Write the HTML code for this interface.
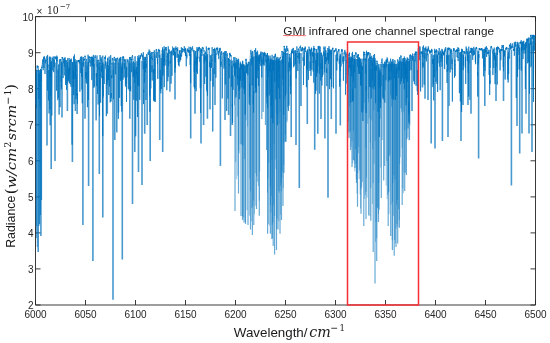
<!DOCTYPE html>
<html><head><meta charset="utf-8"><style>
html,body{margin:0;padding:0;background:#fff;width:550px;height:343px;overflow:hidden}
svg{display:block}
.tk{font-family:"Liberation Sans",Arial,sans-serif;font-size:10px;fill:#262626}
.s{font-family:"Liberation Sans",Arial,sans-serif;fill:#1a1a1a}
.r{font-family:"Liberation Serif","Times New Roman",serif;fill:#1a1a1a}
.i{font-style:italic}
.d{font-family:"DejaVu Serif",serif;fill:#1a1a1a;font-style:italic}
.du{font-family:"DejaVu Serif",serif;fill:#1a1a1a}
</style></head><body>
<svg width="550" height="343" viewBox="0 0 550 343">
<rect width="550" height="343" fill="#fff"/>
<path d="M35.5 16.6H535.5V305.0H35.5ZM35.5 305.0V300.0M35.5 16.6V21.6M85.5 305.0V300.0M85.5 16.6V21.6M135.5 305.0V300.0M135.5 16.6V21.6M185.5 305.0V300.0M185.5 16.6V21.6M235.5 305.0V300.0M235.5 16.6V21.6M285.5 305.0V300.0M285.5 16.6V21.6M335.5 305.0V300.0M335.5 16.6V21.6M385.5 305.0V300.0M385.5 16.6V21.6M435.5 305.0V300.0M435.5 16.6V21.6M485.5 305.0V300.0M485.5 16.6V21.6M535.5 305.0V300.0M535.5 16.6V21.6M35.5 305.0H40.5M535.5 305.0H530.5M35.5 268.9H40.5M535.5 268.9H530.5M35.5 232.9H40.5M535.5 232.9H530.5M35.5 196.9H40.5M535.5 196.9H530.5M35.5 160.8H40.5M535.5 160.8H530.5M35.5 124.8H40.5M535.5 124.8H530.5M35.5 88.7H40.5M535.5 88.7H530.5M35.5 52.7H40.5M535.5 52.7H530.5M35.5 16.6H40.5M535.5 16.6H530.5" fill="none" stroke="#262626" stroke-width="1" stroke-opacity="0.9"/>
<path d="M234.5 61.4V105.1M235.7 61.9V162.1M236.3 62.2V95.2M236.7 62.4V179.3M237.3 62.6V116.7M237.9 62.9V175.7M238.6 63.2V150.4M239.2 63.5V153.4M240.3 63.9V143.9M241.4 64.4V144.7M242.0 64.7V144.2M242.5 64.9V216.6M243.0 65.1V146.1M243.6 65.4V217.5M244.5 65.8V159.1M245.3 65.8V222.0M246.0 65.5V120.2M247.0 65.0V210.1M247.7 64.6V126.7M248.9 64.0V103.6M249.4 62.5V215.7M249.9 60.9V178.4M250.4 59.3V191.3M251.3 57.0V221.3M251.8 56.9V208.1M252.9 56.7V206.5M253.6 56.6V200.5M254.4 56.4V214.2M255.2 56.3V173.1M255.7 56.2V205.7M256.6 56.1V176.4M257.7 56.2V181.8M258.4 56.4V186.1M259.2 56.6V200.7M259.7 56.8V171.4M267.5 59.1V192.6M268.1 59.2V178.3M268.5 59.2V223.9M268.8 59.3V162.9M269.3 59.3V225.6M269.9 59.4V93.0M270.2 59.5V186.9M270.5 59.5V205.2M270.9 59.6V212.5M271.3 59.6V195.9M271.9 59.7V159.7M272.2 59.7V224.9M272.5 59.8V238.1M273.0 59.9V222.5M273.6 59.9V205.5M274.2 60.0V144.5M274.7 60.1V216.0M275.2 60.2V159.5M275.7 60.2V97.9M276.0 60.3V168.9M276.3 60.3V113.2M276.6 60.4V228.9M277.3 60.5V218.7M277.9 60.6V115.1M278.5 60.6V191.0M278.8 60.7V221.2M279.2 60.7V123.6M279.6 60.8V192.7M280.0 60.9V111.9M280.3 60.9V214.7M280.7 61.0V185.9M281.1 60.6V183.0M281.6 59.3V191.0M281.9 58.5V177.8M282.3 57.5V171.8M282.8 56.3V86.1M283.3 54.8V188.1M283.8 53.5V164.9M284.1 53.0V142.7M284.7 53.0V99.5M285.0 53.0V141.6M285.4 53.0V134.6M285.7 53.0V79.6M286.4 53.0V93.9M286.9 53.0V122.6M287.2 53.0V120.8M287.5 53.0V107.1M287.8 53.0V72.3M348.0 57.2V133.1M348.5 57.4V121.7M348.9 57.5V131.2M349.4 57.6V106.5M349.8 57.7V132.6M350.6 57.9V131.0M351.2 58.0V146.8M352.0 58.2V141.5M352.8 58.3V163.6M353.5 58.4V130.9M354.2 58.5V161.5M354.8 58.6V171.5M355.4 58.7V149.0M355.9 58.8V163.9M356.3 58.9V179.3M357.0 59.0V193.5M357.8 59.0V173.0M358.4 58.9V153.2M358.7 58.9V146.8M359.2 58.9V179.0M359.6 58.9V170.4M360.1 58.8V194.6M360.7 58.8V208.4M361.0 58.8V189.0M361.8 58.7V187.2M362.5 58.7V181.9M362.9 58.7V112.2M363.7 58.6V109.3M364.2 58.6V103.0M364.7 58.6V198.9M365.3 58.5V194.9M365.8 58.5V148.2M366.1 58.5V192.0M366.6 58.5V177.6M367.1 58.4V197.7M367.7 58.4V123.7M368.3 58.4V98.8M368.6 58.4V102.3M369.3 58.3V118.4M369.9 58.3V216.0M370.3 58.3V142.8M370.9 58.2V188.3M371.7 58.2V120.4M372.4 58.1V204.0M372.8 58.1V149.1M373.1 58.1V183.1M373.8 58.1V110.1M374.2 58.0V163.8M375.0 58.0V141.2M375.6 63.1V241.8M376.1 65.9V221.9M376.8 65.5V238.1M377.4 65.1V208.0M377.7 64.9V207.4M378.5 64.4V213.9M378.8 64.1V182.9M379.5 64.0V209.6M380.3 64.0V118.7M380.8 64.0V167.5M385.5 64.0V90.0M386.2 64.0V185.6M386.8 64.0V161.1M387.2 64.0V199.1M387.8 64.0V195.1M388.4 64.0V192.7M388.9 64.0V191.6M389.1 64.0V213.8M389.5 64.0V156.1M390.1 64.0V154.2M390.5 64.0V95.2M391.1 64.0V204.5M391.6 64.0V106.5M392.2 64.0V240.4M392.6 64.0V201.8M392.9 64.0V183.2M393.4 64.0V215.9M393.9 64.0V175.3M394.5 64.0V240.0M395.2 64.0V179.6M395.6 64.0V243.4M396.1 64.0V228.5M396.5 64.0V204.7M396.9 64.0V224.0M397.4 63.6V200.0M397.8 63.2V226.7M398.5 62.5V209.2M399.2 61.8V220.1M399.7 61.3V164.3M400.3 61.1V157.4M400.9 61.2V107.9M401.2 61.2V108.9M401.6 61.3V112.3M402.1 61.4V148.3M402.8 61.6V188.5M403.4 61.7V193.1M403.8 61.8V111.6M404.2 61.8V172.5M404.8 62.0V130.1M405.5 61.9V172.8M406.0 61.7V102.4M406.6 61.6V139.3M407.2 61.4V139.3M407.9 61.2V137.1M408.4 61.0V112.0M408.8 60.9V140.4M409.2 60.8V124.6M409.9 60.6V124.9" stroke="#0072bd" stroke-width="1" stroke-opacity="0.4" fill="none"/>
<path d="M235.0 61.7V211.0M238.5 63.2V193.5M241.0 64.3V216.0M242.5 64.9V220.0M244.0 65.6V222.6M245.5 65.8V224.0M248.0 64.5V225.0M250.5 58.8V229.6M252.4 56.8V235.0M253.8 56.5V225.0M256.5 56.1V209.0M259.3 56.7V215.7M261.8 57.4V119.0M263.2 57.9V112.0M265.5 58.5V125.0M266.6 58.9V150.0M267.6 59.1V233.7M270.4 59.5V233.7M271.8 59.7V239.0M273.2 59.9V246.0M274.6 60.1V254.5M276.5 60.4V250.0M278.0 60.6V229.6M280.0 60.9V233.7M281.5 59.7V220.0M283.0 55.7V206.0M284.0 53.0V173.0M349.0 57.5V138.0M350.5 57.9V150.0M352.0 58.2V167.0M353.5 58.4V160.0M355.0 58.7V168.0M356.5 58.9V183.0M357.5 59.0V206.7M361.0 58.8V213.7M363.8 58.6V226.0M366.0 58.5V219.0M368.7 58.4V215.5M370.8 58.2V220.7M373.2 58.1V252.0M375.0 58.0V283.6M376.7 65.5V261.0M378.5 64.3V222.0M381.3 64.0V198.0M383.7 64.0V180.5M382.0 64.0V140.0M384.6 64.0V166.0M388.2 64.0V226.0M390.7 64.0V236.0M392.4 64.0V250.0M394.2 64.0V255.7M396.0 64.0V247.0M397.7 63.3V243.4M399.4 61.6V227.7M402.2 61.4V205.0M404.7 61.9V191.0M406.4 61.6V175.0M408.0 61.1V128.5M409.5 60.7V140.0" stroke="#0072bd" stroke-width="1.2" stroke-opacity="0.6" fill="none"/>
<path d="M36.9 70.0V238.0M37.6 70.0V247.0M38.2 70.0V252.0M40.9 70.0V236.0M47.0 62.1V145.6M51.2 62.2V169.0M55.0 62.4V161.0M62.0 62.4V117.5M67.4 62.2V111.0M72.4 62.0V162.0M75.4 61.8V111.0M82.9 61.5V225.0M85.0 61.6V118.7M88.6 61.8V186.0M92.9 62.1V261.0M99.3 62.5V174.0M102.8 62.5V217.4M107.3 62.5V113.7M113.0 62.5V299.7M114.8 62.5V140.0M118.5 62.5V112.5M122.3 62.5V259.5M129.8 62.5V118.7M132.5 62.5V204.0M134.8 62.5V152.0M138.5 62.5V172.0M142.0 60.7V185.0M144.7 58.2V133.7M150.2 56.3V161.0M159.7 54.8V140.0M162.7 54.4V152.0M175.0 54.0V99.5M190.7 54.0V138.6M195.0 54.0V113.7M201.0 54.0V143.6M203.6 54.0V125.0M207.4 54.0V118.7M215.0 54.0V105.0M220.4 55.5V166.0M225.0 57.3V120.0M228.6 58.9V115.0M230.5 59.7V136.0M232.3 60.5V125.0M285.8 53.0V141.7M291.2 53.0V137.0M296.0 53.0V145.0M299.3 53.0V188.0M301.0 53.0V106.0M307.3 53.0V124.0M314.7 53.0V149.7M317.8 53.0V133.7M321.0 53.0V119.0M324.9 53.0V138.5M328.0 53.0V197.7M331.3 53.4V119.0M336.0 54.8V133.7M340.3 56.0V125.6M412.0 60.0V111.0M422.5 52.5V87.5M425.0 53.0V98.7M428.0 53.4V100.0M431.2 53.8V143.6M435.0 54.3V148.6M437.0 54.6V84.0M442.4 55.0V141.0M448.0 54.8V137.0M449.0 54.8V106.0M461.0 54.6V141.0M463.0 54.5V105.0M468.0 54.4V105.0M470.0 54.4V100.0M471.0 54.4V113.7M478.6 54.2V158.6M484.8 54.1V106.0M496.0 52.8V101.0M503.5 51.3V101.0M511.4 49.6V185.4M517.0 48.1V126.0M519.7 47.4V153.6M522.0 46.8V133.6M526.0 45.2V113.7M529.0 42.8V133.6M532.0 41.3V152.0" stroke="#0072bd" stroke-width="1.6" stroke-opacity="0.72" fill="none"/>
<path d="M36.2 70.0V226.0M38.9 70.0V226.0M39.6 70.0V224.0M41.6 70.0V200.0M40.4 70.0V215.0" stroke="#0072bd" stroke-width="1" stroke-opacity="0.85" fill="none"/>
<polyline fill="none" stroke="#0072bd" stroke-width="0.7" stroke-linejoin="round" points="35.90,104.5 35.95,104.5 36.00,96.9 36.05,94.7 36.10,94.5 36.15,87.0 36.20,80.1 36.25,75.7 36.30,74.5 36.35,73.8 36.40,74.9 36.45,79.4 36.50,96.7 36.55,108.1 36.60,84.6 36.65,74.6 36.70,71.5 36.75,69.9 36.80,69.1 36.85,68.9 36.90,68.3 36.95,67.5 37.00,67.5 37.05,67.5 37.10,65.6 37.15,67.1 37.20,67.3 37.25,67.1 37.30,67.2 37.35,67.2 37.40,66.9 37.45,66.6 37.50,66.5 37.55,65.9 37.60,66.6 37.65,65.8 37.70,66.2 37.75,66.0 37.80,67.3 37.85,66.1 37.90,67.3 37.95,66.7 38.00,66.8 38.05,66.8 38.10,67.5 38.15,67.4 38.20,69.1 38.25,69.3 38.30,68.7 38.35,71.4 38.40,70.3 38.45,70.9 38.50,71.9 38.55,72.4 38.60,74.3 38.65,76.6 38.70,83.1 38.75,89.1 38.80,99.0 38.85,93.7 38.90,84.1 38.95,79.1 39.00,77.4 39.05,75.9 39.10,76.0 39.15,75.7 39.20,75.3 39.25,77.9 39.30,86.1 39.35,80.7 39.40,76.2 39.45,74.6 39.50,77.2 39.55,82.5 39.60,78.5 39.65,75.3 39.70,73.7 39.75,73.1 39.80,73.3 39.85,76.4 39.90,81.0 39.95,86.5 40.00,84.2 40.05,86.7 40.10,98.7 40.15,107.2 40.20,94.0 40.25,82.3 40.30,75.5 40.35,72.4 40.40,71.3 40.45,70.6 40.50,69.9 40.55,69.7 40.60,69.5 40.65,69.6 40.70,69.4 40.75,70.0 40.80,69.0 40.85,68.9 40.90,69.2 40.95,69.5 41.00,70.3 41.05,71.4 41.10,74.2 41.15,77.8 41.20,81.4 41.25,80.3 41.30,76.8 41.35,72.3 41.40,70.1 41.45,68.9 41.50,68.8 41.55,68.5 41.60,67.4 41.65,68.0 41.70,67.3 41.75,67.4 41.80,67.0 41.85,67.0 41.90,68.2 41.95,67.3 42.00,66.9 42.05,66.4 42.10,66.8 42.15,65.1 42.20,65.5 42.25,64.2 42.30,63.8 42.35,62.9 42.40,63.3 42.45,63.0 42.50,61.4 42.55,61.1 42.60,61.5 42.65,61.8 42.70,61.1 42.75,59.8 42.80,60.0 42.85,59.5 42.90,60.1 42.95,60.0 43.00,61.2 43.05,64.6 43.10,68.3 43.15,70.2 43.20,67.2 43.25,62.4 43.30,60.6 43.35,59.8 43.40,59.1 43.45,60.8 43.50,61.2 43.55,57.8 43.60,58.9 43.65,56.8 43.70,57.0 43.75,58.1 43.80,59.6 43.85,60.8 43.90,65.1 43.95,68.1 44.00,65.5 44.05,60.3 44.10,57.9 44.15,57.5 44.20,57.6 44.25,57.5 44.30,59.7 44.35,56.8 44.40,56.3 44.45,56.3 44.50,56.6 44.55,56.5 44.60,57.0 44.65,57.3 44.70,58.4 44.75,58.0 44.80,58.7 44.85,60.3 44.90,63.1 44.95,68.5 45.00,74.0 45.05,72.5 45.10,65.6 45.15,62.3 45.20,60.4 45.25,60.4 45.30,60.0 45.35,60.9 45.40,61.5 45.45,63.0 45.50,63.3 45.55,61.9 45.60,60.8 45.65,60.4 45.70,59.9 45.75,59.5 45.80,59.8 45.85,59.8 45.90,61.0 45.95,59.9 46.00,60.2 46.05,60.3 46.10,61.8 46.15,61.1 46.20,60.2 46.25,60.1 46.30,59.7 46.35,58.5 46.40,58.2 46.45,57.7 46.50,57.3 46.55,57.1 46.60,56.6 46.65,56.3 46.70,56.7 46.75,56.7 46.80,57.4 46.85,57.2 46.90,57.8 46.95,59.3 47.00,58.8 47.05,59.6 47.10,62.4 47.15,65.3 47.20,70.7 47.25,74.4 47.30,74.1 47.35,75.1 47.40,81.8 47.45,90.4 47.50,88.5 47.55,78.0 47.60,54.9 47.65,68.6 47.70,66.1 47.75,65.3 47.80,64.9 47.85,64.9 47.90,65.1 47.95,65.6 48.00,64.9 48.05,64.7 48.10,65.1 48.15,66.6 48.20,68.8 48.25,70.7 48.30,73.8 48.35,80.7 48.40,91.1 48.45,100.4 48.50,98.6 48.55,88.8 48.60,79.2 48.65,73.4 48.70,70.9 48.75,70.0 48.80,70.8 48.85,74.1 48.90,78.1 48.95,87.3 49.00,99.7 49.05,113.4 49.10,113.2 49.15,98.8 49.20,85.9 49.25,77.4 49.30,72.7 49.35,56.8 49.40,70.0 49.45,72.1 49.50,77.1 49.55,74.9 49.60,70.2 49.65,69.9 49.70,70.4 49.75,73.6 49.80,80.0 49.85,86.7 49.90,100.5 49.95,109.2 50.00,56.6 50.05,105.1 50.10,110.5 50.15,125.3 50.20,115.1 50.25,96.9 50.30,94.6 50.35,93.2 50.40,83.6 50.45,75.1 50.50,70.8 50.55,69.4 50.60,72.3 50.65,76.9 50.70,70.4 50.75,66.9 50.80,70.8 50.85,77.5 50.90,57.2 50.95,95.8 51.00,83.6 51.05,71.8 51.10,66.3 51.15,63.8 51.20,62.9 51.25,61.4 51.30,62.1 51.35,61.7 51.40,62.7 51.45,64.7 51.50,65.2 51.55,67.1 51.60,69.5 51.65,74.7 51.70,86.1 51.75,101.8 51.80,115.5 51.85,107.4 51.90,94.6 51.95,85.7 52.00,80.7 52.05,77.0 52.10,71.3 52.15,65.3 52.20,62.1 52.25,60.6 52.30,59.9 52.35,59.2 52.40,59.0 52.45,59.1 52.50,58.9 52.55,58.0 52.60,58.9 52.65,59.5 52.70,61.2 52.75,68.0 52.80,70.4 52.85,62.0 52.90,58.8 52.95,58.1 53.00,58.6 53.05,58.0 53.10,57.0 53.15,57.2 53.20,56.7 53.25,57.3 53.30,56.7 53.35,57.3 53.40,57.6 53.45,58.4 53.50,60.2 53.55,61.6 53.60,64.6 53.65,69.3 53.70,72.1 53.75,69.4 53.80,64.8 53.85,61.6 53.90,60.5 53.95,61.6 54.00,59.5 54.05,59.4 54.10,59.8 54.15,61.2 54.20,62.8 54.25,64.8 54.30,67.1 54.35,65.9 54.40,62.0 54.45,59.3 54.50,58.2 54.55,58.3 54.60,57.6 54.65,56.9 54.70,56.8 54.75,57.2 54.80,56.9 54.85,56.9 54.90,56.9 54.95,57.0 55.00,56.7 55.05,57.2 55.10,56.7 55.15,56.9 55.20,57.0 55.25,57.9 55.30,57.2 55.35,57.6 55.40,57.8 55.45,57.9 55.50,58.1 55.55,58.4 55.60,58.5 55.65,58.6 55.70,59.2 55.75,59.2 55.80,58.2 55.85,58.0 55.90,57.8 55.95,58.7 56.00,57.1 56.05,57.8 56.10,57.3 56.15,57.5 56.20,58.6 56.25,58.0 56.30,57.9 56.35,59.3 56.40,61.3 56.45,65.7 56.50,74.6 56.55,90.1 56.60,90.7 56.65,75.3 56.70,67.0 56.75,55.6 56.80,61.0 56.85,60.1 56.90,61.4 56.95,59.1 57.00,58.9 57.05,58.2 57.10,57.8 57.15,57.1 57.20,57.1 57.25,56.7 57.30,57.2 57.35,57.9 57.40,58.0 57.45,57.9 57.50,58.7 57.55,59.1 57.60,59.9 57.65,61.0 57.70,64.5 57.75,70.0 57.80,83.4 57.85,100.2 57.90,91.3 57.95,76.2 58.00,70.7 58.05,69.6 58.10,72.4 58.15,79.8 58.20,90.7 58.25,97.9 58.30,87.3 58.35,77.3 58.40,69.8 58.45,66.7 58.50,66.1 58.55,65.0 58.60,64.5 58.65,64.5 58.70,65.8 58.75,67.5 58.80,70.8 58.85,76.2 58.90,83.2 58.95,84.7 59.00,89.7 59.05,107.7 59.10,114.6 59.15,100.6 59.20,90.1 59.25,80.1 59.30,73.9 59.35,70.9 59.40,66.1 59.45,64.0 59.50,63.3 59.55,62.6 59.60,62.1 59.65,60.8 59.70,61.1 59.75,59.2 59.80,62.6 59.85,64.5 59.90,66.9 59.95,73.9 60.00,89.9 60.05,107.2 60.10,91.7 60.15,74.9 60.20,67.2 60.25,63.3 60.30,61.7 60.35,60.5 60.40,59.9 60.45,60.1 60.50,60.0 60.55,59.4 60.60,60.0 60.65,59.3 60.70,60.5 60.75,60.4 60.80,61.0 60.85,61.7 60.90,62.7 60.95,63.8 61.00,66.6 61.05,71.7 61.10,81.5 61.15,82.4 61.20,75.7 61.25,77.9 61.30,89.3 61.35,85.1 61.40,84.5 61.45,86.7 61.50,75.4 61.55,66.2 61.60,63.1 61.65,61.8 61.70,63.0 61.75,67.9 61.80,74.3 61.85,70.9 61.90,64.0 61.95,61.0 62.00,60.0 62.05,58.0 62.10,57.6 62.15,57.1 62.20,57.9 62.25,57.5 62.30,57.5 62.35,57.3 62.40,57.7 62.45,57.1 62.50,58.2 62.55,57.4 62.60,57.7 62.65,58.2 62.70,58.2 62.75,59.3 62.80,58.8 62.85,59.4 62.90,61.0 62.95,62.7 63.00,67.1 63.05,74.0 63.10,78.1 63.15,72.8 63.20,67.3 63.25,64.2 63.30,62.3 63.35,61.7 63.40,62.9 63.45,61.0 63.50,60.9 63.55,61.1 63.60,60.5 63.65,60.0 63.70,60.3 63.75,59.9 63.80,59.7 63.85,59.3 63.90,60.3 63.95,59.5 64.00,58.8 64.05,59.0 64.10,59.2 64.15,60.2 64.20,60.2 64.25,62.3 64.30,63.7 64.35,57.6 64.40,66.7 64.45,65.2 64.50,63.6 64.55,63.3 64.60,66.2 64.65,71.8 64.70,75.4 64.75,74.7 64.80,72.0 64.85,71.5 64.90,65.6 64.95,61.6 65.00,61.8 65.05,58.6 65.10,58.1 65.15,58.2 65.20,58.0 65.25,57.8 65.30,57.5 65.35,58.5 65.40,59.7 65.45,62.7 65.50,68.1 65.55,83.1 65.60,85.0 65.65,69.9 65.70,64.6 65.75,61.8 65.80,60.6 65.85,60.8 65.90,60.2 65.95,60.7 66.00,60.5 66.05,60.0 66.10,62.2 66.15,60.8 66.20,62.6 66.25,62.4 66.30,64.3 66.35,66.2 66.40,68.7 66.45,74.1 66.50,81.5 66.55,89.9 66.60,87.0 66.65,80.9 66.70,72.2 66.75,68.6 66.80,65.2 66.85,64.9 66.90,63.6 66.95,62.3 67.00,62.4 67.05,63.3 67.10,66.2 67.15,70.8 67.20,78.4 67.25,83.4 67.30,77.3 67.35,69.1 67.40,64.9 67.45,61.7 67.50,59.8 67.55,58.8 67.60,58.3 67.65,58.7 67.70,58.5 67.75,58.5 67.80,58.8 67.85,59.0 67.90,59.5 67.95,59.6 68.00,59.6 68.05,61.2 68.10,61.2 68.15,62.4 68.20,64.5 68.25,66.1 68.30,68.8 68.35,74.2 68.40,81.4 68.45,77.4 68.50,71.1 68.55,68.2 68.60,68.6 68.65,72.9 68.70,79.2 68.75,75.9 68.80,68.8 68.85,63.4 68.90,60.8 68.95,59.5 69.00,58.6 69.05,59.1 69.10,58.5 69.15,58.1 69.20,59.9 69.25,60.0 69.30,63.0 69.35,70.0 69.40,83.1 69.45,81.4 69.50,70.5 69.55,67.7 69.60,71.6 69.65,73.9 69.70,67.7 69.75,63.2 69.80,61.2 69.85,60.3 69.90,61.4 69.95,61.2 70.00,65.4 70.05,67.2 70.10,79.6 70.15,84.1 70.20,75.2 70.25,67.0 70.30,64.6 70.35,61.3 70.40,61.8 70.45,59.3 70.50,59.5 70.55,59.4 70.60,61.2 70.65,60.1 70.70,61.3 70.75,63.1 70.80,66.8 70.85,71.3 70.90,80.3 70.95,86.7 71.00,82.6 71.05,73.4 71.10,66.6 71.15,62.4 71.20,60.7 71.25,59.7 71.30,58.6 71.35,59.2 71.40,59.4 71.45,59.3 71.50,60.5 71.55,60.2 71.60,61.4 71.65,62.6 71.70,65.2 71.75,69.0 71.80,75.9 71.85,82.6 71.90,89.6 71.95,101.7 72.00,124.0 72.05,144.6 72.10,139.8 72.15,113.8 72.20,94.1 72.25,80.8 72.30,73.5 72.35,69.3 72.40,67.6 72.45,66.7 72.50,64.0 72.55,62.8 72.60,62.7 72.65,62.0 72.70,62.4 72.75,63.3 72.80,65.1 72.85,66.3 72.90,67.7 72.95,72.7 73.00,77.9 73.05,78.5 73.10,74.2 73.15,70.7 73.20,70.1 73.25,72.5 73.30,77.7 73.35,86.8 73.40,84.6 73.45,77.0 73.50,72.8 73.55,56.4 73.60,77.9 73.65,86.7 73.70,95.1 73.75,91.9 73.80,83.1 73.85,76.1 73.90,71.6 73.95,71.8 74.00,77.5 74.05,92.0 74.10,104.2 74.15,84.7 74.20,73.5 74.25,71.4 74.30,70.2 74.35,67.1 74.40,63.7 74.45,54.4 74.50,61.0 74.55,61.2 74.60,60.7 74.65,61.7 74.70,65.0 74.75,72.3 74.80,79.2 74.85,70.5 74.90,64.1 74.95,61.2 75.00,60.6 75.05,59.4 75.10,59.3 75.15,59.6 75.20,59.2 75.25,59.7 75.30,60.3 75.35,62.4 75.40,63.7 75.45,68.6 75.50,71.6 75.55,75.7 75.60,76.0 75.65,70.6 75.70,68.2 75.75,65.7 75.80,65.0 75.85,66.1 75.90,70.8 75.95,83.2 76.00,99.2 76.05,84.1 76.10,75.2 76.15,78.3 76.20,84.2 76.25,86.5 76.30,89.8 76.35,95.4 76.40,85.0 76.45,72.6 76.50,65.9 76.55,62.6 76.60,61.4 76.65,60.3 76.70,62.2 76.75,62.9 76.80,62.2 76.85,64.0 76.90,67.5 76.95,71.2 77.00,81.7 77.05,102.4 77.10,114.0 77.15,109.6 77.20,100.6 77.25,93.1 77.30,94.9 77.35,103.2 77.40,103.7 77.45,92.3 77.50,79.4 77.55,72.1 77.60,67.8 77.65,65.8 77.70,64.1 77.75,63.0 77.80,62.7 77.85,61.7 77.90,61.2 77.95,60.7 78.00,60.8 78.05,61.9 78.10,60.4 78.15,60.9 78.20,60.7 78.25,61.1 78.30,60.3 78.35,60.9 78.40,60.8 78.45,61.1 78.50,61.3 78.55,61.6 78.60,61.2 78.65,61.0 78.70,61.6 78.75,60.8 78.80,61.6 78.85,60.7 78.90,61.4 78.95,61.4 79.00,60.2 79.05,61.1 79.10,60.2 79.15,59.8 79.20,60.5 79.25,60.0 79.30,61.2 79.35,60.0 79.40,63.4 79.45,60.7 79.50,60.3 79.55,61.2 79.60,61.6 79.65,62.6 79.70,65.2 79.75,69.8 79.80,79.9 79.85,91.6 79.90,91.7 79.95,81.1 80.00,75.9 80.05,71.4 80.10,65.3 80.15,61.4 80.20,60.3 80.25,58.7 80.30,58.1 80.35,57.6 80.40,57.3 80.45,57.6 80.50,57.5 80.55,57.9 80.60,58.1 80.65,61.3 80.70,66.4 80.75,72.9 80.80,67.6 80.85,61.3 80.90,58.2 80.95,57.2 81.00,57.1 81.05,56.5 81.10,56.7 81.15,57.3 81.20,58.2 81.25,58.2 81.30,59.0 81.35,60.0 81.40,60.9 81.45,63.0 81.50,66.8 81.55,73.0 81.60,76.7 81.65,73.4 81.70,68.0 81.75,56.6 81.80,67.2 81.85,71.3 81.90,86.0 81.95,89.6 82.00,76.9 82.05,68.8 82.10,69.2 82.15,74.1 82.20,87.6 82.25,103.3 82.30,86.1 82.35,71.0 82.40,65.3 82.45,62.5 82.50,61.6 82.55,60.4 82.60,60.1 82.65,59.9 82.70,60.0 82.75,59.2 82.80,58.1 82.85,58.2 82.90,57.8 82.95,58.1 83.00,57.7 83.05,57.4 83.10,57.3 83.15,57.2 83.20,57.5 83.25,57.1 83.30,58.3 83.35,59.6 83.40,61.8 83.45,66.5 83.50,66.4 83.55,63.2 83.60,61.0 83.65,59.3 83.70,59.1 83.75,58.8 83.80,60.2 83.85,59.5 83.90,59.3 83.95,59.9 84.00,59.3 84.05,60.0 84.10,59.3 84.15,59.5 84.20,59.6 84.25,59.6 84.30,59.7 84.35,60.0 84.40,59.9 84.45,60.5 84.50,60.4 84.55,60.6 84.60,59.9 84.65,59.5 84.70,59.1 84.75,57.9 84.80,57.6 84.85,57.5 84.90,57.3 84.95,56.2 85.00,56.8 85.05,55.6 85.10,56.2 85.15,56.6 85.20,56.3 85.25,56.7 85.30,57.3 85.35,58.2 85.40,59.2 85.45,60.3 85.50,62.1 85.55,64.0 85.60,65.1 85.65,72.1 85.70,77.1 85.75,75.0 85.80,72.3 85.85,73.9 85.90,78.0 85.95,79.1 86.00,73.5 86.05,71.9 86.10,73.4 86.15,82.7 86.20,79.4 86.25,68.3 86.30,61.9 86.35,59.4 86.40,59.1 86.45,59.5 86.50,58.9 86.55,59.0 86.60,59.4 86.65,60.6 86.70,61.3 86.75,63.7 86.80,69.6 86.85,80.6 86.90,83.7 86.95,73.3 87.00,67.0 87.05,65.5 87.10,65.4 87.15,67.0 87.20,68.7 87.25,71.3 87.30,78.5 87.35,91.4 87.40,107.2 87.45,105.9 87.50,87.2 87.55,76.3 87.60,71.3 87.65,67.3 87.70,65.5 87.75,64.4 87.80,63.9 87.85,63.8 87.90,63.2 87.95,62.3 88.00,62.8 88.05,54.7 88.10,64.8 88.15,63.0 88.20,63.3 88.25,64.5 88.30,68.8 88.35,82.2 88.40,99.9 88.45,81.8 88.50,67.6 88.55,62.5 88.60,60.3 88.65,58.5 88.70,58.9 88.75,57.9 88.80,57.1 88.85,56.4 88.90,56.9 88.95,57.3 89.00,57.2 89.05,56.5 89.10,56.6 89.15,56.7 89.20,57.0 89.25,56.8 89.30,58.1 89.35,57.1 89.40,56.9 89.45,58.0 89.50,58.7 89.55,58.9 89.60,60.3 89.65,59.4 89.70,59.5 89.75,59.9 89.80,61.9 89.85,62.6 89.90,60.9 89.95,61.0 90.00,60.6 90.05,61.4 90.10,60.7 90.15,61.7 90.20,61.6 90.25,63.1 90.30,65.6 90.35,66.6 90.40,64.6 90.45,61.1 90.50,59.5 90.55,58.1 90.60,57.5 90.65,57.1 90.70,57.5 90.75,57.4 90.80,57.9 90.85,56.9 90.90,57.2 90.95,57.5 91.00,57.5 91.05,58.0 91.10,57.9 91.15,58.0 91.20,58.5 91.25,57.6 91.30,57.4 91.35,58.0 91.40,57.7 91.45,58.1 91.50,58.5 91.55,60.4 91.60,62.1 91.65,64.6 91.70,70.8 91.75,79.4 91.80,80.1 91.85,56.7 91.90,65.4 91.95,60.9 92.00,59.1 92.05,57.9 92.10,58.1 92.15,56.8 92.20,57.0 92.25,56.9 92.30,57.6 92.35,59.5 92.40,62.0 92.45,65.2 92.50,64.6 92.55,60.9 92.60,59.0 92.65,58.7 92.70,57.9 92.75,59.8 92.80,62.7 92.85,65.7 92.90,62.8 92.95,59.5 93.00,58.6 93.05,58.5 93.10,60.2 93.15,60.8 93.20,65.4 93.25,66.9 93.30,63.6 93.35,54.9 93.40,60.3 93.45,60.0 93.50,61.0 93.55,61.2 93.60,61.1 93.65,58.3 93.70,66.4 93.75,72.2 93.80,82.0 93.85,87.8 93.90,78.9 93.95,70.0 94.00,66.2 94.05,64.2 94.10,64.7 94.15,68.2 94.20,69.6 94.25,78.6 94.30,84.6 94.35,86.4 94.40,80.1 94.45,72.3 94.50,65.9 94.55,62.5 94.60,60.1 94.65,58.8 94.70,58.2 94.75,57.3 94.80,57.8 94.85,56.8 94.90,57.6 94.95,56.0 95.00,56.0 95.05,56.3 95.10,56.2 95.15,55.6 95.20,55.3 95.25,55.1 95.30,55.2 95.35,55.2 95.40,56.0 95.45,56.2 95.50,56.6 95.55,56.8 95.60,58.5 95.65,58.6 95.70,59.3 95.75,61.9 95.80,62.8 95.85,66.7 95.90,72.1 95.95,79.5 96.00,89.1 96.05,103.0 96.10,120.4 96.15,117.6 96.20,95.2 96.25,81.1 96.30,75.1 96.35,73.0 96.40,74.0 96.45,77.0 96.50,76.4 96.55,74.8 96.60,74.8 96.65,80.8 96.70,86.1 96.75,77.9 96.80,69.4 96.85,66.1 96.90,63.6 96.95,55.5 97.00,64.5 97.05,66.8 97.10,66.7 97.15,64.5 97.20,61.9 97.25,61.2 97.30,59.9 97.35,60.2 97.40,61.5 97.45,62.4 97.50,67.7 97.55,78.4 97.60,94.0 97.65,77.2 97.70,68.5 97.75,65.2 97.80,64.3 97.85,64.4 97.90,65.2 97.95,68.3 98.00,74.7 98.05,88.1 98.10,104.5 98.15,101.8 98.20,91.9 98.25,79.5 98.30,69.2 98.35,64.2 98.40,62.9 98.45,61.2 98.50,60.3 98.55,59.8 98.60,60.8 98.65,60.4 98.70,60.5 98.75,60.4 98.80,60.9 98.85,62.0 98.90,63.3 98.95,64.0 99.00,65.3 99.05,67.5 99.10,70.1 99.15,69.6 99.20,68.4 99.25,67.1 99.30,67.1 99.35,69.0 99.40,75.1 99.45,94.3 99.50,116.1 99.55,88.9 99.60,79.3 99.65,78.3 99.70,83.1 99.75,87.9 99.80,84.3 99.85,77.4 99.90,73.8 99.95,76.0 100.00,72.1 100.05,55.0 100.10,64.0 100.15,63.0 100.20,64.4 100.25,64.9 100.30,65.0 100.35,66.2 100.40,68.6 100.45,73.0 100.50,77.8 100.55,86.4 100.60,97.8 100.65,102.7 100.70,98.5 100.75,85.6 100.80,77.6 100.85,71.7 100.90,68.7 100.95,65.8 101.00,63.8 101.05,62.9 101.10,56.8 101.15,61.3 101.20,59.9 101.25,58.8 101.30,58.9 101.35,59.3 101.40,61.1 101.45,64.9 101.50,71.3 101.55,71.8 101.60,66.3 101.65,65.5 101.70,67.7 101.75,72.1 101.80,78.1 101.85,77.3 101.90,71.5 101.95,66.8 102.00,65.0 102.05,63.4 102.10,63.0 102.15,61.7 102.20,62.3 102.25,63.3 102.30,64.6 102.35,65.2 102.40,67.5 102.45,68.5 102.50,71.4 102.55,75.8 102.60,84.2 102.65,99.4 102.70,122.5 102.75,136.1 102.80,55.6 102.85,97.9 102.90,88.2 102.95,84.7 103.00,84.9 103.05,90.7 103.10,96.1 103.15,94.9 103.20,85.3 103.25,79.3 103.30,76.4 103.35,76.0 103.40,78.3 103.45,79.7 103.50,75.7 103.55,71.9 103.60,69.5 103.65,68.7 103.70,68.2 103.75,67.2 103.80,66.3 103.85,65.5 103.90,64.6 103.95,64.2 104.00,64.2 104.05,64.7 104.10,66.6 104.15,74.4 104.20,84.0 104.25,72.9 104.30,64.5 104.35,61.3 104.40,59.6 104.45,59.1 104.50,58.8 104.55,58.4 104.60,58.5 104.65,57.9 104.70,58.0 104.75,57.6 104.80,57.3 104.85,57.2 104.90,57.4 104.95,57.2 105.00,57.6 105.05,57.2 105.10,58.7 105.15,57.9 105.20,57.4 105.25,58.9 105.30,57.9 105.35,58.2 105.40,55.6 105.45,60.5 105.50,65.4 105.55,63.9 105.60,61.7 105.65,61.3 105.70,61.7 105.75,63.6 105.80,66.6 105.85,68.6 105.90,67.7 105.95,66.7 106.00,65.3 106.05,67.1 106.10,68.9 106.15,72.0 106.20,79.1 106.25,91.9 106.30,108.7 106.35,116.2 106.40,101.3 106.45,86.1 106.50,77.2 106.55,73.9 106.60,75.8 106.65,83.2 106.70,80.9 106.75,72.1 106.80,69.6 106.85,68.5 106.90,71.8 106.95,78.3 107.00,84.7 107.05,81.0 107.10,73.4 107.15,66.0 107.20,63.5 107.25,63.2 107.30,61.5 107.35,63.8 107.40,67.0 107.45,65.9 107.50,61.6 107.55,59.7 107.60,58.8 107.65,59.2 107.70,60.1 107.75,57.7 107.80,61.4 107.85,61.0 107.90,63.2 107.95,67.8 108.00,74.4 108.05,80.4 108.10,78.3 108.15,72.2 108.20,67.5 108.25,65.4 108.30,65.6 108.35,66.5 108.40,67.8 108.45,73.1 108.50,79.8 108.55,78.5 108.60,72.9 108.65,69.2 108.70,70.6 108.75,82.5 108.80,95.0 108.85,73.4 108.90,64.5 108.95,59.7 109.00,58.6 109.05,57.5 109.10,56.7 109.15,57.0 109.20,56.8 109.25,58.4 109.30,59.7 109.35,66.7 109.40,86.6 109.45,73.3 109.50,62.8 109.55,60.5 109.60,60.2 109.65,60.1 109.70,60.1 109.75,59.8 109.80,60.0 109.85,60.3 109.90,62.2 109.95,62.1 110.00,65.9 110.05,68.0 110.10,75.3 110.15,90.7 110.20,102.4 110.25,89.7 110.30,75.2 110.35,67.5 110.40,65.5 110.45,64.1 110.50,60.5 110.55,60.7 110.60,60.5 110.65,60.8 110.70,55.1 110.75,63.0 110.80,64.6 110.85,65.3 110.90,69.8 110.95,78.2 111.00,90.8 111.05,101.5 111.10,98.9 111.15,93.0 111.20,93.8 111.25,98.0 111.30,92.3 111.35,82.3 111.40,76.9 111.45,75.5 111.50,78.2 111.55,77.7 111.60,73.6 111.65,69.5 111.70,68.9 111.75,65.4 111.80,65.2 111.85,63.3 111.90,64.4 111.95,62.2 112.00,62.0 112.05,61.3 112.10,60.8 112.15,60.5 112.20,60.1 112.25,60.3 112.30,58.1 112.35,59.5 112.40,59.1 112.45,58.9 112.50,59.0 112.55,58.8 112.60,58.4 112.65,58.4 112.70,58.8 112.75,58.4 112.80,59.3 112.85,58.9 112.90,59.7 112.95,60.3 113.00,61.3 113.05,62.9 113.10,68.0 113.15,77.2 113.20,77.8 113.25,70.7 113.30,69.7 113.35,74.3 113.40,82.1 113.45,94.4 113.50,99.1 113.55,93.1 113.60,80.2 113.65,71.4 113.70,65.5 113.75,63.8 113.80,60.9 113.85,59.9 113.90,59.2 113.95,59.4 114.00,59.4 114.05,58.3 114.10,57.6 114.15,57.7 114.20,57.8 114.25,57.6 114.30,57.0 114.35,57.6 114.40,56.9 114.45,56.9 114.50,57.7 114.55,57.5 114.60,57.2 114.65,57.9 114.70,58.1 114.75,58.0 114.80,58.5 114.85,59.0 114.90,60.8 114.95,60.4 115.00,59.6 115.05,59.8 115.10,60.3 115.15,60.2 115.20,60.1 115.25,59.7 115.30,59.7 115.35,60.1 115.40,61.0 115.45,61.1 115.50,62.7 115.55,69.0 115.60,74.3 115.65,65.5 115.70,61.1 115.75,59.9 115.80,59.4 115.85,59.4 115.90,59.3 115.95,58.9 116.00,59.3 116.05,58.3 116.10,59.2 116.15,58.4 116.20,59.0 116.25,61.0 116.30,59.8 116.35,60.6 116.40,61.0 116.45,62.1 116.50,61.9 116.55,62.8 116.60,65.2 116.65,69.6 116.70,78.5 116.75,97.6 116.80,131.2 116.85,132.4 116.90,103.7 116.95,93.3 117.00,84.1 117.05,73.1 117.10,65.5 117.15,62.2 117.20,60.5 117.25,60.0 117.30,59.3 117.35,58.2 117.40,58.3 117.45,57.7 117.50,57.7 117.55,57.9 117.60,58.5 117.65,57.9 117.70,58.1 117.75,58.9 117.80,59.7 117.85,60.0 117.90,60.5 117.95,62.2 118.00,63.0 118.05,66.2 118.10,66.9 118.15,72.1 118.20,79.5 118.25,93.8 118.30,115.0 118.35,118.8 118.40,98.3 118.45,83.2 118.50,78.1 118.55,77.9 118.60,78.8 118.65,75.1 118.70,70.2 118.75,65.8 118.80,64.8 118.85,62.8 118.90,60.9 118.95,59.8 119.00,60.0 119.05,59.6 119.10,60.1 119.15,59.4 119.20,60.4 119.25,61.2 119.30,61.0 119.35,61.6 119.40,62.0 119.45,63.8 119.50,66.8 119.55,76.0 119.60,97.8 119.65,94.3 119.70,73.9 119.75,65.4 119.80,61.9 119.85,60.0 119.90,58.8 119.95,58.0 120.00,61.2 120.05,59.1 120.10,58.0 120.15,57.6 120.20,58.4 120.25,57.7 120.30,60.3 120.35,60.6 120.40,64.7 120.45,74.4 120.50,80.8 120.55,69.3 120.60,62.3 120.65,58.9 120.70,58.1 120.75,57.2 120.80,57.3 120.85,56.9 120.90,58.4 120.95,59.6 121.00,59.1 121.05,61.3 121.10,63.3 121.15,70.4 121.20,83.1 121.25,106.1 121.30,94.8 121.35,75.5 121.40,68.9 121.45,67.4 121.50,70.7 121.55,74.6 121.60,80.1 121.65,85.3 121.70,95.5 121.75,111.5 121.80,103.5 121.85,84.8 121.90,74.8 121.95,68.4 122.00,65.8 122.05,64.8 122.10,64.4 122.15,64.5 122.20,64.8 122.25,65.1 122.30,66.6 122.35,68.0 122.40,72.8 122.45,68.7 122.50,64.1 122.55,62.9 122.60,62.3 122.65,61.2 122.70,61.0 122.75,56.4 122.80,64.1 122.85,66.5 122.90,72.7 122.95,79.8 123.00,79.2 123.05,71.1 123.10,64.7 123.15,61.0 123.20,60.2 123.25,58.8 123.30,57.4 123.35,56.9 123.40,58.1 123.45,57.0 123.50,56.8 123.55,57.7 123.60,56.5 123.65,57.2 123.70,57.6 123.75,57.9 123.80,58.1 123.85,58.7 123.90,60.2 123.95,60.0 124.00,61.2 124.05,65.1 124.10,70.6 124.15,77.5 124.20,70.8 124.25,64.5 124.30,63.3 124.35,63.2 124.40,63.9 124.45,66.4 124.50,68.4 124.55,67.8 124.60,65.2 124.65,62.1 124.70,60.4 124.75,60.9 124.80,60.3 124.85,60.2 124.90,59.0 124.95,60.9 125.00,59.5 125.05,60.9 125.10,60.2 125.15,60.9 125.20,62.8 125.25,64.6 125.30,68.4 125.35,75.4 125.40,84.9 125.45,86.5 125.50,79.1 125.55,70.3 125.60,66.1 125.65,63.2 125.70,62.3 125.75,62.1 125.80,61.4 125.85,61.1 125.90,62.0 125.95,63.5 126.00,66.8 126.05,72.5 126.10,82.6 126.15,83.8 126.20,75.7 126.25,70.5 126.30,69.5 126.35,68.0 126.40,71.6 126.45,80.1 126.50,101.9 126.55,88.9 126.60,72.6 126.65,67.9 126.70,66.8 126.75,67.1 126.80,69.6 126.85,77.3 126.90,76.3 126.95,66.1 127.00,62.6 127.05,60.1 127.10,59.2 127.15,58.9 127.20,59.4 127.25,59.7 127.30,59.7 127.35,59.7 127.40,60.8 127.45,60.3 127.50,61.6 127.55,61.0 127.60,61.1 127.65,61.5 127.70,61.9 127.75,62.5 127.80,63.1 127.85,63.0 127.90,63.2 127.95,63.6 128.00,64.4 128.05,66.2 128.10,66.1 128.15,67.8 128.20,71.3 128.25,80.1 128.30,88.9 128.35,85.8 128.40,75.7 128.45,68.8 128.50,65.8 128.55,65.2 128.60,62.7 128.65,62.0 128.70,60.8 128.75,60.6 128.80,60.5 128.85,60.3 128.90,59.6 128.95,59.5 129.00,59.7 129.05,60.5 129.10,62.6 129.15,65.9 129.20,74.9 129.25,90.5 129.30,88.6 129.35,73.1 129.40,65.0 129.45,62.3 129.50,60.4 129.55,58.8 129.60,58.0 129.65,57.3 129.70,58.1 129.75,57.5 129.80,57.1 129.85,57.4 129.90,58.0 129.95,57.8 130.00,57.5 130.05,58.8 130.10,58.8 130.15,59.4 130.20,57.1 130.25,62.8 130.30,65.1 130.35,69.9 130.40,79.2 130.45,89.3 130.50,88.7 130.55,86.2 130.60,91.3 130.65,85.2 130.70,72.5 130.75,66.7 130.80,62.9 130.85,62.4 130.90,60.2 130.95,60.0 131.00,59.3 131.05,59.7 131.10,59.0 131.15,59.9 131.20,58.4 131.25,58.4 131.30,59.5 131.35,59.9 131.40,60.9 131.45,63.3 131.50,67.9 131.55,71.4 131.60,72.2 131.65,68.9 131.70,63.9 131.75,61.0 131.80,59.4 131.85,58.1 131.90,57.2 131.95,57.0 132.00,57.5 132.05,56.5 132.10,56.6 132.15,57.0 132.20,57.0 132.25,55.9 132.30,55.9 132.35,55.6 132.40,56.0 132.45,56.1 132.50,55.3 132.55,56.0 132.60,56.1 132.65,56.6 132.70,57.0 132.75,57.9 132.80,57.9 132.85,59.8 132.90,59.3 132.95,60.1 133.00,61.9 133.05,62.1 133.10,64.6 133.15,65.7 133.20,74.3 133.25,77.0 133.30,66.3 133.35,63.0 133.40,61.5 133.45,62.6 133.50,61.8 133.55,63.8 133.60,65.1 133.65,73.3 133.70,79.2 133.75,93.3 133.80,99.8 133.85,88.7 133.90,76.4 133.95,70.1 134.00,67.8 134.05,66.8 134.10,69.4 134.15,74.6 134.20,75.0 134.25,75.9 134.30,74.9 134.35,72.3 134.40,74.0 134.45,73.3 134.50,70.8 134.55,70.7 134.60,79.5 134.65,82.8 134.70,70.3 134.75,62.8 134.80,60.2 134.85,60.3 134.90,57.3 134.95,57.0 135.00,57.2 135.05,56.2 135.10,56.7 135.15,56.7 135.20,58.1 135.25,58.2 135.30,59.1 135.35,59.9 135.40,61.4 135.45,63.8 135.50,66.8 135.55,73.9 135.60,85.0 135.65,113.1 135.70,136.3 135.75,128.5 135.80,106.4 135.85,85.9 135.90,75.8 135.95,72.1 136.00,69.4 136.05,69.7 136.10,72.4 136.15,77.8 136.20,86.9 136.25,98.5 136.30,100.7 136.35,90.2 136.40,78.7 136.45,71.7 136.50,68.2 136.55,66.9 136.60,68.6 136.65,74.0 136.70,71.0 136.75,65.3 136.80,63.5 136.85,62.0 136.90,61.4 136.95,61.2 137.00,61.4 137.05,62.7 137.10,65.2 137.15,69.0 137.20,78.4 137.25,77.0 137.30,72.3 137.35,72.1 137.40,75.8 137.45,87.8 137.50,110.5 137.55,117.0 137.60,95.1 137.65,81.7 137.70,76.8 137.75,78.1 137.80,85.1 137.85,56.0 137.90,86.2 137.95,75.1 138.00,67.5 138.05,63.2 138.10,61.0 138.15,60.2 138.20,59.5 138.25,58.7 138.30,59.6 138.35,58.5 138.40,58.1 138.45,58.6 138.50,60.1 138.55,64.3 138.60,65.5 138.65,61.9 138.70,59.2 138.75,58.9 138.80,59.5 138.85,60.8 138.90,64.9 138.95,54.9 139.00,86.0 139.05,77.5 139.10,66.5 139.15,61.6 139.20,60.4 139.25,58.5 139.30,58.5 139.35,57.8 139.40,58.4 139.45,59.0 139.50,58.4 139.55,58.5 139.60,68.0 139.65,88.3 139.70,99.8 139.75,76.3 139.80,67.1 139.85,64.1 139.90,60.2 139.95,58.8 140.00,58.3 140.05,57.0 140.10,57.1 140.15,56.8 140.20,57.5 140.25,56.7 140.30,57.1 140.35,58.7 140.40,57.3 140.45,56.3 140.50,56.1 140.55,56.1 140.60,56.7 140.65,56.3 140.70,55.6 140.75,55.7 140.80,56.8 140.85,55.7 140.90,56.1 140.95,55.5 141.00,55.0 141.05,55.5 141.10,54.8 141.15,54.8 141.20,54.8 141.25,55.2 141.30,54.2 141.35,53.8 141.40,54.0 141.45,53.6 141.50,53.9 141.55,54.3 141.60,53.7 141.65,53.7 141.70,53.9 141.75,54.0 141.80,54.3 141.85,54.3 141.90,54.4 141.95,54.5 142.00,54.7 142.05,55.0 142.10,55.5 142.15,55.8 142.20,55.4 142.25,56.3 142.30,56.2 142.35,56.1 142.40,56.9 142.45,56.8 142.50,55.3 142.55,58.1 142.60,57.9 142.65,57.6 142.70,58.1 142.75,57.8 142.80,58.2 142.85,59.0 142.90,58.6 142.95,59.9 143.00,59.2 143.05,59.9 143.10,60.9 143.15,62.4 143.20,65.5 143.25,69.4 143.30,52.2 143.35,77.1 143.40,78.9 143.45,85.3 143.50,104.1 143.55,100.1 143.60,93.3 143.65,89.7 143.70,90.0 143.75,92.6 143.80,90.0 143.85,81.2 143.90,73.7 143.95,67.2 144.00,64.1 144.05,62.6 144.10,62.3 144.15,62.6 144.20,63.6 144.25,68.6 144.30,77.8 144.35,82.8 144.40,77.8 144.45,69.7 144.50,63.5 144.55,61.3 144.60,61.4 144.65,61.2 144.70,63.6 144.75,67.1 144.80,67.5 144.85,62.1 144.90,58.8 144.95,56.8 145.00,56.8 145.05,59.9 145.10,57.0 145.15,57.4 145.20,61.4 145.25,68.0 145.30,72.4 145.35,69.5 145.40,64.3 145.45,60.2 145.50,57.9 145.55,57.3 145.60,57.5 145.65,59.2 145.70,60.9 145.75,65.5 145.80,73.5 145.85,82.8 145.90,88.8 145.95,99.9 146.00,100.0 146.05,83.2 146.10,70.6 146.15,64.3 146.20,63.7 146.25,64.9 146.30,67.7 146.35,63.0 146.40,58.0 146.45,56.0 146.50,54.4 146.55,55.0 146.60,54.7 146.65,54.8 146.70,54.7 146.75,55.3 146.80,56.5 146.85,58.5 146.90,61.8 146.95,65.7 147.00,74.0 147.05,90.2 147.10,115.8 147.15,125.0 147.20,107.0 147.25,88.1 147.30,74.3 147.35,66.8 147.40,62.2 147.45,60.3 147.50,58.6 147.55,57.0 147.60,56.7 147.65,56.4 147.70,55.5 147.75,53.9 147.80,53.8 147.85,53.3 147.90,53.2 147.95,53.0 148.00,53.0 148.05,53.0 148.10,53.4 148.15,52.2 148.20,52.7 148.25,52.6 148.30,52.7 148.35,53.0 148.40,53.2 148.45,53.2 148.50,54.0 148.55,54.1 148.60,53.7 148.65,54.0 148.70,54.8 148.75,53.6 148.80,53.1 148.85,52.6 148.90,52.3 148.95,51.8 149.00,51.3 149.05,51.9 149.10,51.0 149.15,49.5 149.20,50.8 149.25,50.9 149.30,51.2 149.35,51.5 149.40,53.8 149.45,54.9 149.50,57.6 149.55,61.1 149.60,68.7 149.65,83.9 149.70,95.5 149.75,87.0 149.80,84.1 149.85,95.3 149.90,111.7 149.95,50.8 150.00,83.5 150.05,72.0 150.10,66.0 150.15,60.4 150.20,58.0 150.25,56.2 150.30,54.6 150.35,54.2 150.40,54.0 150.45,53.4 150.50,53.3 150.55,55.3 150.60,58.4 150.65,63.6 150.70,72.2 150.75,84.6 150.80,88.4 150.85,79.4 150.90,70.8 150.95,63.3 151.00,60.5 151.05,59.0 151.10,58.5 151.15,57.9 151.20,57.7 151.25,57.0 151.30,57.3 151.35,58.3 151.40,57.5 151.45,57.6 151.50,57.6 151.55,58.2 151.60,52.1 151.65,59.8 151.70,61.5 151.75,64.7 151.80,70.7 151.85,72.2 151.90,69.9 151.95,67.6 152.00,66.1 152.05,65.4 152.10,68.6 152.15,73.2 152.20,79.7 152.25,80.5 152.30,72.7 152.35,65.9 152.40,61.0 152.45,58.5 152.50,59.8 152.55,55.5 152.60,54.7 152.65,53.9 152.70,53.3 152.75,52.9 152.80,52.7 152.85,52.2 152.90,52.3 152.95,52.0 153.00,52.1 153.05,53.2 153.10,52.3 153.15,52.9 153.20,53.7 153.25,55.7 153.30,58.2 153.35,62.7 153.40,73.6 153.45,72.5 153.50,69.6 153.55,72.8 153.60,81.4 153.65,93.5 153.70,100.5 153.75,93.9 153.80,82.5 153.85,74.7 153.90,70.5 153.95,69.1 154.00,69.5 154.05,72.5 154.10,79.4 154.15,88.6 154.20,98.5 154.25,101.2 154.30,50.2 154.35,101.3 154.40,88.3 154.45,75.6 154.50,67.7 154.55,61.9 154.60,61.3 154.65,56.0 154.70,54.9 154.75,54.5 154.80,54.7 154.85,54.5 154.90,56.1 154.95,56.1 155.00,57.0 155.05,58.5 155.10,62.1 155.15,67.6 155.20,74.3 155.25,85.9 155.30,96.9 155.35,102.0 155.40,93.3 155.45,74.2 155.50,64.9 155.55,60.4 155.60,58.1 155.65,55.5 155.70,54.8 155.75,52.9 155.80,53.0 155.85,51.7 155.90,51.1 155.95,50.8 156.00,50.5 156.05,50.4 156.10,50.6 156.15,50.4 156.20,49.8 156.25,49.3 156.30,49.1 156.35,49.2 156.40,50.2 156.45,49.2 156.50,49.2 156.55,50.4 156.60,51.1 156.65,52.9 156.70,55.0 156.75,58.0 156.80,58.0 156.85,54.6 156.90,53.3 156.95,52.5 157.00,53.3 157.05,52.5 157.10,52.9 157.15,52.7 157.20,52.6 157.25,52.7 157.30,53.8 157.35,54.5 157.40,57.6 157.45,63.8 157.50,62.5 157.55,58.7 157.60,59.0 157.65,65.1 157.70,68.8 157.75,76.7 157.80,78.9 157.85,74.0 157.90,66.3 157.95,60.4 158.00,56.3 158.05,55.0 158.10,52.7 158.15,52.8 158.20,51.2 158.25,50.5 158.30,50.6 158.35,50.0 158.40,49.6 158.45,50.5 158.50,50.2 158.55,49.7 158.60,49.5 158.65,49.5 158.70,49.0 158.75,48.9 158.80,49.1 158.85,49.8 158.90,51.5 158.95,54.7 159.00,57.7 159.05,56.3 159.10,54.4 159.15,51.5 159.20,50.8 159.25,50.1 159.30,50.0 159.35,51.3 159.40,51.6 159.45,49.9 159.50,50.1 159.55,50.5 159.60,50.5 159.65,50.6 159.70,50.7 159.75,51.2 159.80,51.8 159.85,52.8 159.90,54.0 159.95,55.7 160.00,60.5 160.05,66.3 160.10,78.5 160.15,73.5 160.20,69.9 160.25,70.0 160.30,80.4 160.35,90.3 160.40,80.7 160.45,76.4 160.50,78.8 160.55,85.8 160.60,83.9 160.65,79.0 160.70,77.6 160.75,82.8 160.80,92.0 160.85,93.4 160.90,84.1 160.95,75.3 161.00,71.2 161.05,67.7 161.10,65.2 161.15,60.3 161.20,58.3 161.25,58.0 161.30,60.4 161.35,62.4 161.40,68.5 161.45,78.2 161.50,79.2 161.55,78.0 161.60,86.1 161.65,88.8 161.70,71.5 161.75,61.3 161.80,57.0 161.85,55.0 161.90,54.0 161.95,54.3 162.00,52.4 162.05,51.6 162.10,51.5 162.15,50.2 162.20,50.0 162.25,50.2 162.30,50.1 162.35,50.0 162.40,52.0 162.45,49.3 162.50,49.5 162.55,50.5 162.60,47.4 162.65,53.9 162.70,56.1 162.75,62.1 162.80,76.3 162.85,49.1 162.90,74.7 162.95,64.6 163.00,50.4 163.05,57.1 163.10,56.3 163.15,55.8 163.20,54.6 163.25,54.3 163.30,54.0 163.35,53.7 163.40,54.7 163.45,54.4 163.50,55.1 163.55,56.3 163.60,58.4 163.65,63.2 163.70,65.9 163.75,65.4 163.80,61.1 163.85,59.5 163.90,61.6 163.95,60.2 164.00,58.3 164.05,62.0 164.10,46.2 164.15,68.4 164.20,72.4 164.25,83.7 164.30,87.1 164.35,76.8 164.40,67.5 164.45,61.0 164.50,56.9 164.55,55.1 164.60,53.2 164.65,53.0 164.70,52.0 164.75,49.3 164.80,51.3 164.85,51.7 164.90,52.5 164.95,54.0 165.00,57.8 165.05,65.5 165.10,65.2 165.15,58.1 165.20,53.5 165.25,51.4 165.30,50.3 165.35,49.6 165.40,49.3 165.45,48.7 165.50,48.6 165.55,48.3 165.60,49.7 165.65,48.1 165.70,47.6 165.75,48.1 165.80,47.3 165.85,48.0 165.90,47.3 165.95,47.1 166.00,47.1 166.05,47.2 166.10,47.2 166.15,47.0 166.20,47.1 166.25,48.7 166.30,50.3 166.35,48.5 166.40,49.4 166.45,51.2 166.50,51.8 166.55,54.0 166.60,58.0 166.65,64.2 166.70,70.8 166.75,81.3 166.80,90.2 166.85,76.4 166.90,64.8 166.95,60.1 167.00,61.1 167.05,60.2 167.10,57.5 167.15,56.4 167.20,56.7 167.25,56.3 167.30,56.8 167.35,55.7 167.40,54.6 167.45,54.1 167.50,54.1 167.55,53.5 167.60,53.7 167.65,56.0 167.70,59.6 167.75,72.4 167.80,81.3 167.85,63.5 167.90,54.9 167.95,53.0 168.00,53.0 168.05,55.1 168.10,58.6 168.15,67.0 168.20,76.9 168.25,46.3 168.30,63.4 168.35,62.5 168.40,65.8 168.45,66.2 168.50,61.7 168.55,57.2 168.60,55.3 168.65,53.2 168.70,53.2 168.75,51.8 168.80,51.3 168.85,50.7 168.90,50.4 168.95,50.1 169.00,50.3 169.05,49.4 169.10,49.4 169.15,49.3 169.20,49.8 169.25,51.4 169.30,50.6 169.35,52.1 169.40,53.4 169.45,52.3 169.50,52.2 169.55,53.3 169.60,53.5 169.65,54.5 169.70,56.1 169.75,57.4 169.80,60.9 169.85,67.3 169.90,80.2 169.95,91.6 170.00,80.0 170.05,68.1 170.10,62.3 170.15,61.7 170.20,60.7 170.25,63.5 170.30,61.8 170.35,58.0 170.40,55.8 170.45,54.4 170.50,53.5 170.55,52.6 170.60,51.7 170.65,52.0 170.70,52.3 170.75,51.6 170.80,52.1 170.85,52.6 170.90,54.0 170.95,57.3 171.00,69.5 171.05,83.7 171.10,64.2 171.15,56.5 171.20,52.7 171.25,52.4 171.30,51.1 171.35,51.2 171.40,51.0 171.45,50.5 171.50,50.9 171.55,54.6 171.60,52.9 171.65,53.5 171.70,55.5 171.75,58.1 171.80,61.6 171.85,63.7 171.90,65.8 171.95,71.5 172.00,75.7 172.05,67.7 172.10,61.4 172.15,57.6 172.20,56.6 172.25,53.8 172.30,52.3 172.35,52.8 172.40,51.0 172.45,50.6 172.50,49.1 172.55,48.6 172.60,48.7 172.65,47.8 172.70,46.6 172.75,47.2 172.80,47.2 172.85,48.3 172.90,48.4 172.95,48.7 173.00,50.5 173.05,52.1 173.10,55.4 173.15,53.4 173.20,51.6 173.25,51.5 173.30,50.9 173.35,48.1 173.40,50.5 173.45,51.4 173.50,50.5 173.55,50.4 173.60,49.4 173.65,49.8 173.70,49.4 173.75,48.6 173.80,48.5 173.85,49.0 173.90,50.5 173.95,55.1 174.00,52.6 174.05,50.9 174.10,50.6 174.15,50.6 174.20,52.4 174.25,52.8 174.30,52.2 174.35,53.0 174.40,55.0 174.45,54.2 174.50,55.2 174.55,54.6 174.60,54.6 174.65,54.7 174.70,56.2 174.75,57.3 174.80,60.2 174.85,47.7 174.90,72.6 174.95,69.6 175.00,62.4 175.05,57.3 175.10,53.5 175.15,52.0 175.20,52.2 175.25,54.7 175.30,54.6 175.35,59.0 175.40,64.9 175.45,67.7 175.50,63.7 175.55,58.8 175.60,55.2 175.65,52.8 175.70,52.9 175.75,52.8 175.80,52.3 175.85,51.0 175.90,46.4 175.95,50.0 176.00,49.0 176.05,48.6 176.10,48.4 176.15,48.5 176.20,48.2 176.25,48.5 176.30,48.1 176.35,48.2 176.40,48.4 176.45,48.3 176.50,48.8 176.55,48.6 176.60,48.3 176.65,48.4 176.70,48.7 176.75,49.1 176.80,50.1 176.85,52.0 176.90,54.7 176.95,57.7 177.00,55.8 177.05,53.6 177.10,51.1 177.15,50.7 177.20,50.1 177.25,49.6 177.30,49.7 177.35,50.4 177.40,49.4 177.45,49.2 177.50,50.6 177.55,49.3 177.60,49.8 177.65,50.8 177.70,47.3 177.75,51.3 177.80,53.7 177.85,55.6 177.90,57.6 177.95,56.9 178.00,56.0 178.05,54.9 178.10,54.0 178.15,53.9 178.20,56.0 178.25,62.2 178.30,60.8 178.35,58.8 178.40,62.0 178.45,65.0 178.50,63.8 178.55,61.9 178.60,57.7 178.65,56.7 178.70,55.7 178.75,55.2 178.80,54.7 178.85,54.7 178.90,56.6 178.95,56.7 179.00,59.2 179.05,63.5 179.10,66.4 179.15,62.6 179.20,57.2 179.25,55.1 179.30,52.0 179.35,50.8 179.40,50.2 179.45,51.6 179.50,52.4 179.55,53.3 179.60,52.2 179.65,50.9 179.70,50.9 179.75,52.8 179.80,54.4 179.85,58.3 179.90,61.8 179.95,61.1 180.00,60.8 180.05,57.4 180.10,55.3 180.15,58.3 180.20,57.3 180.25,59.9 180.30,59.0 180.35,55.0 180.40,54.1 180.45,55.1 180.50,55.2 180.55,54.1 180.60,53.4 180.65,54.8 180.70,59.9 180.75,56.9 180.80,53.0 180.85,51.6 180.90,51.5 180.95,51.0 181.00,50.3 181.05,51.3 181.10,50.6 181.15,50.7 181.20,51.2 181.25,51.6 181.30,52.1 181.35,47.2 181.40,55.8 181.45,56.6 181.50,55.7 181.55,56.1 181.60,55.3 181.65,55.5 181.70,54.5 181.75,53.5 181.80,52.8 181.85,53.2 181.90,51.7 181.95,51.6 182.00,51.4 182.05,51.0 182.10,51.1 182.15,51.9 182.20,52.5 182.25,50.3 182.30,49.1 182.35,49.1 182.40,48.5 182.45,49.1 182.50,48.3 182.55,48.7 182.60,48.6 182.65,49.1 182.70,50.1 182.75,49.9 182.80,49.7 182.85,50.5 182.90,51.1 182.95,51.4 183.00,51.8 183.05,50.8 183.10,51.3 183.15,50.3 183.20,50.3 183.25,49.8 183.30,49.7 183.35,49.7 183.40,49.9 183.45,49.9 183.50,50.1 183.55,49.9 183.60,49.9 183.65,49.8 183.70,50.1 183.75,49.8 183.80,49.8 183.85,49.6 183.90,49.8 183.95,49.8 184.00,49.0 184.05,49.7 184.10,50.0 184.15,49.1 184.20,49.3 184.25,49.4 184.30,46.2 184.35,49.6 184.40,50.3 184.45,49.9 184.50,50.3 184.55,50.3 184.60,50.6 184.65,50.2 184.70,52.7 184.75,51.8 184.80,50.5 184.85,50.0 184.90,49.7 184.95,49.5 185.00,49.3 185.05,49.4 185.10,49.3 185.15,49.8 185.20,49.0 185.25,49.9 185.30,50.1 185.35,51.5 185.40,53.4 185.45,56.1 185.50,55.6 185.55,53.8 185.60,52.8 185.65,47.9 185.70,53.6 185.75,55.5 185.80,54.1 185.85,52.7 185.90,51.9 185.95,54.1 186.00,53.5 186.05,54.6 186.10,56.4 186.15,60.2 186.20,63.3 186.25,66.3 186.30,64.5 186.35,61.2 186.40,58.9 186.45,58.2 186.50,57.7 186.55,56.0 186.60,55.6 186.65,54.6 186.70,55.3 186.75,54.8 186.80,56.5 186.85,57.7 186.90,58.4 186.95,54.9 187.00,52.4 187.05,51.1 187.10,50.5 187.15,50.3 187.20,49.9 187.25,49.6 187.30,50.5 187.35,50.1 187.40,50.8 187.45,49.4 187.50,49.0 187.55,48.8 187.60,49.3 187.65,48.8 187.70,49.2 187.75,49.1 187.80,48.8 187.85,49.1 187.90,49.1 187.95,49.1 188.00,49.6 188.05,50.1 188.10,52.1 188.15,52.1 188.20,50.0 188.25,52.1 188.30,52.2 188.35,51.4 188.40,50.6 188.45,50.3 188.50,50.5 188.55,50.4 188.60,50.1 188.65,50.2 188.70,50.8 188.75,52.0 188.80,51.5 188.85,52.3 188.90,52.7 188.95,51.3 189.00,51.2 189.05,46.7 189.10,50.9 189.15,51.6 189.20,51.1 189.25,52.0 189.30,53.5 189.35,56.1 189.40,55.9 189.45,52.8 189.50,51.9 189.55,52.8 189.60,52.8 189.65,51.5 189.70,50.4 189.75,50.0 189.80,51.0 189.85,50.6 189.90,52.5 189.95,51.9 190.00,54.3 190.05,55.7 190.10,61.9 190.15,64.8 190.20,64.9 190.25,60.5 190.30,58.3 190.35,57.5 190.40,57.6 190.45,59.0 190.50,63.1 190.55,46.9 190.60,76.7 190.65,83.1 190.70,79.2 190.75,70.3 190.80,63.9 190.85,60.2 190.90,58.2 190.95,55.9 191.00,54.9 191.05,54.6 191.10,54.2 191.15,53.9 191.20,53.0 191.25,52.3 191.30,52.1 191.35,51.7 191.40,51.8 191.45,51.0 191.50,50.6 191.55,50.2 191.60,50.3 191.65,49.3 191.70,49.5 191.75,49.1 191.80,50.0 191.85,48.3 191.90,48.2 191.95,47.9 192.00,49.3 192.05,47.6 192.10,47.7 192.15,47.6 192.20,47.8 192.25,47.4 192.30,47.3 192.35,46.6 192.40,46.6 192.45,46.7 192.50,46.3 192.55,46.6 192.60,47.6 192.65,48.3 192.70,47.9 192.75,48.1 192.80,48.6 192.85,49.1 192.90,49.6 192.95,49.7 193.00,51.0 193.05,50.7 193.10,51.0 193.15,50.9 193.20,51.2 193.25,51.2 193.30,51.7 193.35,50.9 193.40,50.4 193.45,51.8 193.50,51.8 193.55,51.9 193.60,52.1 193.65,52.5 193.70,53.2 193.75,52.9 193.80,53.5 193.85,53.9 193.90,55.0 193.95,56.7 194.00,60.7 194.05,66.8 194.10,77.3 194.15,87.1 194.20,50.2 194.25,71.8 194.30,65.8 194.35,64.1 194.40,64.7 194.45,63.6 194.50,62.5 194.55,60.3 194.60,60.8 194.65,64.2 194.70,72.0 194.75,85.4 194.80,88.7 194.85,79.5 194.90,73.2 194.95,71.0 195.00,70.8 195.05,67.4 195.10,62.2 195.15,60.8 195.20,55.7 195.25,53.9 195.30,52.8 195.35,53.2 195.40,51.8 195.45,52.6 195.50,51.1 195.55,51.4 195.60,52.3 195.65,52.8 195.70,55.0 195.75,61.5 195.80,64.7 195.85,62.9 195.90,61.0 195.95,63.7 196.00,70.1 196.05,71.5 196.10,79.9 196.15,91.2 196.20,80.4 196.25,68.2 196.30,61.8 196.35,58.5 196.40,57.1 196.45,57.3 196.50,57.1 196.55,60.1 196.60,65.1 196.65,72.4 196.70,68.3 196.75,61.3 196.80,59.0 196.85,56.4 196.90,56.8 196.95,54.1 197.00,47.0 197.05,53.5 197.10,53.5 197.15,54.9 197.20,55.0 197.25,58.2 197.30,62.4 197.35,48.9 197.40,70.4 197.45,73.5 197.50,73.9 197.55,67.3 197.60,61.0 197.65,57.1 197.70,56.5 197.75,57.5 197.80,58.6 197.85,58.0 197.90,54.4 197.95,51.3 198.00,50.1 198.05,49.5 198.10,49.2 198.15,49.3 198.20,48.8 198.25,49.0 198.30,48.8 198.35,49.0 198.40,48.7 198.45,48.7 198.50,49.3 198.55,48.4 198.60,48.2 198.65,48.4 198.70,51.2 198.75,48.2 198.80,47.7 198.85,49.1 198.90,47.8 198.95,47.5 199.00,47.5 199.05,48.8 199.10,47.0 199.15,46.9 199.20,46.9 199.25,47.0 199.30,47.0 199.35,48.4 199.40,47.2 199.45,47.5 199.50,47.9 199.55,48.5 199.60,48.9 199.65,50.5 199.70,51.0 199.75,53.6 199.80,58.6 199.85,61.7 199.90,58.8 199.95,56.8 200.00,57.4 200.05,59.5 200.10,60.9 200.15,67.3 200.20,79.0 200.25,88.3 200.30,81.8 200.35,73.1 200.40,68.9 200.45,70.0 200.50,77.9 200.55,96.1 200.60,113.0 200.65,107.4 200.70,48.2 200.75,87.6 200.80,73.2 200.85,64.7 200.90,58.1 200.95,55.3 201.00,53.0 201.05,52.6 201.10,52.4 201.15,50.3 201.20,50.4 201.25,51.6 201.30,50.6 201.35,50.8 201.40,51.4 201.45,51.7 201.50,51.7 201.55,52.7 201.60,50.0 201.65,49.9 201.70,49.5 201.75,49.9 201.80,49.5 201.85,50.5 201.90,49.1 201.95,51.1 202.00,55.8 202.05,52.1 202.10,48.5 202.15,48.0 202.20,48.1 202.25,47.5 202.30,47.5 202.35,47.3 202.40,47.0 202.45,47.3 202.50,47.1 202.55,47.2 202.60,47.3 202.65,47.4 202.70,47.4 202.75,48.2 202.80,47.4 202.85,47.5 202.90,48.1 202.95,47.8 203.00,47.8 203.05,48.1 203.10,48.4 203.15,48.0 203.20,48.6 203.25,48.4 203.30,49.0 203.35,48.4 203.40,48.8 203.45,49.0 203.50,49.2 203.55,49.3 203.60,49.3 203.65,49.4 203.70,49.7 203.75,49.7 203.80,50.7 203.85,50.4 203.90,51.4 203.95,50.7 204.00,50.5 204.05,50.9 204.10,50.8 204.15,52.2 204.20,53.0 204.25,55.9 204.30,60.5 204.35,63.3 204.40,57.3 204.45,54.9 204.50,55.5 204.55,57.1 204.60,62.3 204.65,75.0 204.70,84.0 204.75,72.2 204.80,61.7 204.85,56.7 204.90,55.1 204.95,53.8 205.00,54.1 205.05,53.4 205.10,54.0 205.15,53.0 205.20,53.1 205.25,52.6 205.30,52.6 205.35,51.6 205.40,52.7 205.45,52.3 205.50,53.2 205.55,54.7 205.60,57.4 205.65,60.6 205.70,56.8 205.75,56.3 205.80,56.6 205.85,62.3 205.90,73.9 205.95,76.7 206.00,67.8 206.05,65.5 206.10,62.0 206.15,58.0 206.20,54.3 206.25,52.9 206.30,51.9 206.35,46.5 206.40,51.3 206.45,51.9 206.50,52.8 206.55,55.9 206.60,65.2 206.65,87.0 206.70,90.7 206.75,73.7 206.80,69.6 206.85,63.2 206.90,60.8 206.95,62.9 207.00,56.8 207.05,55.1 207.10,55.4 207.15,56.8 207.20,60.5 207.25,67.5 207.30,79.6 207.35,92.4 207.40,91.1 207.45,92.9 207.50,95.9 207.55,94.8 207.60,82.8 207.65,68.8 207.70,62.2 207.75,57.0 207.80,54.4 207.85,53.1 207.90,52.1 207.95,50.3 208.00,49.8 208.05,49.2 208.10,48.4 208.15,48.3 208.20,48.8 208.25,48.4 208.30,49.1 208.35,49.7 208.40,48.6 208.45,49.4 208.50,49.4 208.55,48.8 208.60,49.5 208.65,48.7 208.70,49.5 208.75,47.7 208.80,48.5 208.85,48.7 208.90,48.2 208.95,48.3 209.00,48.1 209.05,48.0 209.10,48.6 209.15,48.7 209.20,48.5 209.25,48.5 209.30,47.9 209.35,48.7 209.40,49.6 209.45,50.2 209.50,51.4 209.55,53.3 209.60,58.2 209.65,63.7 209.70,67.1 209.75,62.6 209.80,61.9 209.85,64.4 209.90,71.3 209.95,88.3 210.00,109.4 210.05,78.9 210.10,65.2 210.15,61.7 210.20,57.9 210.25,56.6 210.30,56.0 210.35,55.3 210.40,56.1 210.45,56.9 210.50,58.6 210.55,60.7 210.60,65.0 210.65,73.3 210.70,80.9 210.75,80.0 210.80,72.4 210.85,64.8 210.90,63.8 210.95,63.1 211.00,63.3 211.05,67.9 211.10,66.8 211.15,61.8 211.20,57.7 211.25,55.7 211.30,55.4 211.35,55.3 211.40,58.2 211.45,58.8 211.50,64.2 211.55,67.6 211.60,62.9 211.65,59.8 211.70,60.3 211.75,61.2 211.80,61.2 211.85,58.9 211.90,56.4 211.95,54.4 212.00,55.2 212.05,52.9 212.10,52.5 212.15,47.2 212.20,51.3 212.25,52.6 212.30,52.6 212.35,53.4 212.40,56.6 212.45,57.4 212.50,62.4 212.55,66.3 212.60,76.8 212.65,90.1 212.70,110.8 212.75,131.5 212.80,126.4 212.85,112.0 212.90,103.3 212.95,92.0 213.00,80.6 213.05,71.6 213.10,68.3 213.15,73.0 213.20,86.6 213.25,65.2 213.30,56.0 213.35,53.3 213.40,53.0 213.45,50.7 213.50,49.6 213.55,49.3 213.60,49.1 213.65,50.4 213.70,49.1 213.75,50.2 213.80,49.7 213.85,50.0 213.90,51.2 213.95,51.0 214.00,51.7 214.05,52.8 214.10,54.6 214.15,59.1 214.20,68.9 214.25,74.0 214.30,61.1 214.35,54.8 214.40,53.9 214.45,50.8 214.50,49.8 214.55,49.5 214.60,48.8 214.65,50.1 214.70,47.8 214.75,49.0 214.80,50.2 214.85,50.9 214.90,52.2 214.95,54.1 215.00,54.6 215.05,55.9 215.10,56.6 215.15,58.7 215.20,59.2 215.25,49.4 215.30,62.1 215.35,60.6 215.40,60.9 215.45,59.7 215.50,58.9 215.55,58.5 215.60,59.1 215.65,59.6 215.70,60.3 215.75,63.5 215.80,70.8 215.85,77.8 215.90,75.3 215.95,70.6 216.00,60.5 216.05,55.8 216.10,53.5 216.15,54.9 216.20,51.5 216.25,50.6 216.30,50.2 216.35,49.7 216.40,49.2 216.45,49.4 216.50,49.2 216.55,47.9 216.60,48.3 216.65,48.0 216.70,48.1 216.75,47.9 216.80,49.2 216.85,48.6 216.90,49.0 216.95,47.9 217.00,48.3 217.05,48.5 217.10,48.1 217.15,48.0 217.20,48.0 217.25,50.8 217.30,47.9 217.35,48.4 217.40,48.7 217.45,47.7 217.50,48.1 217.55,49.3 217.60,48.9 217.65,48.5 217.70,47.9 217.75,48.3 217.80,48.9 217.85,49.9 217.90,50.1 217.95,53.5 218.00,51.0 218.05,51.5 218.10,52.1 218.15,53.7 218.20,53.6 218.25,54.2 218.30,55.3 218.35,54.7 218.40,54.3 218.45,53.9 218.50,55.2 218.55,53.8 218.60,54.3 218.65,54.6 218.70,56.7 218.75,59.1 218.80,58.3 218.85,55.1 218.90,53.3 218.95,53.9 219.00,52.0 219.05,51.8 219.10,51.2 219.15,52.7 219.20,50.7 219.25,50.4 219.30,50.8 219.35,50.5 219.40,49.8 219.45,49.9 219.50,49.6 219.55,49.1 219.60,48.9 219.65,49.0 219.70,51.3 219.75,48.9 219.80,48.8 219.85,48.3 219.90,48.6 219.95,48.2 220.00,50.2 220.05,47.8 220.10,47.8 220.15,48.5 220.20,49.0 220.25,49.7 220.30,50.5 220.35,51.7 220.40,52.4 220.45,53.9 220.50,55.1 220.55,58.1 220.60,62.9 220.65,64.7 220.70,61.3 220.75,62.3 220.80,64.5 220.85,62.2 220.90,62.9 220.95,67.0 221.00,62.9 221.05,52.6 221.10,54.8 221.15,53.7 221.20,52.4 221.25,52.9 221.30,52.8 221.35,51.6 221.40,51.2 221.45,51.1 221.50,51.4 221.55,51.5 221.60,51.4 221.65,51.3 221.70,51.8 221.75,51.6 221.80,52.7 221.85,52.7 221.90,53.4 221.95,56.3 222.00,59.1 222.05,63.8 222.10,69.2 222.15,79.1 222.20,91.8 222.25,98.4 222.30,95.1 222.35,94.0 222.40,89.7 222.45,83.0 222.50,76.4 222.55,71.3 222.60,67.4 222.65,63.8 222.70,62.2 222.75,61.4 222.80,58.7 222.85,57.5 222.90,57.3 222.95,55.4 223.00,54.5 223.05,53.9 223.10,53.4 223.15,53.2 223.20,53.6 223.25,52.6 223.30,52.5 223.35,52.9 223.40,53.4 223.45,53.2 223.50,53.3 223.55,54.0 223.60,53.7 223.65,54.2 223.70,54.8 223.75,55.8 223.80,56.4 223.85,58.3 223.90,60.2 223.95,63.8 224.00,68.0 224.05,68.6 224.10,65.4 224.15,60.0 224.20,58.6 224.25,52.4 224.30,55.7 224.35,56.9 224.40,59.6 224.45,64.1 224.50,65.7 224.55,62.9 224.60,59.0 224.65,55.7 224.70,53.6 224.75,52.8 224.80,52.9 224.85,51.2 224.90,51.9 224.95,51.9 225.00,51.6 225.05,52.2 225.10,53.2 225.15,54.4 225.20,57.0 225.25,65.8 225.30,84.5 225.35,72.6 225.40,60.1 225.45,56.4 225.50,55.3 225.55,54.3 225.60,55.3 225.65,52.9 225.70,52.3 225.75,52.0 225.80,51.9 225.85,51.7 225.90,51.2 225.95,51.7 226.00,51.3 226.05,51.2 226.10,52.9 226.15,51.8 226.20,51.8 226.25,52.3 226.30,55.2 226.35,54.3 226.40,55.7 226.45,58.2 226.50,60.3 226.55,64.7 226.60,76.1 226.65,103.5 226.70,110.9 226.75,92.6 226.80,83.9 226.85,73.9 226.90,65.3 226.95,60.2 227.00,58.4 227.05,55.9 227.10,55.4 227.15,55.5 227.20,54.7 227.25,54.3 227.30,53.3 227.35,54.8 227.40,56.4 227.45,56.9 227.50,57.7 227.55,59.2 227.60,62.4 227.65,63.6 227.70,66.8 227.75,73.4 227.80,81.0 227.85,92.0 227.90,98.7 227.95,95.5 228.00,89.9 228.05,82.4 228.10,78.9 228.15,76.4 228.20,71.4 228.25,66.8 228.30,64.3 228.35,61.7 228.40,60.1 228.45,60.9 228.50,58.0 228.55,60.1 228.60,58.7 228.65,59.6 228.70,59.3 228.75,60.4 228.80,60.6 228.85,60.9 228.90,61.4 228.95,62.2 229.00,63.8 229.05,64.9 229.10,67.0 229.15,69.4 229.20,75.7 229.25,78.3 229.30,70.1 229.35,64.8 229.40,64.1 229.45,65.4 229.50,62.3 229.55,58.6 229.60,55.8 229.65,54.5 229.70,53.1 229.75,53.0 229.80,52.8 229.85,54.4 229.90,55.0 229.95,53.6 230.00,54.3 230.05,53.8 230.10,55.4 230.15,54.4 230.20,54.6 230.25,55.5 230.30,55.3 230.35,55.3 230.40,55.1 230.45,55.6 230.50,55.1 230.55,54.8 230.60,55.3 230.65,56.3 230.70,55.2 230.75,55.3 230.80,56.3 230.85,55.3 230.90,55.6 230.95,55.4 231.00,55.3 231.05,55.7 231.10,55.7 231.15,55.7 231.20,57.0 231.25,57.0 231.30,57.4 231.35,58.6 231.40,60.5 231.45,64.9 231.50,69.6 231.55,79.3 231.60,86.6 231.65,86.8 231.70,79.7 231.75,72.6 231.80,69.5 231.85,66.8 231.90,65.9 231.95,66.9 232.00,67.2 232.05,68.9 232.10,70.9 232.15,74.0 232.20,78.4 232.25,87.1 232.30,98.0 232.35,107.1 232.40,103.9 232.45,106.5 232.50,117.5 232.55,122.6 232.60,117.2 232.65,104.8 232.70,89.9 232.75,79.7 232.80,75.4 232.85,76.1 232.90,77.2 232.95,82.8 233.00,89.3 233.05,89.9 233.10,81.7 233.15,74.1 233.20,69.9 233.25,66.1 233.30,64.7 233.35,63.7 233.40,64.9 233.45,65.5 233.50,65.1 233.55,62.4 233.60,60.7 233.65,59.2 233.70,58.7 233.75,57.8 233.80,57.3 233.85,58.5 233.90,57.6 233.95,57.7 234.00,58.6 234.05,60.5 234.10,61.9 234.15,65.9 234.20,67.5 234.25,67.3 234.30,64.9 234.35,64.2 234.40,65.5 234.45,69.2 234.50,74.6 234.55,75.5 234.60,70.6 234.65,67.2 234.70,62.2 234.75,59.8 234.80,58.8 234.85,58.0 234.90,57.2 234.95,57.4 235.00,57.9 235.05,57.8 235.10,58.3 235.15,59.5 235.20,62.3 235.25,65.6 235.30,70.5 235.35,72.4 235.40,76.7 235.45,70.3 235.50,65.3 235.55,63.4 235.60,63.6 235.65,64.8 235.70,66.8 235.75,70.0 235.80,78.1 235.85,96.6 235.90,97.5 235.95,86.5 236.00,75.9 236.05,67.8 236.10,64.1 236.15,61.6 236.20,61.0 236.25,59.5 236.30,59.2 236.35,58.1 236.40,58.7 236.45,58.8 236.50,58.6 236.55,58.8 236.60,58.8 236.65,59.3 236.70,61.2 236.75,63.9 236.80,67.2 236.85,68.9 236.90,66.4 236.95,63.5 237.00,61.2 237.05,60.0 237.10,60.8 237.15,61.4 237.20,60.0 237.25,61.1 237.30,61.8 237.35,63.7 237.40,69.4 237.45,79.1 237.50,70.8 237.55,66.7 237.60,67.0 237.65,71.2 237.70,81.5 237.75,85.3 237.80,74.3 237.85,67.1 237.90,63.7 237.95,60.9 238.00,59.6 238.05,59.0 238.10,58.6 238.15,59.1 238.20,59.2 238.25,62.5 238.30,61.6 238.35,63.3 238.40,64.1 238.45,62.3 238.50,61.2 238.55,61.0 238.60,59.5 238.65,59.3 238.70,59.8 238.75,61.6 238.80,64.5 238.85,67.9 238.90,74.2 238.95,83.7 239.00,90.6 239.05,85.5 239.10,78.2 239.15,75.3 239.20,77.3 239.25,86.8 239.30,99.2 239.35,92.5 239.40,81.8 239.45,74.5 239.50,69.8 239.55,67.7 239.60,68.1 239.65,68.6 239.70,72.7 239.75,79.6 239.80,88.6 239.85,87.2 239.90,77.7 239.95,71.0 240.00,69.2 240.05,72.6 240.10,78.5 240.15,69.7 240.20,64.5 240.25,62.5 240.30,62.2 240.35,61.7 240.40,62.3 240.45,64.3 240.50,71.9 240.55,80.7 240.60,68.6 240.65,64.6 240.70,63.8 240.75,63.3 240.80,64.0 240.85,66.1 240.90,65.1 240.95,65.9 241.00,67.3 241.05,69.2 241.10,68.1 241.15,67.7 241.20,68.0 241.25,66.7 241.30,66.6 241.35,66.0 241.40,65.2 241.45,66.2 241.50,64.6 241.55,64.7 241.60,64.7 241.65,66.5 241.70,66.2 241.75,67.4 241.80,69.8 241.85,74.6 241.90,81.5 241.95,87.4 242.00,85.8 242.05,78.4 242.10,71.8 242.15,67.4 242.20,64.9 242.25,63.8 242.30,63.1 242.35,61.9 242.40,61.7 242.45,61.7 242.50,61.7 242.55,66.6 242.60,68.2 242.65,63.7 242.70,62.8 242.75,60.7 242.80,61.7 242.85,62.0 242.90,64.3 242.95,73.1 243.00,80.7 243.05,69.6 243.10,65.0 243.15,64.0 243.20,65.2 243.25,69.6 243.30,70.5 243.35,66.9 243.40,66.1 243.45,67.2 243.50,71.5 243.55,74.9 243.60,69.8 243.65,65.9 243.70,65.8 243.75,65.2 243.80,67.9 243.85,77.6 243.90,88.8 243.95,77.3 244.00,68.8 244.05,65.6 244.10,64.4 244.15,65.2 244.20,65.6 244.25,68.0 244.30,76.0 244.35,93.3 244.40,93.9 244.45,79.3 244.50,76.3 244.55,78.3 244.60,79.3 244.65,82.2 244.70,89.3 244.75,88.4 244.80,82.1 244.85,75.5 244.90,73.5 244.95,72.2 245.00,73.4 245.05,76.1 245.10,80.7 245.15,93.9 245.20,114.4 245.25,111.8 245.30,103.6 245.35,102.9 245.40,92.5 245.45,79.4 245.50,73.0 245.55,69.8 245.60,67.2 245.65,65.3 245.70,64.5 245.75,61.8 245.80,61.0 245.85,59.9 245.90,59.2 245.95,60.6 246.00,60.3 246.05,58.8 246.10,59.6 246.15,59.9 246.20,59.7 246.25,60.1 246.30,60.5 246.35,61.1 246.40,62.7 246.45,67.4 246.50,72.8 246.55,67.1 246.60,64.3 246.65,62.6 246.70,62.6 246.75,63.3 246.80,63.4 246.85,63.6 246.90,65.2 246.95,66.5 247.00,70.7 247.05,73.3 247.10,70.4 247.15,67.4 247.20,65.9 247.25,66.0 247.30,65.2 247.35,64.7 247.40,66.1 247.45,65.2 247.50,64.9 247.55,65.9 247.60,65.6 247.65,67.0 247.70,68.0 247.75,72.0 247.80,75.1 247.85,72.2 247.90,70.4 247.95,68.1 248.00,66.1 248.05,65.9 248.10,64.2 248.15,65.7 248.20,63.6 248.25,63.0 248.30,62.6 248.35,62.8 248.40,62.1 248.45,62.1 248.50,62.5 248.55,63.2 248.60,62.4 248.65,62.1 248.70,61.9 248.75,61.8 248.80,61.9 248.85,62.6 248.90,62.0 248.95,63.1 249.00,64.1 249.05,63.3 249.10,64.7 249.15,65.5 249.20,66.6 249.25,68.4 249.30,70.3 249.35,74.7 249.40,80.8 249.45,89.5 249.50,96.8 249.55,94.7 249.60,85.6 249.65,83.4 249.70,91.5 249.75,104.9 249.80,91.9 249.85,87.9 249.90,88.4 249.95,85.2 250.00,76.5 250.05,68.8 250.10,64.3 250.15,61.4 250.20,58.3 250.25,57.4 250.30,55.6 250.35,55.6 250.40,55.4 250.45,53.7 250.50,52.6 250.55,52.7 250.60,51.6 250.65,51.4 250.70,51.3 250.75,51.7 250.80,51.5 250.85,51.0 250.90,49.8 250.95,50.9 251.00,51.3 251.05,51.5 251.10,52.1 251.15,52.1 251.20,52.9 251.25,53.4 251.30,54.0 251.35,53.7 251.40,53.5 251.45,52.7 251.50,52.7 251.55,54.3 251.60,55.9 251.65,63.8 251.70,65.3 251.75,57.7 251.80,54.5 251.85,54.4 251.90,54.2 251.95,56.4 252.00,60.5 252.05,70.3 252.10,85.5 252.15,79.1 252.20,65.4 252.25,58.0 252.30,55.2 252.35,52.8 252.40,51.8 252.45,51.5 252.50,51.0 252.55,51.4 252.60,53.1 252.65,51.8 252.70,52.0 252.75,51.8 252.80,53.9 252.85,55.1 252.90,56.1 252.95,57.8 253.00,59.8 253.05,62.0 253.10,64.8 253.15,69.0 253.20,81.0 253.25,103.1 253.30,104.2 253.35,95.4 253.40,96.2 253.45,97.6 253.50,105.9 253.55,112.6 253.60,104.8 253.65,94.7 253.70,90.7 253.75,93.9 253.80,86.6 253.85,71.1 253.90,63.2 253.95,60.4 254.00,57.2 254.05,55.7 254.10,53.7 254.15,53.4 254.20,53.2 254.25,53.0 254.30,52.4 254.35,50.9 254.40,50.7 254.45,50.7 254.50,50.8 254.55,50.0 254.60,50.0 254.65,50.6 254.70,50.1 254.75,50.0 254.80,50.3 254.85,50.8 254.90,50.5 254.95,50.8 255.00,51.2 255.05,51.5 255.10,52.4 255.15,53.3 255.20,53.6 255.25,55.1 255.30,57.6 255.35,63.3 255.40,74.9 255.45,87.6 255.50,76.0 255.55,69.7 255.60,71.2 255.65,48.2 255.70,89.2 255.75,92.5 255.80,81.2 255.85,68.4 255.90,61.9 255.95,56.8 256.00,54.9 256.05,54.3 256.10,54.7 256.15,52.8 256.20,53.8 256.25,53.6 256.30,53.9 256.35,56.6 256.40,60.4 256.45,69.2 256.50,88.8 256.55,92.3 256.60,71.7 256.65,60.5 256.70,56.8 256.75,53.6 256.80,53.6 256.85,51.8 256.90,51.9 256.95,52.9 257.00,52.1 257.05,52.5 257.10,55.4 257.15,62.7 257.20,78.2 257.25,76.1 257.30,61.2 257.35,55.0 257.40,53.2 257.45,51.6 257.50,51.4 257.55,50.7 257.60,50.8 257.65,52.4 257.70,52.7 257.75,52.7 257.80,52.7 257.85,54.6 257.90,59.3 257.95,70.4 258.00,62.9 258.05,56.4 258.10,55.1 258.15,55.6 258.20,57.7 258.25,61.8 258.30,60.0 258.35,57.6 258.40,58.5 258.45,60.2 258.50,64.1 258.55,72.5 258.60,83.1 258.65,86.0 258.70,83.5 258.75,78.8 258.80,75.3 258.85,73.2 258.90,68.9 258.95,64.5 259.00,60.3 259.05,58.7 259.10,56.4 259.15,55.7 259.20,54.9 259.25,54.6 259.30,55.3 259.35,56.1 259.40,57.0 259.45,59.3 259.50,62.6 259.55,63.9 259.60,60.7 259.65,58.2 259.70,56.6 259.75,54.9 259.80,54.5 259.85,54.6 259.90,55.6 259.95,58.1 260.00,61.5 260.05,59.8 260.10,58.9 260.15,56.6 260.20,56.5 260.25,56.8 260.30,56.9 260.35,56.1 260.40,56.7 260.45,55.0 260.50,55.5 260.55,54.7 260.60,54.0 260.65,53.6 260.70,54.1 260.75,55.8 260.80,60.1 260.85,65.9 260.90,51.5 260.95,54.8 261.00,52.9 261.05,52.4 261.10,52.4 261.15,52.4 261.20,52.9 261.25,53.2 261.30,53.9 261.35,54.7 261.40,54.8 261.45,55.6 261.50,58.0 261.55,58.2 261.60,60.9 261.65,64.6 261.70,71.8 261.75,77.4 261.80,74.4 261.85,66.9 261.90,62.3 261.95,60.4 262.00,60.8 262.05,63.2 262.10,65.5 262.15,63.0 262.20,58.4 262.25,56.5 262.30,54.6 262.35,53.7 262.40,53.6 262.45,53.4 262.50,53.3 262.55,52.4 262.60,52.5 262.65,53.3 262.70,52.5 262.75,52.8 262.80,53.3 262.85,53.1 262.90,53.7 262.95,55.3 263.00,58.3 263.05,63.7 263.10,59.0 263.15,55.7 263.20,54.4 263.25,54.4 263.30,54.2 263.35,53.7 263.40,53.5 263.45,53.9 263.50,53.7 263.55,55.0 263.60,55.8 263.65,59.4 263.70,64.5 263.75,61.9 263.80,56.9 263.85,55.1 263.90,53.0 263.95,52.9 264.00,54.0 264.05,57.8 264.10,65.7 264.15,62.6 264.20,55.5 264.25,53.2 264.30,52.4 264.35,52.5 264.40,51.9 264.45,52.5 264.50,53.2 264.55,55.2 264.60,56.2 264.65,55.0 264.70,53.7 264.75,55.3 264.80,53.1 264.85,53.3 264.90,52.9 264.95,52.7 265.00,53.4 265.05,53.4 265.10,53.1 265.15,54.0 265.20,54.1 265.25,53.7 265.30,54.0 265.35,54.6 265.40,54.7 265.45,54.9 265.50,55.0 265.55,55.9 265.60,55.6 265.65,56.3 265.70,57.1 265.75,57.1 265.80,59.2 265.85,62.2 265.90,58.4 265.95,56.9 266.00,55.5 266.05,57.8 266.10,54.8 266.15,55.6 266.20,55.2 266.25,55.4 266.30,55.9 266.35,56.6 266.40,58.5 266.45,62.7 266.50,63.4 266.55,62.9 266.60,60.7 266.65,61.2 266.70,65.1 266.75,71.5 266.80,82.3 266.85,91.6 266.90,96.5 266.95,89.7 267.00,80.2 267.05,87.2 267.10,103.4 267.15,53.4 267.20,70.6 267.25,65.2 267.30,64.6 267.35,66.3 267.40,67.0 267.45,71.9 267.50,53.0 267.55,91.0 267.60,108.1 267.65,107.2 267.70,90.3 267.75,78.0 267.80,72.3 267.85,69.6 267.90,68.8 267.95,70.8 268.00,75.0 268.05,77.0 268.10,76.5 268.15,75.2 268.20,76.2 268.25,72.0 268.30,65.8 268.35,61.7 268.40,59.9 268.45,61.6 268.50,58.3 268.55,57.6 268.60,59.7 268.65,57.3 268.70,55.4 268.75,59.5 268.80,61.3 268.85,63.3 268.90,67.9 268.95,68.5 269.00,66.5 269.05,67.5 269.10,72.4 269.15,77.4 269.20,88.7 269.25,95.4 269.30,88.4 269.35,77.2 269.40,71.9 269.45,65.5 269.50,63.0 269.55,63.5 269.60,65.0 269.65,69.2 269.70,70.5 269.75,67.2 269.80,62.4 269.85,59.5 269.90,58.1 269.95,56.9 270.00,57.0 270.05,56.4 270.10,56.0 270.15,55.7 270.20,56.2 270.25,57.3 270.30,62.2 270.35,66.7 270.40,70.9 270.45,65.2 270.50,63.1 270.55,65.6 270.60,69.3 270.65,71.9 270.70,68.1 270.75,64.1 270.80,61.2 270.85,59.7 270.90,59.0 270.95,58.2 271.00,58.7 271.05,61.0 271.10,63.6 271.15,71.5 271.20,84.0 271.25,105.2 271.30,106.1 271.35,87.1 271.40,78.3 271.45,83.5 271.50,83.7 271.55,73.0 271.60,69.6 271.65,70.7 271.70,74.2 271.75,80.8 271.80,94.0 271.85,113.5 271.90,118.1 271.95,100.5 272.00,83.9 272.05,72.4 272.10,54.8 272.15,63.1 272.20,61.2 272.25,60.6 272.30,61.2 272.35,63.7 272.40,66.7 272.45,62.2 272.50,61.1 272.55,60.2 272.60,61.0 272.65,62.1 272.70,66.2 272.75,71.1 272.80,74.9 272.85,78.2 272.90,86.9 272.95,111.9 273.00,123.4 273.05,93.4 273.10,75.4 273.15,67.6 273.20,66.4 273.25,71.0 273.30,65.3 273.35,61.5 273.40,60.7 273.45,62.3 273.50,65.1 273.55,68.1 273.60,68.7 273.65,65.2 273.70,61.6 273.75,59.2 273.80,58.2 273.85,57.5 273.90,56.7 273.95,57.5 274.00,56.6 274.05,56.8 274.10,56.5 274.15,57.4 274.20,56.6 274.25,56.6 274.30,57.3 274.35,58.5 274.40,59.1 274.45,60.0 274.50,61.5 274.55,66.3 274.60,74.5 274.65,81.9 274.70,77.6 274.75,68.3 274.80,62.5 274.85,59.5 274.90,58.1 274.95,56.3 275.00,57.0 275.05,55.0 275.10,55.5 275.15,55.2 275.20,54.0 275.25,53.9 275.30,54.6 275.35,53.8 275.40,54.4 275.45,54.1 275.50,56.4 275.55,55.3 275.60,55.5 275.65,56.2 275.70,56.7 275.75,57.8 275.80,58.5 275.85,60.1 275.90,62.7 275.95,66.4 276.00,73.9 276.05,88.5 276.10,99.6 276.15,86.7 276.20,73.8 276.25,65.7 276.30,61.0 276.35,58.8 276.40,57.7 276.45,57.8 276.50,57.5 276.55,58.6 276.60,62.6 276.65,68.1 276.70,80.3 276.75,78.9 276.80,66.4 276.85,61.8 276.90,58.9 276.95,58.5 277.00,58.5 277.05,59.6 277.10,61.3 277.15,66.6 277.20,76.9 277.25,102.9 277.30,125.2 277.35,95.1 277.40,73.8 277.45,65.5 277.50,61.7 277.55,60.2 277.60,59.4 277.65,60.0 277.70,59.3 277.75,58.2 277.80,56.9 277.85,57.9 277.90,57.8 277.95,58.2 278.00,59.3 278.05,62.0 278.10,64.3 278.15,70.0 278.20,79.1 278.25,88.3 278.30,87.7 278.35,77.9 278.40,69.3 278.45,64.5 278.50,61.6 278.55,60.5 278.60,59.1 278.65,59.5 278.70,60.3 278.75,63.1 278.80,68.4 278.85,72.7 278.90,68.4 278.95,62.9 279.00,60.3 279.05,59.0 279.10,58.9 279.15,58.0 279.20,58.6 279.25,58.7 279.30,58.7 279.35,60.3 279.40,61.3 279.45,64.6 279.50,69.2 279.55,78.5 279.60,74.0 279.65,76.6 279.70,95.8 279.75,98.8 279.80,74.9 279.85,65.8 279.90,63.3 279.95,60.2 280.00,60.7 280.05,58.8 280.10,57.8 280.15,57.1 280.20,57.5 280.25,57.4 280.30,57.3 280.35,57.4 280.40,58.0 280.45,57.6 280.50,57.9 280.55,58.0 280.60,58.2 280.65,58.2 280.70,58.4 280.75,58.2 280.80,57.7 280.85,57.8 280.90,57.3 280.95,57.1 281.00,57.1 281.05,56.5 281.10,56.3 281.15,56.3 281.20,55.4 281.25,55.1 281.30,55.0 281.35,54.4 281.40,54.1 281.45,54.0 281.50,53.6 281.55,53.3 281.60,53.1 281.65,52.8 281.70,52.3 281.75,52.5 281.80,52.3 281.85,52.2 281.90,51.1 281.95,51.3 282.00,51.1 282.05,51.0 282.10,51.0 282.15,51.7 282.20,51.5 282.25,51.0 282.30,51.4 282.35,51.5 282.40,52.2 282.45,52.4 282.50,53.4 282.55,57.5 282.60,62.0 282.65,63.8 282.70,57.4 282.75,56.7 282.80,56.0 282.85,60.2 282.90,69.6 282.95,79.5 283.00,69.4 283.05,59.8 283.10,54.8 283.15,52.3 283.20,52.6 283.25,51.9 283.30,54.6 283.35,52.6 283.40,54.3 283.45,55.5 283.50,59.6 283.55,68.6 283.60,93.4 283.65,115.0 283.70,85.2 283.75,65.8 283.80,57.4 283.85,54.2 283.90,51.8 283.95,50.7 284.00,49.1 284.05,48.6 284.10,48.0 284.15,46.4 284.20,46.0 284.25,46.9 284.30,45.9 284.35,45.9 284.40,46.4 284.45,47.3 284.50,48.1 284.55,48.3 284.60,49.9 284.65,48.9 284.70,49.3 284.75,49.8 284.80,50.3 284.85,51.4 284.90,52.6 284.95,51.8 285.00,51.7 285.05,52.1 285.10,52.3 285.15,52.0 285.20,52.8 285.25,54.5 285.30,48.5 285.35,68.2 285.40,84.1 285.45,95.8 285.50,79.2 285.55,63.5 285.60,56.2 285.65,54.1 285.70,51.3 285.75,51.2 285.80,50.4 285.85,50.2 285.90,50.3 285.95,51.0 286.00,52.0 286.05,50.5 286.10,51.6 286.15,50.6 286.20,50.5 286.25,49.5 286.30,49.5 286.35,50.1 286.40,48.7 286.45,48.3 286.50,47.8 286.55,47.0 286.60,47.5 286.65,46.8 286.70,45.8 286.75,47.0 286.80,46.4 286.85,46.9 286.90,47.4 286.95,48.7 287.00,48.9 287.05,48.1 287.10,48.6 287.15,49.5 287.20,49.5 287.25,49.6 287.30,50.0 287.35,50.3 287.40,50.5 287.45,49.9 287.50,50.1 287.55,50.1 287.60,50.1 287.65,50.1 287.70,50.4 287.75,48.5 287.80,51.0 287.85,50.4 287.90,51.1 287.95,50.8 288.00,51.3 288.05,52.3 288.10,52.8 288.15,55.4 288.20,56.6 288.25,62.1 288.30,79.3 288.35,110.8 288.40,86.1 288.45,71.6 288.50,69.8 288.55,69.2 288.60,67.2 288.65,62.2 288.70,63.7 288.75,65.1 288.80,72.3 288.85,87.1 288.90,104.6 288.95,105.6 289.00,92.7 289.05,77.6 289.10,66.8 289.15,61.1 289.20,58.0 289.25,55.1 289.30,54.3 289.35,54.0 289.40,54.6 289.45,54.3 289.50,55.8 289.55,58.1 289.60,63.5 289.65,67.5 289.70,63.7 289.75,60.6 289.80,58.8 289.85,58.3 289.90,60.2 289.95,65.2 290.00,71.5 290.05,71.2 290.10,66.7 290.15,59.9 290.20,57.6 290.25,57.5 290.30,60.9 290.35,70.7 290.40,86.6 290.45,77.6 290.50,74.9 290.55,81.2 290.60,94.1 290.65,82.9 290.70,69.6 290.75,64.4 290.80,63.1 290.85,65.4 290.90,69.7 290.95,69.7 291.00,68.0 291.05,67.5 291.10,62.0 291.15,59.1 291.20,56.1 291.25,54.8 291.30,54.7 291.35,53.7 291.40,54.3 291.45,52.2 291.50,51.7 291.55,51.8 291.60,52.2 291.65,51.8 291.70,51.7 291.75,52.6 291.80,52.3 291.85,52.9 291.90,49.5 291.95,52.4 292.00,52.1 292.05,52.3 292.10,52.8 292.15,52.8 292.20,51.7 292.25,52.9 292.30,52.2 292.35,50.9 292.40,50.7 292.45,50.3 292.50,49.8 292.55,49.4 292.60,49.9 292.65,49.0 292.70,49.0 292.75,49.7 292.80,50.8 292.85,52.5 292.90,53.5 292.95,52.1 293.00,50.7 293.05,49.8 293.10,48.5 293.15,48.5 293.20,47.9 293.25,48.7 293.30,48.1 293.35,48.3 293.40,48.3 293.45,48.6 293.50,50.2 293.55,51.6 293.60,55.8 293.65,66.6 293.70,67.3 293.75,57.0 293.80,52.2 293.85,51.2 293.90,52.0 293.95,54.0 294.00,56.5 294.05,57.7 294.10,58.8 294.15,61.4 294.20,65.8 294.25,62.5 294.30,56.4 294.35,54.4 294.40,52.8 294.45,52.8 294.50,52.3 294.55,51.8 294.60,51.8 294.65,51.4 294.70,51.7 294.75,51.2 294.80,50.9 294.85,50.9 294.90,50.6 294.95,50.7 295.00,50.8 295.05,51.2 295.10,51.1 295.15,50.5 295.20,51.3 295.25,50.4 295.30,50.4 295.35,50.6 295.40,51.2 295.45,53.3 295.50,58.1 295.55,63.9 295.60,64.2 295.65,56.5 295.70,52.8 295.75,51.2 295.80,51.6 295.85,51.8 295.90,52.4 295.95,54.2 296.00,58.4 296.05,66.0 296.10,76.9 296.15,78.4 296.20,66.7 296.25,59.6 296.30,55.1 296.35,52.3 296.40,51.6 296.45,50.2 296.50,49.7 296.55,49.2 296.60,48.6 296.65,48.1 296.70,47.6 296.75,47.5 296.80,47.0 296.85,46.4 296.90,46.7 296.95,47.8 297.00,47.6 297.05,48.5 297.10,48.6 297.15,49.0 297.20,49.5 297.25,50.7 297.30,52.2 297.35,51.3 297.40,52.4 297.45,52.8 297.50,54.3 297.55,57.3 297.60,56.2 297.65,59.3 297.70,64.9 297.75,68.1 297.80,70.9 297.85,69.7 297.90,64.7 297.95,57.9 298.00,54.4 298.05,52.7 298.10,50.7 298.15,50.0 298.20,49.0 298.25,48.8 298.30,48.4 298.35,48.9 298.40,49.5 298.45,49.4 298.50,50.2 298.55,49.6 298.60,49.5 298.65,49.8 298.70,50.6 298.75,51.2 298.80,53.8 298.85,58.2 298.90,58.5 298.95,54.5 299.00,53.0 299.05,54.3 299.10,54.4 299.15,55.6 299.20,61.1 299.25,61.7 299.30,63.6 299.35,59.3 299.40,55.4 299.45,53.1 299.50,51.9 299.55,51.0 299.60,50.4 299.65,50.2 299.70,49.2 299.75,48.5 299.80,48.5 299.85,47.8 299.90,47.1 299.95,47.2 300.00,47.0 300.05,47.9 300.10,46.9 300.15,47.1 300.20,46.2 300.25,46.2 300.30,46.3 300.35,45.9 300.40,46.1 300.45,45.8 300.50,45.7 300.55,46.4 300.60,46.6 300.65,46.8 300.70,48.3 300.75,48.0 300.80,47.6 300.85,48.1 300.90,48.1 300.95,50.2 301.00,49.8 301.05,49.6 301.10,49.9 301.15,51.5 301.20,50.3 301.25,49.5 301.30,49.7 301.35,50.4 301.40,49.9 301.45,50.5 301.50,50.0 301.55,50.1 301.60,50.8 301.65,50.5 301.70,51.0 301.75,50.6 301.80,50.2 301.85,49.8 301.90,49.8 301.95,49.7 302.00,50.9 302.05,48.4 302.10,49.9 302.15,48.2 302.20,48.0 302.25,47.2 302.30,47.2 302.35,47.2 302.40,47.2 302.45,48.7 302.50,47.4 302.55,47.6 302.60,49.0 302.65,48.3 302.70,48.7 302.75,49.4 302.80,48.5 302.85,50.2 302.90,50.5 302.95,51.7 303.00,53.6 303.05,55.6 303.10,59.5 303.15,61.0 303.20,58.6 303.25,57.3 303.30,58.3 303.35,63.3 303.40,70.4 303.45,80.6 303.50,85.0 303.55,75.8 303.60,66.2 303.65,58.4 303.70,54.5 303.75,52.0 303.80,50.9 303.85,49.7 303.90,49.3 303.95,50.1 304.00,48.3 304.05,48.4 304.10,48.5 304.15,48.3 304.20,48.7 304.25,48.8 304.30,49.6 304.35,51.2 304.40,54.6 304.45,62.7 304.50,65.6 304.55,55.7 304.60,51.1 304.65,49.6 304.70,48.8 304.75,48.0 304.80,47.8 304.85,49.1 304.90,47.9 304.95,48.1 305.00,48.3 305.05,48.8 305.10,49.3 305.15,49.1 305.20,46.5 305.25,49.4 305.30,49.3 305.35,49.6 305.40,50.1 305.45,50.4 305.50,51.0 305.55,50.7 305.60,50.6 305.65,51.4 305.70,51.5 305.75,51.5 305.80,51.4 305.85,51.7 305.90,52.0 305.95,51.7 306.00,51.6 306.05,51.5 306.10,52.0 306.15,51.5 306.20,52.1 306.25,52.6 306.30,55.0 306.35,61.6 306.40,80.4 306.45,87.2 306.50,63.9 306.55,57.1 306.60,54.7 306.65,55.9 306.70,60.2 306.75,66.1 306.80,68.6 306.85,61.9 306.90,57.1 306.95,53.2 307.00,51.8 307.05,52.0 307.10,55.5 307.15,69.3 307.20,70.2 307.25,55.7 307.30,51.4 307.35,49.5 307.40,49.3 307.45,49.7 307.50,50.1 307.55,52.8 307.60,57.2 307.65,54.6 307.70,50.5 307.75,50.3 307.80,50.2 307.85,50.9 307.90,51.2 307.95,52.5 308.00,52.6 308.05,53.6 308.10,55.6 308.15,58.7 308.20,62.3 308.25,67.0 308.30,74.8 308.35,79.8 308.40,78.9 308.45,68.5 308.50,60.7 308.55,57.2 308.60,54.6 308.65,51.7 308.70,50.5 308.75,49.0 308.80,48.9 308.85,47.0 308.90,46.8 308.95,46.6 309.00,46.9 309.05,46.9 309.10,47.0 309.15,47.3 309.20,47.9 309.25,47.9 309.30,48.2 309.35,50.2 309.40,49.7 309.45,50.1 309.50,50.1 309.55,50.9 309.60,49.1 309.65,52.9 309.70,52.8 309.75,54.8 309.80,55.9 309.85,59.3 309.90,63.1 309.95,68.9 310.00,71.0 310.05,66.5 310.10,62.9 310.15,61.5 310.20,63.3 310.25,68.8 310.30,66.0 310.35,49.9 310.40,56.0 310.45,49.6 310.50,53.0 310.55,52.8 310.60,51.9 310.65,51.6 310.70,52.1 310.75,52.9 310.80,55.2 310.85,60.1 310.90,68.4 310.95,75.9 311.00,71.5 311.05,60.3 311.10,55.2 311.15,51.5 311.20,49.8 311.25,48.6 311.30,48.5 311.35,47.8 311.40,47.8 311.45,47.6 311.50,50.9 311.55,48.4 311.60,49.2 311.65,48.8 311.70,52.1 311.75,55.8 311.80,63.3 311.85,69.9 311.90,66.9 311.95,59.8 312.00,55.6 312.05,53.2 312.10,52.4 312.15,51.8 312.20,52.3 312.25,52.7 312.30,53.5 312.35,53.8 312.40,54.6 312.45,55.4 312.50,56.1 312.55,56.2 312.60,55.2 312.65,54.3 312.70,53.2 312.75,52.9 312.80,52.7 312.85,52.9 312.90,52.3 312.95,52.9 313.00,54.8 313.05,58.4 313.10,62.7 313.15,61.1 313.20,61.3 313.25,68.8 313.30,71.7 313.35,48.2 313.40,56.7 313.45,55.0 313.50,54.5 313.55,55.7 313.60,55.6 313.65,58.1 313.70,62.3 313.75,72.0 313.80,82.6 313.85,45.9 313.90,62.4 313.95,56.1 314.00,53.4 314.05,51.9 314.10,50.9 314.15,50.3 314.20,50.0 314.25,50.0 314.30,49.2 314.35,48.5 314.40,49.2 314.45,48.3 314.50,48.6 314.55,48.1 314.60,48.3 314.65,49.8 314.70,48.6 314.75,48.9 314.80,49.5 314.85,49.0 314.90,49.7 314.95,49.1 315.00,50.2 315.05,50.0 315.10,50.4 315.15,50.9 315.20,51.2 315.25,52.5 315.30,54.0 315.35,56.4 315.40,59.8 315.45,66.2 315.50,74.7 315.55,86.7 315.60,93.8 315.65,82.7 315.70,72.3 315.75,65.1 315.80,61.2 315.85,60.0 315.90,60.7 315.95,66.6 316.00,90.7 316.05,86.0 316.10,66.4 316.15,61.5 316.20,60.8 316.25,61.4 316.30,63.3 316.35,67.9 316.40,73.8 316.45,73.2 316.50,73.2 316.55,76.6 316.60,49.0 316.65,67.7 316.70,65.2 316.75,66.8 316.80,71.2 316.85,65.3 316.90,59.3 316.95,56.0 317.00,54.4 317.05,54.1 317.10,53.7 317.15,53.7 317.20,54.5 317.25,56.1 317.30,63.4 317.35,72.8 317.40,72.0 317.45,61.0 317.50,54.8 317.55,52.9 317.60,52.6 317.65,53.2 317.70,55.5 317.75,60.9 317.80,65.7 317.85,61.1 317.90,53.6 317.95,51.7 318.00,48.6 318.05,49.4 318.10,47.3 318.15,47.3 318.20,46.7 318.25,46.9 318.30,46.6 318.35,46.0 318.40,48.3 318.45,46.4 318.50,48.8 318.55,47.0 318.60,47.4 318.65,48.9 318.70,49.0 318.75,49.5 318.80,51.2 318.85,51.3 318.90,53.1 318.95,55.4 319.00,59.7 319.05,67.5 319.10,71.4 319.15,73.8 319.20,80.2 319.25,90.2 319.30,93.6 319.35,45.9 319.40,73.6 319.45,65.9 319.50,61.5 319.55,58.4 319.60,57.2 319.65,55.6 319.70,54.8 319.75,54.6 319.80,52.7 319.85,51.6 319.90,51.4 319.95,50.9 320.00,49.8 320.05,49.5 320.10,49.0 320.15,48.3 320.20,48.0 320.25,47.1 320.30,46.7 320.35,48.3 320.40,48.5 320.45,49.4 320.50,51.3 320.55,53.0 320.60,56.7 320.65,63.0 320.70,73.8 320.75,80.5 320.80,72.8 320.85,64.8 320.90,63.2 320.95,64.9 321.00,68.9 321.05,66.5 321.10,60.7 321.15,56.1 321.20,54.3 321.25,54.0 321.30,53.3 321.35,53.0 321.40,52.9 321.45,52.6 321.50,53.1 321.55,53.9 321.60,55.7 321.65,54.4 321.70,55.9 321.75,58.7 321.80,65.1 321.85,73.0 321.90,85.5 321.95,84.7 322.00,73.2 322.05,64.5 322.10,61.1 322.15,59.5 322.20,60.2 322.25,63.8 322.30,68.5 322.35,75.8 322.40,77.0 322.45,71.9 322.50,63.6 322.55,59.3 322.60,57.2 322.65,55.5 322.70,56.3 322.75,58.5 322.80,63.9 322.85,70.4 322.90,74.7 322.95,72.3 323.00,67.2 323.05,67.6 323.10,66.4 323.15,60.5 323.20,57.7 323.25,57.1 323.30,55.9 323.35,55.5 323.40,54.6 323.45,52.9 323.50,52.3 323.55,51.7 323.60,51.4 323.65,52.5 323.70,55.8 323.75,54.9 323.80,49.7 323.85,47.7 323.90,46.6 323.95,46.6 324.00,46.5 324.05,47.2 324.10,48.8 324.15,48.1 324.20,48.3 324.25,49.4 324.30,49.1 324.35,50.2 324.40,51.7 324.45,53.7 324.50,56.3 324.55,61.2 324.60,70.7 324.65,72.3 324.70,61.7 324.75,56.2 324.80,52.1 324.85,50.3 324.90,49.3 324.95,48.4 325.00,48.5 325.05,48.0 325.10,48.2 325.15,47.9 325.20,46.6 325.25,48.8 325.30,50.5 325.35,54.2 325.40,62.9 325.45,64.0 325.50,55.4 325.55,52.1 325.60,52.3 325.65,51.5 325.70,50.8 325.75,51.1 325.80,50.7 325.85,51.7 325.90,50.6 325.95,51.0 326.00,51.0 326.05,51.6 326.10,52.8 326.15,54.3 326.20,59.0 326.25,61.8 326.30,57.8 326.35,57.1 326.40,58.6 326.45,62.6 326.50,67.9 326.55,71.1 326.60,72.9 326.65,72.6 326.70,68.3 326.75,69.1 326.80,78.2 326.85,86.1 326.90,80.4 326.95,67.7 327.00,60.5 327.05,56.4 327.10,54.1 327.15,52.9 327.20,52.7 327.25,54.3 327.30,56.2 327.35,58.1 327.40,60.0 327.45,57.3 327.50,53.8 327.55,51.6 327.60,49.2 327.65,48.5 327.70,48.3 327.75,48.0 327.80,48.2 327.85,48.1 327.90,48.4 327.95,48.1 328.00,48.5 328.05,48.5 328.10,49.4 328.15,48.8 328.20,49.2 328.25,50.5 328.30,51.2 328.35,51.2 328.40,54.7 328.45,62.3 328.50,63.7 328.55,57.7 328.60,54.8 328.65,56.3 328.70,59.2 328.75,49.6 328.80,60.2 328.85,56.2 328.90,54.2 328.95,53.0 329.00,46.1 329.05,52.2 329.10,52.2 329.15,52.6 329.20,53.9 329.25,55.4 329.30,59.2 329.35,67.7 329.40,86.7 329.45,89.1 329.50,69.0 329.55,58.6 329.60,56.1 329.65,52.5 329.70,50.0 329.75,49.2 329.80,49.1 329.85,49.8 329.90,50.2 329.95,51.7 330.00,54.3 330.05,55.1 330.10,50.7 330.15,49.9 330.20,51.3 330.25,51.2 330.30,54.1 330.35,57.3 330.40,66.1 330.45,79.2 330.50,78.0 330.55,64.8 330.60,57.1 330.65,53.5 330.70,53.0 330.75,50.9 330.80,50.7 330.85,50.6 330.90,50.4 330.95,50.7 331.00,52.2 331.05,50.9 331.10,51.2 331.15,51.1 331.20,50.9 331.25,50.7 331.30,51.3 331.35,51.3 331.40,52.8 331.45,53.2 331.50,53.1 331.55,54.6 331.60,50.3 331.65,67.6 331.70,87.0 331.75,85.5 331.80,65.4 331.85,57.3 331.90,53.8 331.95,52.3 332.00,51.2 332.05,50.7 332.10,50.6 332.15,50.5 332.20,49.2 332.25,49.6 332.30,49.0 332.35,49.5 332.40,48.5 332.45,48.3 332.50,48.8 332.55,48.7 332.60,48.2 332.65,48.7 332.70,47.8 332.75,47.7 332.80,48.2 332.85,48.8 332.90,48.4 332.95,48.3 333.00,48.2 333.05,48.8 333.10,49.7 333.15,50.7 333.20,50.4 333.25,52.2 333.30,56.3 333.35,56.7 333.40,62.8 333.45,76.5 333.50,88.3 333.55,77.8 333.60,68.5 333.65,64.1 333.70,61.7 333.75,56.0 333.80,54.5 333.85,53.1 333.90,52.0 333.95,52.3 334.00,52.3 334.05,51.4 334.10,51.9 334.15,51.2 334.20,51.6 334.25,51.3 334.30,51.3 334.35,51.3 334.40,50.9 334.45,50.7 334.50,50.9 334.55,51.0 334.60,51.6 334.65,50.6 334.70,50.8 334.75,50.5 334.80,51.2 334.85,51.6 334.90,50.9 334.95,50.4 335.00,50.4 335.05,50.9 335.10,50.9 335.15,51.0 335.20,50.4 335.25,50.2 335.30,50.1 335.35,49.8 335.40,49.7 335.45,50.6 335.50,50.5 335.55,49.8 335.60,49.5 335.65,49.4 335.70,49.0 335.75,48.7 335.80,48.8 335.85,48.6 335.90,49.3 335.95,48.6 336.00,48.6 336.05,49.2 336.10,48.8 336.15,48.9 336.20,49.0 336.25,49.1 336.30,49.5 336.35,50.4 336.40,49.9 336.45,50.4 336.50,53.1 336.55,53.2 336.60,56.2 336.65,60.9 336.70,66.7 336.75,70.3 336.80,63.8 336.85,59.5 336.90,58.2 336.95,59.8 337.00,58.2 337.05,54.5 337.10,55.4 337.15,52.3 337.20,52.1 337.25,52.2 337.30,52.7 337.35,52.9 337.40,53.0 337.45,53.4 337.50,55.5 337.55,58.1 337.60,61.2 337.65,59.4 337.70,56.5 337.75,53.9 337.80,52.5 337.85,51.8 337.90,51.5 337.95,51.4 338.00,51.2 338.05,51.9 338.10,51.3 338.15,51.5 338.20,50.9 338.25,51.0 338.30,50.9 338.35,50.9 338.40,50.5 338.45,50.2 338.50,50.0 338.55,49.8 338.60,49.7 338.65,50.8 338.70,49.3 338.75,49.9 338.80,49.3 338.85,50.5 338.90,49.8 338.95,49.9 339.00,50.4 339.05,52.0 339.10,53.0 339.15,54.5 339.20,58.4 339.25,63.3 339.30,63.9 339.35,59.2 339.40,58.5 339.45,61.2 339.50,63.8 339.55,70.0 339.60,80.3 339.65,86.6 339.70,82.2 339.75,79.2 339.80,79.7 339.85,81.5 339.90,75.3 339.95,65.2 340.00,59.5 340.05,57.0 340.10,54.8 340.15,55.0 340.20,55.4 340.25,56.3 340.30,58.0 340.35,61.6 340.40,67.1 340.45,71.1 340.50,67.4 340.55,62.5 340.60,57.0 340.65,55.5 340.70,53.9 340.75,53.9 340.80,54.4 340.85,56.0 340.90,59.4 340.95,63.4 341.00,66.4 341.05,63.9 341.10,60.0 341.15,56.2 341.20,54.2 341.25,54.1 341.30,52.4 341.35,52.0 341.40,51.1 341.45,50.6 341.50,50.5 341.55,50.1 341.60,50.3 341.65,51.4 341.70,50.5 341.75,49.4 341.80,49.8 341.85,49.3 341.90,49.0 341.95,49.9 342.00,50.3 342.05,49.7 342.10,51.3 342.15,50.6 342.20,51.2 342.25,50.9 342.30,51.3 342.35,51.8 342.40,52.6 342.45,53.0 342.50,54.3 342.55,55.3 342.60,55.5 342.65,57.8 342.70,60.5 342.75,61.9 342.80,61.5 342.85,58.3 342.90,58.1 342.95,56.8 343.00,58.4 343.05,60.0 343.10,63.4 343.15,64.1 343.20,62.4 343.25,61.0 343.30,62.1 343.35,68.6 343.40,80.7 343.45,76.8 343.50,71.0 343.55,62.7 343.60,59.1 343.65,57.5 343.70,57.3 343.75,56.1 343.80,56.6 343.85,57.5 343.90,61.1 343.95,58.2 344.00,55.6 344.05,53.9 344.10,53.1 344.15,53.3 344.20,54.3 344.25,52.3 344.30,51.9 344.35,52.5 344.40,51.4 344.45,51.2 344.50,51.3 344.55,51.5 344.60,50.9 344.65,50.9 344.70,50.8 344.75,50.4 344.80,50.5 344.85,50.2 344.90,49.9 344.95,51.5 345.00,52.2 345.05,52.4 345.10,53.2 345.15,53.8 345.20,55.4 345.25,56.6 345.30,59.9 345.35,63.3 345.40,66.9 345.45,75.3 345.50,86.2 345.55,94.7 345.60,88.3 345.65,73.9 345.70,65.5 345.75,60.9 345.80,51.7 345.85,56.9 345.90,56.2 345.95,54.8 346.00,54.8 346.05,53.8 346.10,53.8 346.15,54.2 346.20,53.8 346.25,53.9 346.30,54.5 346.35,55.7 346.40,56.7 346.45,59.1 346.50,62.9 346.55,64.7 346.60,64.7 346.65,67.3 346.70,72.5 346.75,73.8 346.80,73.1 346.85,77.6 346.90,83.6 346.95,70.3 347.00,62.6 347.05,60.0 347.10,60.2 347.15,62.2 347.20,63.4 347.25,60.4 347.30,57.6 347.35,55.7 347.40,55.5 347.45,55.6 347.50,55.6 347.55,55.2 347.60,55.5 347.65,56.1 347.70,55.6 347.75,56.4 347.80,58.2 347.85,61.2 347.90,68.3 347.95,76.0 348.00,70.0 348.05,64.8 348.10,65.3 348.15,69.1 348.20,71.4 348.25,70.4 348.30,68.6 348.35,63.1 348.40,60.8 348.45,60.3 348.50,58.5 348.55,57.6 348.60,56.5 348.65,56.5 348.70,55.9 348.75,56.0 348.80,55.4 348.85,55.1 348.90,55.7 348.95,54.2 349.00,54.7 349.05,54.6 349.10,54.1 349.15,55.8 349.20,53.9 349.25,53.0 349.30,53.1 349.35,53.9 349.40,53.2 349.45,52.5 349.50,54.2 349.55,56.1 349.60,57.4 349.65,58.8 349.70,63.5 349.75,67.8 349.80,66.3 349.85,61.5 349.90,57.9 349.95,57.0 350.00,58.0 350.05,56.5 350.10,58.9 350.15,59.3 350.20,62.6 350.25,67.9 350.30,67.9 350.35,66.9 350.40,60.9 350.45,59.7 350.50,59.6 350.55,60.4 350.60,63.1 350.65,64.9 350.70,69.8 350.75,78.3 350.80,92.0 350.85,102.6 350.90,98.1 350.95,83.6 351.00,73.4 351.05,67.7 351.10,64.8 351.15,66.0 351.20,70.3 351.25,66.7 351.30,60.5 351.35,58.1 351.40,56.8 351.45,57.0 351.50,57.3 351.55,61.1 351.60,64.6 351.65,72.8 351.70,76.2 351.75,75.8 351.80,69.5 351.85,62.6 351.90,59.3 351.95,55.7 352.00,54.3 352.05,53.3 352.10,53.1 352.15,54.2 352.20,54.8 352.25,54.7 352.30,55.6 352.35,57.0 352.40,59.5 352.45,61.5 352.50,51.9 352.55,74.9 352.60,84.3 352.65,91.4 352.70,98.2 352.75,101.6 352.80,91.9 352.85,89.3 352.90,96.3 352.95,100.6 353.00,96.1 353.05,88.2 353.10,79.6 353.15,71.3 353.20,66.9 353.25,65.5 353.30,64.5 353.35,65.3 353.40,68.5 353.45,76.6 353.50,81.1 353.55,75.8 353.60,67.3 353.65,61.8 353.70,60.6 353.75,57.6 353.80,56.7 353.85,57.3 353.90,55.7 353.95,55.3 354.00,55.4 354.05,55.9 354.10,55.3 354.15,55.6 354.20,56.0 354.25,55.2 354.30,55.4 354.35,55.9 354.40,56.7 354.45,58.6 354.50,62.9 354.55,71.6 354.60,72.2 354.65,63.2 354.70,59.5 354.75,59.4 354.80,59.0 354.85,60.2 354.90,61.7 354.95,69.9 355.00,88.2 355.05,86.4 355.10,69.9 355.15,60.7 355.20,57.6 355.25,55.4 355.30,54.6 355.35,55.1 355.40,53.6 355.45,54.1 355.50,53.4 355.55,53.1 355.60,53.0 355.65,52.2 355.70,52.3 355.75,52.4 355.80,52.9 355.85,52.6 355.90,52.6 355.95,53.2 356.00,52.9 356.05,53.2 356.10,53.5 356.15,53.2 356.20,53.6 356.25,53.3 356.30,53.3 356.35,54.2 356.40,54.0 356.45,54.1 356.50,54.1 356.55,54.3 356.60,54.4 356.65,54.5 356.70,54.6 356.75,55.3 356.80,55.1 356.85,55.4 356.90,55.4 356.95,56.2 357.00,57.7 357.05,56.5 357.10,56.6 357.15,56.0 357.20,57.6 357.25,56.5 357.30,56.6 357.35,57.0 357.40,57.1 357.45,57.7 357.50,58.3 357.55,59.4 357.60,61.9 357.65,66.5 357.70,64.7 357.75,60.8 357.80,58.0 357.85,56.6 357.90,55.5 357.95,55.1 358.00,56.0 358.05,54.7 358.10,54.6 358.15,56.0 358.20,55.6 358.25,54.1 358.30,55.2 358.35,54.7 358.40,55.2 358.45,55.5 358.50,57.0 358.55,59.6 358.60,64.8 358.65,72.4 358.70,73.7 358.75,69.2 358.80,66.2 358.85,68.2 358.90,64.1 358.95,59.7 359.00,58.2 359.05,57.1 359.10,59.2 359.15,57.9 359.20,58.4 359.25,59.1 359.30,61.4 359.35,63.0 359.40,69.0 359.45,73.8 359.50,67.2 359.55,61.6 359.60,59.0 359.65,57.8 359.70,58.2 359.75,60.0 359.80,64.6 359.85,68.5 359.90,64.6 359.95,64.7 360.00,67.3 360.05,65.8 360.10,62.2 360.15,60.8 360.20,59.2 360.25,59.8 360.30,59.9 360.35,61.4 360.40,63.6 360.45,66.8 360.50,72.8 360.55,80.8 360.60,85.4 360.65,83.0 360.70,76.5 360.75,72.5 360.80,72.0 360.85,74.7 360.90,78.8 360.95,76.6 361.00,70.8 361.05,65.8 361.10,63.6 361.15,63.3 361.20,62.9 361.25,62.6 361.30,64.9 361.35,70.0 361.40,80.5 361.45,85.8 361.50,75.6 361.55,68.1 361.60,66.1 361.65,67.2 361.70,71.2 361.75,80.1 361.80,98.8 361.85,112.3 361.90,91.0 361.95,76.8 362.00,69.5 362.05,66.6 362.10,67.7 362.15,69.1 362.20,69.5 362.25,67.1 362.30,66.1 362.35,69.8 362.40,69.8 362.45,69.2 362.50,69.6 362.55,68.2 362.60,70.7 362.65,75.1 362.70,81.7 362.75,90.1 362.80,103.1 362.85,115.2 362.90,121.0 362.95,108.4 363.00,91.6 363.05,80.4 363.10,74.4 363.15,72.0 363.20,71.6 363.25,67.9 363.30,64.3 363.35,61.8 363.40,60.2 363.45,59.5 363.50,58.7 363.55,58.2 363.60,57.2 363.65,56.9 363.70,56.4 363.75,51.5 363.80,55.3 363.85,54.3 363.90,54.9 363.95,54.6 364.00,57.4 364.05,60.8 364.10,54.8 364.15,53.4 364.20,52.7 364.25,52.4 364.30,52.3 364.35,53.1 364.40,52.8 364.45,52.0 364.50,52.1 364.55,52.1 364.60,52.7 364.65,52.2 364.70,52.5 364.75,52.7 364.80,52.6 364.85,53.7 364.90,54.9 364.95,54.1 365.00,54.7 365.05,55.1 365.10,55.8 365.15,56.1 365.20,56.3 365.25,57.3 365.30,59.5 365.35,59.5 365.40,58.9 365.45,60.3 365.50,62.5 365.55,66.9 365.60,71.9 365.65,73.4 365.70,70.4 365.75,66.0 365.80,64.8 365.85,66.8 365.90,69.0 365.95,76.0 366.00,88.7 366.05,104.4 366.10,113.0 366.15,102.8 366.20,89.7 366.25,86.2 366.30,90.3 366.35,90.6 366.40,82.4 366.45,71.7 366.50,50.7 366.55,61.4 366.60,60.6 366.65,57.4 366.70,57.4 366.75,55.9 366.80,54.4 366.85,54.4 366.90,53.6 366.95,52.9 367.00,53.4 367.05,53.2 367.10,56.5 367.15,56.7 367.20,57.8 367.25,55.6 367.30,55.9 367.35,53.4 367.40,52.7 367.45,53.7 367.50,55.4 367.55,53.3 367.60,52.9 367.65,53.0 367.70,53.6 367.75,52.9 367.80,53.3 367.85,53.7 367.90,53.2 367.95,53.1 368.00,52.6 368.05,53.5 368.10,53.4 368.15,53.7 368.20,52.5 368.25,54.9 368.30,52.5 368.35,52.3 368.40,52.2 368.45,52.0 368.50,52.9 368.55,52.6 368.60,52.4 368.65,52.4 368.70,53.0 368.75,52.4 368.80,53.5 368.85,52.6 368.90,52.7 368.95,53.3 369.00,55.3 369.05,54.9 369.10,57.0 369.15,58.2 369.20,61.7 369.25,68.4 369.30,76.5 369.35,86.8 369.40,85.5 369.45,74.7 369.50,66.5 369.55,61.9 369.60,59.1 369.65,58.8 369.70,57.2 369.75,57.3 369.80,56.8 369.85,56.5 369.90,57.0 369.95,57.1 370.00,58.0 370.05,58.3 370.10,58.2 370.15,53.0 370.20,59.0 370.25,57.0 370.30,57.2 370.35,57.8 370.40,57.3 370.45,58.4 370.50,58.6 370.55,59.5 370.60,62.1 370.65,65.0 370.70,69.4 370.75,78.5 370.80,87.2 370.85,84.4 370.90,75.4 370.95,69.8 371.00,68.7 371.05,70.7 371.10,77.3 371.15,88.7 371.20,98.5 371.25,92.0 371.30,79.0 371.35,68.6 371.40,63.1 371.45,59.9 371.50,58.1 371.55,57.7 371.60,56.2 371.65,55.9 371.70,55.8 371.75,56.3 371.80,58.1 371.85,57.6 371.90,59.8 371.95,65.6 372.00,64.1 372.05,60.3 372.10,60.9 372.15,61.9 372.20,65.4 372.25,70.6 372.30,78.5 372.35,81.0 372.40,74.6 372.45,68.6 372.50,64.9 372.55,62.9 372.60,62.8 372.65,62.5 372.70,63.6 372.75,66.2 372.80,70.2 372.85,76.2 372.90,80.5 372.95,86.7 373.00,88.6 373.05,84.8 373.10,75.6 373.15,68.8 373.20,65.2 373.25,61.3 373.30,59.7 373.35,58.4 373.40,57.9 373.45,58.5 373.50,56.2 373.55,56.3 373.60,55.4 373.65,55.1 373.70,55.4 373.75,55.3 373.80,55.0 373.85,55.6 373.90,55.7 373.95,55.7 374.00,57.8 374.05,62.2 374.10,73.8 374.15,86.3 374.20,82.8 374.25,65.6 374.30,57.9 374.35,56.4 374.40,55.7 374.45,54.2 374.50,55.2 374.55,54.4 374.60,55.2 374.65,56.1 374.70,59.4 374.75,65.3 374.80,69.7 374.85,65.1 374.90,62.1 374.95,60.0 375.00,61.3 375.05,64.5 375.10,76.4 375.15,89.5 375.20,75.6 375.25,68.3 375.30,69.0 375.35,69.8 375.40,68.9 375.45,72.2 375.50,81.8 375.55,103.1 375.60,100.7 375.65,81.4 375.70,71.2 375.75,68.3 375.80,65.8 375.85,65.9 375.90,65.1 375.95,65.8 376.00,66.0 376.05,65.8 376.10,66.3 376.15,66.4 376.20,66.7 376.25,66.9 376.30,68.8 376.35,70.8 376.40,69.1 376.45,67.8 376.50,66.8 376.55,67.9 376.60,68.4 376.65,65.6 376.70,62.5 376.75,61.4 376.80,60.7 376.85,60.7 376.90,60.7 376.95,61.7 377.00,60.9 377.05,61.0 377.10,61.3 377.15,62.0 377.20,61.9 377.25,63.3 377.30,64.3 377.35,64.1 377.40,63.3 377.45,63.0 377.50,63.0 377.55,63.0 377.60,63.4 377.65,63.7 377.70,65.1 377.75,65.0 377.80,66.4 377.85,69.6 377.90,74.2 377.95,81.4 378.00,93.2 378.05,106.1 378.10,111.8 378.15,107.2 378.20,98.7 378.25,89.3 378.30,81.9 378.35,76.3 378.40,75.6 378.45,77.7 378.50,83.3 378.55,83.6 378.60,75.9 378.65,70.6 378.70,69.2 378.75,67.4 378.80,67.9 378.85,70.6 378.90,77.8 378.95,87.4 379.00,83.5 379.05,75.3 379.10,72.8 379.15,73.6 379.20,79.8 379.25,94.9 379.30,125.6 379.35,136.9 379.40,114.6 379.45,88.0 379.50,76.5 379.55,72.2 379.60,71.2 379.65,70.8 379.70,74.0 379.75,79.0 379.80,85.1 379.85,87.5 379.90,80.1 379.95,75.0 380.00,70.5 380.05,69.4 380.10,71.1 380.15,74.5 380.20,81.8 380.25,95.6 380.30,102.5 380.35,91.0 380.40,83.7 380.45,81.1 380.50,80.0 380.55,82.9 380.60,95.0 380.65,107.8 380.70,95.4 380.75,80.0 380.80,74.2 380.85,72.3 380.90,75.0 380.95,82.8 381.00,86.1 381.05,75.5 381.10,69.2 381.15,67.6 381.20,64.3 381.25,63.3 381.30,62.9 381.35,62.0 381.40,62.2 381.45,62.7 381.50,62.4 381.55,62.0 381.60,61.0 381.65,60.6 381.70,61.0 381.75,60.6 381.80,59.9 381.85,60.0 381.90,59.3 381.95,59.5 382.00,59.2 382.05,58.6 382.10,58.5 382.15,58.9 382.20,59.3 382.25,60.1 382.30,60.4 382.35,61.0 382.40,63.2 382.45,63.1 382.50,65.0 382.55,65.0 382.60,66.9 382.65,66.6 382.70,68.3 382.75,70.1 382.80,73.2 382.85,77.8 382.90,88.9 382.95,97.5 383.00,88.7 383.05,77.9 383.10,75.0 383.15,77.3 383.20,83.6 383.25,92.6 383.30,99.3 383.35,96.2 383.40,85.9 383.45,77.6 383.50,71.9 383.55,68.7 383.60,66.8 383.65,65.8 383.70,65.1 383.75,64.9 383.80,64.8 383.85,65.5 383.90,64.4 383.95,64.8 384.00,63.7 384.05,64.1 384.10,64.6 384.15,65.5 384.20,66.2 384.25,68.3 384.30,68.7 384.35,65.7 384.40,63.4 384.45,62.2 384.50,61.7 384.55,62.9 384.60,63.9 384.65,64.6 384.70,68.6 384.75,75.6 384.80,92.4 384.85,102.7 384.90,83.2 384.95,71.6 385.00,66.2 385.05,64.7 385.10,63.0 385.15,63.1 385.20,62.1 385.25,62.1 385.30,62.3 385.35,61.9 385.40,62.1 385.45,62.8 385.50,63.0 385.55,63.5 385.60,64.0 385.65,65.5 385.70,66.8 385.75,68.1 385.80,72.8 385.85,80.3 385.90,76.3 385.95,68.9 386.00,65.5 386.05,62.5 386.10,61.2 386.15,60.1 386.20,59.9 386.25,61.6 386.30,59.6 386.35,62.4 386.40,67.2 386.45,64.6 386.50,62.9 386.55,61.3 386.60,60.7 386.65,61.0 386.70,61.3 386.75,61.6 386.80,62.4 386.85,62.5 386.90,63.1 386.95,62.6 387.00,62.0 387.05,61.5 387.10,57.4 387.15,61.9 387.20,60.5 387.25,60.4 387.30,59.9 387.35,60.1 387.40,58.9 387.45,59.2 387.50,59.1 387.55,59.0 387.60,58.9 387.65,59.4 387.70,59.8 387.75,60.1 387.80,60.9 387.85,61.8 387.90,61.8 387.95,63.0 388.00,63.2 388.05,64.0 388.10,64.6 388.15,65.3 388.20,66.7 388.25,68.2 388.30,71.5 388.35,77.7 388.40,81.6 388.45,77.9 388.50,72.1 388.55,69.0 388.60,68.5 388.65,69.2 388.70,67.7 388.75,66.8 388.80,65.7 388.85,65.7 388.90,63.9 388.95,64.2 389.00,62.6 389.05,63.1 389.10,62.4 389.15,61.7 389.20,61.7 389.25,62.5 389.30,66.7 389.35,79.3 389.40,76.6 389.45,80.3 389.50,75.3 389.55,68.7 389.60,66.2 389.65,64.8 389.70,65.7 389.75,65.3 389.80,66.6 389.85,68.6 389.90,71.8 389.95,72.1 390.00,69.0 390.05,66.3 390.10,64.8 390.15,63.4 390.20,63.0 390.25,63.4 390.30,61.5 390.35,61.2 390.40,61.1 390.45,59.9 390.50,58.8 390.55,58.6 390.60,58.6 390.65,59.2 390.70,59.4 390.75,59.6 390.80,61.5 390.85,60.9 390.90,61.7 390.95,63.4 391.00,66.9 391.05,75.0 391.10,79.8 391.15,76.8 391.20,68.8 391.25,63.9 391.30,62.4 391.35,61.6 391.40,64.7 391.45,62.7 391.50,65.6 391.55,67.0 391.60,71.0 391.65,68.7 391.70,64.9 391.75,63.1 391.80,62.8 391.85,64.1 391.90,67.2 391.95,69.8 392.00,75.0 392.05,85.7 392.10,96.9 392.15,98.7 392.20,87.7 392.25,77.1 392.30,69.8 392.35,65.7 392.40,63.2 392.45,61.8 392.50,65.4 392.55,61.6 392.60,61.2 392.65,59.9 392.70,60.5 392.75,60.3 392.80,59.5 392.85,60.2 392.90,60.1 392.95,59.2 393.00,59.5 393.05,59.5 393.10,59.9 393.15,60.8 393.20,62.7 393.25,61.4 393.30,61.8 393.35,62.8 393.40,63.4 393.45,64.2 393.50,65.7 393.55,67.5 393.60,72.9 393.65,92.1 393.70,99.8 393.75,82.3 393.80,74.7 393.85,68.6 393.90,65.8 393.95,64.3 394.00,64.2 394.05,63.2 394.10,63.0 394.15,63.1 394.20,63.7 394.25,66.1 394.30,67.3 394.35,71.9 394.40,77.5 394.45,78.1 394.50,71.8 394.55,66.6 394.60,64.3 394.65,62.4 394.70,62.2 394.75,60.9 394.80,60.5 394.85,60.3 394.90,61.1 394.95,60.8 395.00,60.5 395.05,60.9 395.10,63.2 395.15,63.3 395.20,64.2 395.25,64.6 395.30,67.5 395.35,71.2 395.40,78.3 395.45,88.0 395.50,99.1 395.55,99.8 395.60,91.3 395.65,82.7 395.70,76.2 395.75,75.3 395.80,75.2 395.85,78.3 395.90,86.2 395.95,89.2 396.00,79.7 396.05,72.9 396.10,70.7 396.15,72.4 396.20,73.7 396.25,69.8 396.30,68.3 396.35,67.0 396.40,68.3 396.45,68.5 396.50,71.3 396.55,79.0 396.60,96.0 396.65,94.1 396.70,78.5 396.75,71.4 396.80,68.7 396.85,67.8 396.90,70.2 396.95,73.3 397.00,68.1 397.05,66.2 397.10,66.3 397.15,64.8 397.20,63.3 397.25,62.9 397.30,62.6 397.35,61.9 397.40,61.6 397.45,61.2 397.50,61.5 397.55,60.9 397.60,59.9 397.65,59.9 397.70,59.3 397.75,59.6 397.80,60.2 397.85,60.0 397.90,60.4 397.95,60.2 398.00,60.7 398.05,61.4 398.10,61.8 398.15,63.0 398.20,62.8 398.25,62.8 398.30,63.4 398.35,63.7 398.40,64.3 398.45,68.7 398.50,70.2 398.55,66.7 398.60,66.9 398.65,69.6 398.70,74.0 398.75,78.1 398.80,75.4 398.85,69.3 398.90,63.9 398.95,61.9 399.00,61.2 399.05,61.8 399.10,64.7 399.15,66.3 399.20,70.1 399.25,70.4 399.30,66.7 399.35,62.8 399.40,60.0 399.45,57.8 399.50,57.1 399.55,57.1 399.60,57.0 399.65,57.7 399.70,57.7 399.75,57.9 399.80,58.2 399.85,58.7 399.90,59.1 399.95,60.2 400.00,61.2 400.05,62.4 400.10,64.1 400.15,67.7 400.20,69.8 400.25,76.4 400.30,84.2 400.35,80.8 400.40,71.5 400.45,65.0 400.50,61.4 400.55,59.6 400.60,58.5 400.65,56.6 400.70,56.1 400.75,55.5 400.80,55.4 400.85,55.3 400.90,55.3 400.95,55.7 401.00,57.4 401.05,56.5 401.10,56.4 401.15,56.3 401.20,57.4 401.25,57.7 401.30,58.7 401.35,61.7 401.40,68.8 401.45,81.3 401.50,78.4 401.55,75.3 401.60,69.3 401.65,64.8 401.70,62.9 401.75,62.3 401.80,62.4 401.85,63.0 401.90,64.5 401.95,65.8 402.00,68.5 402.05,73.2 402.10,78.5 402.15,77.2 402.20,71.4 402.25,67.9 402.30,64.2 402.35,63.4 402.40,61.4 402.45,61.0 402.50,61.0 402.55,59.6 402.60,59.3 402.65,59.4 402.70,59.4 402.75,59.4 402.80,58.8 402.85,58.6 402.90,59.5 402.95,58.8 403.00,58.6 403.05,58.8 403.10,59.1 403.15,59.7 403.20,61.0 403.25,63.8 403.30,65.9 403.35,69.7 403.40,72.2 403.45,71.6 403.50,73.8 403.55,79.0 403.60,83.3 403.65,76.8 403.70,58.1 403.75,70.5 403.80,69.8 403.85,64.9 403.90,63.6 403.95,62.9 404.00,61.7 404.05,62.7 404.10,61.9 404.15,62.3 404.20,65.0 404.25,63.9 404.30,66.0 404.35,56.5 404.40,89.1 404.45,83.0 404.50,68.7 404.55,66.4 404.60,61.7 404.65,60.7 404.70,60.8 404.75,59.8 404.80,60.0 404.85,60.5 404.90,58.6 404.95,58.5 405.00,58.6 405.05,58.4 405.10,58.6 405.15,59.1 405.20,58.7 405.25,58.7 405.30,58.9 405.35,59.4 405.40,59.7 405.45,60.6 405.50,63.1 405.55,68.5 405.60,75.5 405.65,69.9 405.70,67.6 405.75,71.5 405.80,79.1 405.85,67.8 405.90,65.0 405.95,63.6 406.00,67.2 406.05,79.1 406.10,105.4 406.15,93.8 406.20,71.3 406.25,64.3 406.30,60.7 406.35,59.9 406.40,60.4 406.45,59.9 406.50,60.6 406.55,62.3 406.60,63.8 406.65,67.2 406.70,72.6 406.75,81.3 406.80,98.0 406.85,85.2 406.90,69.7 406.95,64.5 407.00,60.5 407.05,59.4 407.10,58.6 407.15,57.8 407.20,58.0 407.25,57.6 407.30,58.7 407.35,63.0 407.40,74.5 407.45,81.7 407.50,67.7 407.55,61.7 407.60,59.6 407.65,58.5 407.70,58.4 407.75,58.4 407.80,58.4 407.85,59.1 407.90,59.3 407.95,59.9 408.00,58.6 408.05,59.3 408.10,60.1 408.15,59.5 408.20,59.6 408.25,59.6 408.30,60.4 408.35,60.8 408.40,61.8 408.45,61.9 408.50,62.5 408.55,64.1 408.60,65.6 408.65,68.0 408.70,71.1 408.75,78.2 408.80,90.1 408.85,104.8 408.90,122.7 408.95,103.6 409.00,101.7 409.05,111.0 409.10,114.3 409.15,102.3 409.20,84.6 409.25,74.7 409.30,68.0 409.35,64.7 409.40,63.6 409.45,61.6 409.50,60.1 409.55,59.7 409.60,60.0 409.65,60.8 409.70,63.5 409.75,68.1 409.80,70.3 409.85,70.5 409.90,68.4 409.95,56.4 410.00,60.7 410.05,55.0 410.10,56.6 410.15,55.8 410.20,55.2 410.25,54.7 410.30,55.5 410.35,54.5 410.40,55.6 410.45,55.0 410.50,55.0 410.55,55.3 410.60,55.7 410.65,56.1 410.70,57.2 410.75,57.0 410.80,57.3 410.85,57.2 410.90,58.2 410.95,59.2 411.00,59.1 411.05,60.1 411.10,61.3 411.15,66.3 411.20,69.8 411.25,63.6 411.30,60.1 411.35,58.9 411.40,58.6 411.45,58.8 411.50,58.6 411.55,58.1 411.60,57.9 411.65,56.7 411.70,56.6 411.75,56.0 411.80,55.9 411.85,56.3 411.90,55.3 411.95,55.3 412.00,56.1 412.05,57.4 412.10,59.0 412.15,58.4 412.20,56.0 412.25,56.0 412.30,56.0 412.35,57.3 412.40,60.5 412.45,60.5 412.50,58.1 412.55,55.2 412.60,55.5 412.65,53.5 412.70,54.1 412.75,54.4 412.80,54.3 412.85,54.0 412.90,54.3 412.95,55.0 413.00,56.7 413.05,58.9 413.10,60.2 413.15,58.4 413.20,57.6 413.25,56.1 413.30,56.6 413.35,56.7 413.40,57.9 413.45,57.9 413.50,59.7 413.55,62.8 413.60,67.6 413.65,74.7 413.70,79.6 413.75,80.5 413.80,81.3 413.85,76.6 413.90,68.7 413.95,63.4 414.00,60.7 414.05,59.9 414.10,59.9 414.15,60.0 414.20,62.5 414.25,66.7 414.30,73.1 414.35,80.5 414.40,84.2 414.45,80.8 414.50,73.6 414.55,65.4 414.60,60.0 414.65,58.1 414.70,57.3 414.75,55.1 414.80,55.0 414.85,53.8 414.90,54.8 414.95,55.3 415.00,55.7 415.05,57.2 415.10,61.3 415.15,61.4 415.20,53.0 415.25,54.9 415.30,53.2 415.35,52.2 415.40,52.0 415.45,51.7 415.50,52.8 415.55,52.1 415.60,51.8 415.65,52.4 415.70,52.6 415.75,54.4 415.80,53.9 415.85,55.1 415.90,57.5 415.95,61.0 416.00,69.8 416.05,85.5 416.10,85.8 416.15,74.7 416.20,66.6 416.25,61.0 416.30,57.3 416.35,55.2 416.40,53.7 416.45,52.6 416.50,52.3 416.55,51.9 416.60,52.7 416.65,52.6 416.70,51.7 416.75,52.0 416.80,52.2 416.85,52.1 416.90,53.7 416.95,55.6 417.00,59.5 417.05,64.7 417.10,70.1 417.15,77.2 417.20,86.9 417.25,91.0 417.30,80.4 417.35,72.1 417.40,70.1 417.45,72.2 417.50,77.4 417.55,79.7 417.60,82.6 417.65,92.0 417.70,95.0 417.75,90.0 417.80,82.6 417.85,71.5 417.90,62.8 417.95,58.6 418.00,54.0 418.05,52.3 418.10,50.9 418.15,50.2 418.20,49.4 418.25,49.4 418.30,48.7 418.35,49.2 418.40,48.2 418.45,48.0 418.50,47.9 418.55,47.4 418.60,47.4 418.65,47.4 418.70,48.7 418.75,48.4 418.80,49.5 418.85,49.4 418.90,49.9 418.95,51.1 419.00,50.9 419.05,51.5 419.10,52.0 419.15,46.3 419.20,53.8 419.25,53.9 419.30,55.0 419.35,55.0 419.40,53.6 419.45,53.0 419.50,52.4 419.55,54.5 419.60,54.6 419.65,55.5 419.70,60.2 419.75,56.9 419.80,51.8 419.85,48.9 419.90,48.1 419.95,47.9 420.00,47.2 420.05,46.6 420.10,47.1 420.15,47.6 420.20,48.1 420.25,48.1 420.30,49.6 420.35,50.2 420.40,51.9 420.45,55.7 420.50,64.0 420.55,79.4 420.60,91.4 420.65,76.7 420.70,69.9 420.75,69.1 420.80,66.2 420.85,60.0 420.90,55.9 420.95,55.5 421.00,52.9 421.05,52.9 421.10,51.8 421.15,51.5 421.20,51.9 421.25,51.7 421.30,51.6 421.35,52.5 421.40,53.0 421.45,52.2 421.50,53.2 421.55,52.2 421.60,52.3 421.65,53.0 421.70,53.5 421.75,52.6 421.80,52.8 421.85,53.0 421.90,52.6 421.95,52.2 422.00,52.1 422.05,52.8 422.10,53.0 422.15,52.6 422.20,54.0 422.25,52.4 422.30,51.8 422.35,53.7 422.40,51.6 422.45,51.5 422.50,52.6 422.55,51.7 422.60,51.4 422.65,51.7 422.70,52.7 422.75,54.4 422.80,57.0 422.85,46.6 422.90,66.2 422.95,62.8 423.00,67.7 423.05,65.4 423.10,54.7 423.15,50.7 423.20,49.2 423.25,48.3 423.30,48.7 423.35,48.1 423.40,47.6 423.45,46.0 423.50,45.5 423.55,46.4 423.60,46.9 423.65,48.4 423.70,49.0 423.75,51.0 423.80,51.4 423.85,51.9 423.90,53.1 423.95,54.6 424.00,57.7 424.05,59.8 424.10,66.8 424.15,80.2 424.20,84.7 424.25,68.3 424.30,59.7 424.35,55.7 424.40,53.5 424.45,52.3 424.50,51.5 424.55,50.1 424.60,49.3 424.65,49.3 424.70,47.9 424.75,48.4 424.80,49.1 424.85,51.2 424.90,53.8 424.95,57.4 425.00,59.2 425.05,57.4 425.10,53.0 425.15,51.7 425.20,51.1 425.25,51.1 425.30,51.1 425.35,50.4 425.40,50.0 425.45,48.1 425.50,49.8 425.55,48.6 425.60,48.8 425.65,48.0 425.70,48.1 425.75,47.5 425.80,47.0 425.85,46.6 425.90,46.6 425.95,46.9 426.00,51.3 426.05,49.0 426.10,50.1 426.15,50.4 426.20,51.3 426.25,52.5 426.30,53.9 426.35,57.0 426.40,61.4 426.45,59.7 426.50,58.7 426.55,56.7 426.60,56.0 426.65,55.6 426.70,56.4 426.75,55.4 426.80,55.1 426.85,54.9 426.90,54.8 426.95,55.2 427.00,54.9 427.05,48.7 427.10,54.8 427.15,54.6 427.20,54.5 427.25,53.4 427.30,52.9 427.35,52.6 427.40,52.4 427.45,52.0 427.50,51.3 427.55,50.9 427.60,50.4 427.65,51.5 427.70,49.5 427.75,49.4 427.80,51.5 427.85,49.3 427.90,48.5 427.95,48.2 428.00,48.4 428.05,48.2 428.10,47.7 428.15,47.4 428.20,47.1 428.25,46.8 428.30,46.3 428.35,47.1 428.40,47.0 428.45,49.2 428.50,49.2 428.55,48.2 428.60,50.0 428.65,49.4 428.70,50.1 428.75,49.8 428.80,50.0 428.85,50.8 428.90,50.7 428.95,50.8 429.00,51.1 429.05,51.0 429.10,50.7 429.15,50.5 429.20,50.6 429.25,50.5 429.30,50.6 429.35,50.4 429.40,50.2 429.45,50.5 429.50,51.7 429.55,50.4 429.60,50.6 429.65,50.6 429.70,50.7 429.75,50.8 429.80,51.5 429.85,51.6 429.90,51.3 429.95,53.8 430.00,53.6 430.05,52.0 430.10,53.0 430.15,52.1 430.20,51.8 430.25,52.5 430.30,51.4 430.35,51.5 430.40,51.1 430.45,51.0 430.50,51.2 430.55,51.2 430.60,51.5 430.65,50.5 430.70,50.5 430.75,50.5 430.80,50.7 430.85,50.7 430.90,51.1 430.95,51.2 431.00,52.4 431.05,51.3 431.10,51.5 431.15,51.9 431.20,51.5 431.25,51.8 431.30,52.6 431.35,52.1 431.40,51.3 431.45,51.6 431.50,51.1 431.55,48.9 431.60,50.7 431.65,51.9 431.70,50.6 431.75,50.2 431.80,50.3 431.85,49.6 431.90,49.5 431.95,50.6 432.00,49.9 432.05,50.8 432.10,50.6 432.15,51.2 432.20,51.2 432.25,51.7 432.30,53.2 432.35,55.1 432.40,58.1 432.45,62.4 432.50,64.1 432.55,60.4 432.60,59.2 432.65,60.4 432.70,62.5 432.75,64.7 432.80,68.6 432.85,78.3 432.90,87.1 432.95,74.6 433.00,62.7 433.05,58.6 433.10,56.0 433.15,55.2 433.20,55.5 433.25,57.9 433.30,65.0 433.35,84.1 433.40,70.6 433.45,60.9 433.50,59.0 433.55,61.7 433.60,69.1 433.65,88.0 433.70,100.4 433.75,85.6 433.80,77.0 433.85,69.8 433.90,62.7 433.95,58.5 434.00,56.3 434.05,55.7 434.10,54.7 434.15,55.2 434.20,55.2 434.25,57.2 434.30,60.5 434.35,68.6 434.40,77.1 434.45,73.0 434.50,64.6 434.55,58.5 434.60,55.6 434.65,48.8 434.70,53.1 434.75,52.6 434.80,52.2 434.85,52.3 434.90,53.1 434.95,51.8 435.00,52.2 435.05,51.7 435.10,51.1 435.15,51.3 435.20,51.2 435.25,50.5 435.30,51.0 435.35,50.8 435.40,50.9 435.45,50.9 435.50,50.9 435.55,51.8 435.60,51.2 435.65,51.7 435.70,53.8 435.75,54.1 435.80,57.2 435.85,63.1 435.90,72.9 435.95,81.9 436.00,74.5 436.05,63.9 436.10,55.9 436.15,53.9 436.20,51.3 436.25,50.5 436.30,50.1 436.35,49.6 436.40,50.2 436.45,49.5 436.50,50.1 436.55,50.8 436.60,50.0 436.65,52.1 436.70,50.5 436.75,50.0 436.80,52.2 436.85,53.3 436.90,55.7 436.95,58.6 437.00,64.0 437.05,69.8 437.10,70.7 437.15,68.9 437.20,68.0 437.25,67.1 437.30,61.9 437.35,58.3 437.40,56.3 437.45,56.6 437.50,55.9 437.55,58.3 437.60,68.8 437.65,92.0 437.70,68.5 437.75,57.8 437.80,54.5 437.85,55.9 437.90,63.2 437.95,59.4 438.00,54.9 438.05,51.3 438.10,51.2 438.15,51.3 438.20,52.0 438.25,52.6 438.30,52.2 438.35,52.9 438.40,53.3 438.45,54.8 438.50,54.6 438.55,54.2 438.60,53.6 438.65,52.8 438.70,53.9 438.75,52.3 438.80,51.3 438.85,50.8 438.90,50.8 438.95,50.5 439.00,49.3 439.05,48.7 439.10,49.0 439.15,48.9 439.20,48.5 439.25,48.2 439.30,48.9 439.35,49.2 439.40,48.8 439.45,49.1 439.50,49.8 439.55,50.2 439.60,53.0 439.65,54.0 439.70,60.4 439.75,66.6 439.80,58.5 439.85,55.4 439.90,54.4 439.95,53.1 440.00,53.1 440.05,55.8 440.10,63.4 440.15,90.2 440.20,74.3 440.25,58.7 440.30,53.5 440.35,52.1 440.40,52.3 440.45,52.6 440.50,50.8 440.55,50.8 440.60,51.3 440.65,51.5 440.70,51.6 440.75,52.0 440.80,52.4 440.85,52.9 440.90,53.5 440.95,55.3 441.00,58.8 441.05,61.8 441.10,57.7 441.15,55.7 441.20,54.2 441.25,54.6 441.30,54.9 441.35,54.1 441.40,55.5 441.45,54.8 441.50,55.1 441.55,54.8 441.60,53.7 441.65,53.9 441.70,53.4 441.75,53.4 441.80,53.9 441.85,56.6 441.90,58.8 441.95,48.9 442.00,66.8 442.05,60.8 442.10,54.7 442.15,54.5 442.20,51.4 442.25,50.8 442.30,49.7 442.35,50.9 442.40,50.9 442.45,51.2 442.50,51.6 442.55,51.8 442.60,51.4 442.65,51.6 442.70,51.6 442.75,52.1 442.80,53.6 442.85,52.2 442.90,51.9 442.95,52.5 443.00,52.6 443.05,52.2 443.10,52.3 443.15,54.3 443.20,52.8 443.25,52.6 443.30,52.5 443.35,52.6 443.40,53.2 443.45,52.8 443.50,53.8 443.55,54.6 443.60,54.3 443.65,53.7 443.70,53.2 443.75,55.4 443.80,53.7 443.85,53.8 443.90,54.5 443.95,53.6 444.00,53.0 444.05,52.7 444.10,51.9 444.15,52.7 444.20,51.4 444.25,52.0 444.30,51.0 444.35,50.8 444.40,50.5 444.45,50.8 444.50,51.9 444.55,56.3 444.60,63.7 444.65,69.1 444.70,63.3 444.75,61.8 444.80,58.1 444.85,54.8 444.90,54.2 444.95,52.3 445.00,48.6 445.05,51.5 445.10,51.8 445.15,51.1 445.20,50.5 445.25,50.7 445.30,49.8 445.35,49.9 445.40,49.9 445.45,50.3 445.50,48.5 445.55,48.3 445.60,47.8 445.65,48.0 445.70,47.2 445.75,47.8 445.80,47.9 445.85,49.0 445.90,49.1 445.95,48.8 446.00,49.4 446.05,49.3 446.10,50.0 446.15,50.0 446.20,50.8 446.25,51.4 446.30,52.0 446.35,53.1 446.40,54.8 446.45,57.0 446.50,61.1 446.55,63.8 446.60,64.4 446.65,60.0 446.70,57.5 446.75,55.5 446.80,55.8 446.85,55.4 446.90,57.3 446.95,62.4 447.00,72.8 447.05,83.0 447.10,78.1 447.15,70.4 447.20,68.8 447.25,71.3 447.30,72.0 447.35,63.9 447.40,60.7 447.45,58.5 447.50,57.2 447.55,47.8 447.60,57.4 447.65,56.0 447.70,58.9 447.75,56.6 447.80,58.7 447.85,62.7 447.90,68.4 447.95,70.4 448.00,65.9 448.05,60.0 448.10,55.2 448.15,52.8 448.20,52.2 448.25,50.6 448.30,49.8 448.35,49.5 448.40,49.0 448.45,48.9 448.50,48.7 448.55,48.4 448.60,50.1 448.65,48.2 448.70,48.0 448.75,48.0 448.80,47.6 448.85,48.1 448.90,49.3 448.95,47.8 449.00,48.5 449.05,48.0 449.10,48.2 449.15,48.2 449.20,48.9 449.25,48.9 449.30,48.5 449.35,48.3 449.40,48.1 449.45,48.6 449.50,48.5 449.55,48.2 449.60,49.4 449.65,48.9 449.70,48.7 449.75,48.9 449.80,49.0 449.85,50.4 449.90,50.0 449.95,52.7 450.00,56.0 450.05,64.4 450.10,72.4 450.15,66.3 450.20,57.6 450.25,54.1 450.30,52.2 450.35,51.8 450.40,52.2 450.45,51.6 450.50,52.6 450.55,51.5 450.60,51.7 450.65,52.1 450.70,51.8 450.75,52.0 450.80,48.6 450.85,55.0 450.90,56.6 450.95,60.1 451.00,66.4 451.05,69.3 451.10,64.2 451.15,58.3 451.20,55.1 451.25,53.2 451.30,53.4 451.35,49.5 451.40,50.7 451.45,50.8 451.50,50.4 451.55,50.3 451.60,50.9 451.65,50.5 451.70,50.9 451.75,51.1 451.80,53.5 451.85,53.1 451.90,54.9 451.95,59.7 452.00,64.1 452.05,60.4 452.10,59.2 452.15,61.4 452.20,67.9 452.25,77.2 452.30,90.3 452.35,101.5 452.40,101.6 452.45,87.7 452.50,74.4 452.55,68.5 452.60,69.3 452.65,67.7 452.70,62.8 452.75,61.6 452.80,59.4 452.85,59.4 452.90,59.5 452.95,57.9 453.00,58.1 453.05,55.9 453.10,55.0 453.15,55.1 453.20,52.7 453.25,52.0 453.30,51.8 453.35,51.6 453.40,50.5 453.45,50.8 453.50,49.3 453.55,49.1 453.60,48.3 453.65,48.4 453.70,48.5 453.75,48.3 453.80,49.9 453.85,49.2 453.90,48.4 453.95,51.1 454.00,49.5 454.05,48.8 454.10,48.7 454.15,49.7 454.20,50.9 454.25,53.0 454.30,54.4 454.35,58.0 454.40,63.5 454.45,73.4 454.50,77.6 454.55,70.4 454.60,63.5 454.65,60.7 454.70,60.4 454.75,60.9 454.80,59.8 454.85,61.7 454.90,64.3 454.95,65.1 455.00,64.5 455.05,66.1 455.10,71.0 455.15,76.1 455.20,72.7 455.25,64.0 455.30,57.8 455.35,54.1 455.40,52.4 455.45,51.8 455.50,51.1 455.55,51.2 455.60,51.8 455.65,50.7 455.70,50.7 455.75,51.6 455.80,51.1 455.85,51.5 455.90,51.7 455.95,51.7 456.00,51.5 456.05,50.9 456.10,50.7 456.15,51.2 456.20,50.4 456.25,50.6 456.30,51.4 456.35,50.1 456.40,49.8 456.45,49.7 456.50,49.5 456.55,49.7 456.60,50.1 456.65,49.8 456.70,49.9 456.75,51.0 456.80,50.3 456.85,50.7 456.90,50.4 456.95,50.6 457.00,51.0 457.05,52.7 457.10,57.2 457.15,54.6 457.20,52.1 457.25,51.9 457.30,50.9 457.35,49.9 457.40,49.6 457.45,49.8 457.50,50.2 457.55,49.9 457.60,50.0 457.65,51.3 457.70,49.8 457.75,50.5 457.80,51.2 457.85,47.2 457.90,57.4 457.95,57.6 458.00,56.7 458.05,58.6 458.10,61.1 458.15,58.7 458.20,54.6 458.25,51.0 458.30,50.3 458.35,49.8 458.40,49.5 458.45,48.4 458.50,48.2 458.55,49.0 458.60,47.9 458.65,48.2 458.70,48.0 458.75,48.4 458.80,48.3 458.85,48.6 458.90,49.8 458.95,50.8 459.00,49.7 459.05,51.2 459.10,51.7 459.15,53.3 459.20,56.1 459.25,62.5 459.30,70.3 459.35,85.1 459.40,93.2 459.45,82.4 459.50,67.5 459.55,61.0 459.60,56.4 459.65,54.2 459.70,54.2 459.75,53.5 459.80,53.2 459.85,54.4 459.90,52.5 459.95,53.4 460.00,53.8 460.05,54.1 460.10,54.9 460.15,57.7 460.20,62.4 460.25,70.3 460.30,85.9 460.35,101.5 460.40,94.5 460.45,76.5 460.50,65.1 460.55,59.3 460.60,56.6 460.65,54.2 460.70,53.2 460.75,52.6 460.80,52.0 460.85,52.8 460.90,52.6 460.95,52.3 461.00,53.3 461.05,52.3 461.10,54.4 461.15,55.5 461.20,56.1 461.25,57.5 461.30,58.9 461.35,62.9 461.40,69.3 461.45,82.0 461.50,108.7 461.55,48.8 461.60,112.0 461.65,91.3 461.70,76.1 461.75,65.4 461.80,61.1 461.85,57.8 461.90,55.9 461.95,53.7 462.00,51.9 462.05,52.0 462.10,50.9 462.15,51.2 462.20,50.5 462.25,51.6 462.30,52.1 462.35,50.3 462.40,49.5 462.45,49.9 462.50,49.4 462.55,50.7 462.60,50.7 462.65,52.2 462.70,52.2 462.75,52.7 462.80,53.5 462.85,55.6 462.90,55.5 462.95,57.5 463.00,59.7 463.05,63.6 463.10,68.2 463.15,70.2 463.20,66.2 463.25,61.4 463.30,58.6 463.35,56.7 463.40,55.5 463.45,55.1 463.50,56.5 463.55,59.2 463.60,65.9 463.65,61.1 463.70,54.8 463.75,52.2 463.80,51.9 463.85,51.3 463.90,52.0 463.95,51.4 464.00,51.9 464.05,51.3 464.10,52.1 464.15,51.6 464.20,52.1 464.25,52.6 464.30,52.7 464.35,53.0 464.40,52.5 464.45,53.4 464.50,52.8 464.55,53.3 464.60,52.8 464.65,52.5 464.70,52.1 464.75,52.8 464.80,52.7 464.85,52.6 464.90,52.1 464.95,52.6 465.00,52.3 465.05,52.9 465.10,52.9 465.15,53.2 465.20,53.3 465.25,55.5 465.30,59.8 465.35,67.7 465.40,64.0 465.45,58.3 465.50,56.9 465.55,59.0 465.60,65.2 465.65,73.6 465.70,83.9 465.75,82.8 465.80,73.1 465.85,64.9 465.90,59.5 465.95,57.7 466.00,56.0 466.05,55.0 466.10,54.7 466.15,46.5 466.20,53.1 466.25,54.1 466.30,52.0 466.35,51.6 466.40,51.5 466.45,51.3 466.50,50.2 466.55,49.9 466.60,50.7 466.65,49.7 466.70,48.6 466.75,48.6 466.80,49.1 466.85,49.4 466.90,48.7 466.95,48.9 467.00,49.0 467.05,49.4 467.10,50.1 467.15,50.0 467.20,50.5 467.25,52.4 467.30,54.2 467.35,61.0 467.40,59.7 467.45,54.3 467.50,52.3 467.55,52.5 467.60,51.2 467.65,51.2 467.70,51.2 467.75,51.8 467.80,51.8 467.85,52.6 467.90,53.2 467.95,54.1 468.00,54.8 468.05,57.9 468.10,59.6 468.15,66.3 468.20,71.0 468.25,73.0 468.30,67.8 468.35,61.8 468.40,59.8 468.45,60.1 468.50,63.5 468.55,72.2 468.60,86.3 468.65,96.6 468.70,85.9 468.75,46.6 468.80,63.5 468.85,58.8 468.90,56.3 468.95,55.0 469.00,54.2 469.05,54.0 469.10,53.4 469.15,53.3 469.20,53.0 469.25,53.0 469.30,53.3 469.35,53.6 469.40,53.6 469.45,52.3 469.50,52.2 469.55,52.4 469.60,52.2 469.65,52.5 469.70,52.0 469.75,52.3 469.80,52.1 469.85,51.9 469.90,52.0 469.95,51.9 470.00,51.4 470.05,52.5 470.10,52.3 470.15,51.2 470.20,51.1 470.25,51.0 470.30,51.0 470.35,50.7 470.40,50.9 470.45,52.2 470.50,51.2 470.55,51.3 470.60,51.6 470.65,51.3 470.70,52.0 470.75,52.2 470.80,52.2 470.85,52.3 470.90,52.1 470.95,47.9 471.00,52.2 471.05,51.2 471.10,53.4 471.15,50.8 471.20,50.0 471.25,48.1 471.30,49.0 471.35,48.7 471.40,49.0 471.45,47.9 471.50,47.9 471.55,48.6 471.60,49.7 471.65,51.7 471.70,54.6 471.75,54.5 471.80,48.2 471.85,49.4 471.90,48.8 471.95,48.7 472.00,48.8 472.05,49.8 472.10,48.8 472.15,48.7 472.20,48.8 472.25,48.7 472.30,48.5 472.35,48.8 472.40,49.5 472.45,49.0 472.50,49.0 472.55,50.3 472.60,50.1 472.65,53.6 472.70,59.8 472.75,53.5 472.80,50.8 472.85,50.6 472.90,50.6 472.95,50.7 473.00,51.2 473.05,52.3 473.10,52.5 473.15,52.7 473.20,54.5 473.25,53.5 473.30,55.6 473.35,53.9 473.40,53.7 473.45,54.0 473.50,53.5 473.55,52.7 473.60,52.1 473.65,51.8 473.70,51.9 473.75,46.8 473.80,51.0 473.85,50.7 473.90,51.8 473.95,50.8 474.00,51.8 474.05,51.6 474.10,52.5 474.15,51.9 474.20,52.3 474.25,52.7 474.30,53.1 474.35,52.7 474.40,53.5 474.45,53.5 474.50,54.7 474.55,53.0 474.60,53.6 474.65,53.1 474.70,51.5 474.75,51.3 474.80,50.4 474.85,49.9 474.90,49.6 474.95,49.0 475.00,49.0 475.05,48.2 475.10,48.6 475.15,49.5 475.20,49.7 475.25,52.2 475.30,56.3 475.35,60.8 475.40,62.1 475.45,57.4 475.50,55.5 475.55,59.5 475.60,64.2 475.65,58.9 475.70,53.2 475.75,50.5 475.80,49.5 475.85,49.6 475.90,48.2 475.95,48.2 476.00,47.8 476.05,47.5 476.10,47.7 476.15,47.6 476.20,47.0 476.25,47.0 476.30,47.0 476.35,47.6 476.40,47.2 476.45,48.7 476.50,47.4 476.55,47.7 476.60,48.5 476.65,47.9 476.70,48.4 476.75,48.6 476.80,48.4 476.85,48.7 476.90,48.8 476.95,49.2 477.00,49.6 477.05,50.7 477.10,50.9 477.15,51.3 477.20,52.1 477.25,52.2 477.30,53.2 477.35,55.3 477.40,57.8 477.45,61.8 477.50,68.0 477.55,74.2 477.60,75.7 477.65,72.4 477.70,86.1 477.75,96.5 477.80,70.5 477.85,59.8 477.90,55.8 477.95,54.5 478.00,52.4 478.05,51.8 478.10,51.3 478.15,50.8 478.20,51.5 478.25,51.3 478.30,52.9 478.35,52.1 478.40,53.9 478.45,57.4 478.50,64.4 478.55,61.6 478.60,56.5 478.65,54.8 478.70,54.0 478.75,57.8 478.80,58.0 478.85,55.4 478.90,53.5 478.95,50.9 479.00,50.8 479.05,49.3 479.10,49.1 479.15,48.8 479.20,48.4 479.25,48.2 479.30,49.5 479.35,48.5 479.40,48.7 479.45,48.2 479.50,48.6 479.55,48.1 479.60,49.4 479.65,48.5 479.70,49.5 479.75,48.7 479.80,49.2 479.85,48.7 479.90,48.7 479.95,49.5 480.00,49.8 480.05,48.8 480.10,48.8 480.15,48.9 480.20,49.1 480.25,49.5 480.30,50.1 480.35,49.5 480.40,49.1 480.45,49.1 480.50,50.1 480.55,49.3 480.60,49.6 480.65,49.2 480.70,49.2 480.75,49.2 480.80,49.6 480.85,49.4 480.90,49.2 480.95,49.7 481.00,49.2 481.05,50.0 481.10,50.1 481.15,49.2 481.20,49.4 481.25,50.4 481.30,49.0 481.35,48.8 481.40,49.1 481.45,48.5 481.50,48.8 481.55,48.1 481.60,48.7 481.65,48.1 481.70,49.1 481.75,48.5 481.80,48.1 481.85,48.0 481.90,48.6 481.95,48.6 482.00,48.5 482.05,48.9 482.10,49.5 482.15,49.3 482.20,50.0 482.25,49.9 482.30,51.0 482.35,51.5 482.40,54.7 482.45,58.4 482.50,57.4 482.55,53.8 482.60,51.6 482.65,52.3 482.70,51.3 482.75,50.5 482.80,51.5 482.85,50.3 482.90,50.7 482.95,50.6 483.00,50.3 483.05,50.6 483.10,49.3 483.15,49.2 483.20,50.7 483.25,50.4 483.30,49.6 483.35,49.9 483.40,51.0 483.45,52.2 483.50,55.8 483.55,60.8 483.60,76.3 483.65,66.1 483.70,56.1 483.75,53.1 483.80,51.8 483.85,51.8 483.90,52.6 483.95,54.4 484.00,60.0 484.05,66.9 484.10,60.3 484.15,55.5 484.20,52.6 484.25,51.1 484.30,50.3 484.35,49.8 484.40,49.5 484.45,49.2 484.50,49.6 484.55,49.0 484.60,49.7 484.65,49.0 484.70,50.6 484.75,50.7 484.80,52.1 484.85,54.0 484.90,59.0 484.95,66.1 485.00,70.9 485.05,68.4 485.10,62.5 485.15,47.6 485.20,53.7 485.25,51.1 485.30,50.1 485.35,52.1 485.40,49.5 485.45,49.9 485.50,48.3 485.55,48.2 485.60,48.8 485.65,47.9 485.70,49.0 485.75,47.9 485.80,48.2 485.85,48.5 485.90,47.6 485.95,47.9 486.00,48.0 486.05,48.7 486.10,48.2 486.15,47.8 486.20,48.6 486.25,48.3 486.30,48.4 486.35,46.2 486.40,49.5 486.45,52.2 486.50,50.7 486.55,52.6 486.60,55.0 486.65,56.9 486.70,53.9 486.75,52.6 486.80,49.9 486.85,49.6 486.90,48.5 486.95,48.2 487.00,47.8 487.05,47.8 487.10,48.3 487.15,48.0 487.20,49.0 487.25,49.0 487.30,49.8 487.35,50.4 487.40,51.4 487.45,51.8 487.50,53.1 487.55,52.3 487.60,52.7 487.65,53.1 487.70,53.4 487.75,53.6 487.80,53.3 487.85,53.2 487.90,53.4 487.95,54.2 488.00,53.0 488.05,53.8 488.10,53.3 488.15,53.7 488.20,52.7 488.25,52.6 488.30,53.8 488.35,53.3 488.40,52.6 488.45,52.5 488.50,52.8 488.55,52.0 488.60,52.5 488.65,51.9 488.70,52.5 488.75,49.8 488.80,52.0 488.85,52.5 488.90,55.6 488.95,54.9 489.00,57.5 489.05,63.1 489.10,71.8 489.15,74.9 489.20,70.0 489.25,62.6 489.30,58.5 489.35,57.1 489.40,56.6 489.45,57.1 489.50,59.2 489.55,64.6 489.60,77.2 489.65,94.4 489.70,95.0 489.75,78.6 489.80,71.1 489.85,70.2 489.90,76.8 489.95,84.2 490.00,80.7 490.05,82.7 490.10,49.8 490.15,68.2 490.20,61.5 490.25,57.6 490.30,54.8 490.35,52.8 490.40,51.3 490.45,50.6 490.50,49.8 490.55,49.0 490.60,49.0 490.65,48.1 490.70,47.3 490.75,47.2 490.80,46.9 490.85,46.8 490.90,47.4 490.95,47.0 491.00,46.9 491.05,46.9 491.10,46.5 491.15,46.5 491.20,47.1 491.25,46.7 491.30,46.4 491.35,47.3 491.40,47.4 491.45,46.5 491.50,47.4 491.55,46.8 491.60,47.0 491.65,47.3 491.70,47.3 491.75,48.3 491.80,48.4 491.85,48.8 491.90,49.0 491.95,48.8 492.00,48.7 492.05,49.4 492.10,49.3 492.15,49.6 492.20,50.0 492.25,51.3 492.30,51.7 492.35,51.4 492.40,52.1 492.45,53.3 492.50,52.7 492.55,52.6 492.60,52.5 492.65,53.3 492.70,53.5 492.75,55.2 492.80,59.5 492.85,66.7 492.90,75.0 492.95,69.0 493.00,59.1 493.05,54.4 493.10,50.7 493.15,50.4 493.20,49.4 493.25,50.1 493.30,49.5 493.35,51.0 493.40,50.2 493.45,51.6 493.50,52.3 493.55,52.8 493.60,54.8 493.65,58.1 493.70,62.3 493.75,67.8 493.80,68.0 493.85,64.3 493.90,58.7 493.95,56.4 494.00,54.3 494.05,53.5 494.10,53.4 494.15,56.1 494.20,47.6 494.25,60.1 494.30,59.4 494.35,56.1 494.40,54.2 494.45,52.9 494.50,52.8 494.55,52.5 494.60,52.8 494.65,52.9 494.70,54.5 494.75,55.0 494.80,56.8 494.85,59.0 494.90,62.7 494.95,71.6 495.00,77.6 495.05,84.1 495.10,82.4 495.15,73.4 495.20,65.5 495.25,61.2 495.30,58.4 495.35,56.7 495.40,55.9 495.45,55.4 495.50,58.3 495.55,63.5 495.60,73.0 495.65,61.6 495.70,56.9 495.75,56.4 495.80,58.0 495.85,61.6 495.90,66.0 495.95,66.7 496.00,61.2 496.05,56.4 496.10,53.6 496.15,52.1 496.20,50.5 496.25,49.8 496.30,49.3 496.35,50.0 496.40,48.2 496.45,49.3 496.50,47.8 496.55,48.9 496.60,47.7 496.65,47.8 496.70,47.4 496.75,47.6 496.80,49.0 496.85,47.6 496.90,47.6 496.95,49.4 497.00,49.0 497.05,50.9 497.10,55.3 497.15,68.2 497.20,84.6 497.25,48.7 497.30,55.0 497.35,50.3 497.40,48.2 497.45,47.6 497.50,47.1 497.55,47.6 497.60,47.6 497.65,47.1 497.70,46.4 497.75,46.7 497.80,47.3 497.85,48.1 497.90,47.6 497.95,47.3 498.00,47.3 498.05,47.6 498.10,47.5 498.15,48.1 498.20,47.4 498.25,48.4 498.30,47.3 498.35,47.4 498.40,48.3 498.45,47.6 498.50,47.6 498.55,47.6 498.60,47.5 498.65,48.1 498.70,48.2 498.75,48.1 498.80,47.9 498.85,48.2 498.90,48.7 498.95,48.2 499.00,49.3 499.05,48.3 499.10,49.5 499.15,49.7 499.20,49.5 499.25,49.3 499.30,50.0 499.35,52.2 499.40,50.0 499.45,50.3 499.50,50.7 499.55,51.4 499.60,51.5 499.65,51.7 499.70,52.3 499.75,52.1 499.80,52.8 499.85,51.8 499.90,52.6 499.95,53.8 500.00,55.9 500.05,62.8 500.10,70.4 500.15,60.0 500.20,53.6 500.25,51.9 500.30,50.4 500.35,49.9 500.40,50.1 500.45,50.4 500.50,49.7 500.55,49.2 500.60,49.1 500.65,50.0 500.70,50.4 500.75,52.7 500.80,60.2 500.85,59.8 500.90,52.4 500.95,50.1 501.00,49.4 501.05,49.5 501.10,49.5 501.15,49.7 501.20,49.3 501.25,50.9 501.30,49.4 501.35,49.2 501.40,49.4 501.45,49.8 501.50,50.4 501.55,49.7 501.60,48.7 501.65,48.8 501.70,48.1 501.75,47.5 501.80,48.1 501.85,47.8 501.90,46.5 501.95,46.0 502.00,45.6 502.05,46.2 502.10,45.7 502.15,45.3 502.20,45.6 502.25,45.7 502.30,46.1 502.35,45.8 502.40,45.5 502.45,47.2 502.50,46.1 502.55,46.2 502.60,46.4 502.65,47.2 502.70,46.9 502.75,47.5 502.80,48.2 502.85,51.2 502.90,48.9 502.95,49.5 503.00,51.0 503.05,51.1 503.10,53.0 503.15,56.0 503.20,57.9 503.25,63.8 503.30,66.9 503.35,64.2 503.40,61.4 503.45,60.4 503.50,45.1 503.55,71.1 503.60,68.5 503.65,60.8 503.70,57.1 503.75,55.8 503.80,55.3 503.85,54.5 503.90,54.4 503.95,53.7 504.00,54.1 504.05,52.3 504.10,51.3 504.15,51.5 504.20,50.8 504.25,51.0 504.30,51.3 504.35,53.1 504.40,51.9 504.45,53.9 504.50,56.4 504.55,53.5 504.60,51.2 504.65,50.2 504.70,50.3 504.75,50.8 504.80,51.1 504.85,52.9 504.90,54.9 504.95,56.6 505.00,61.6 505.05,67.7 505.10,78.1 505.15,79.5 505.20,73.0 505.25,65.1 505.30,59.9 505.35,55.8 505.40,53.9 505.45,51.9 505.50,52.0 505.55,50.7 505.60,49.9 505.65,49.5 505.70,49.2 505.75,49.7 505.80,49.2 505.85,49.4 505.90,48.6 505.95,49.1 506.00,48.4 506.05,49.5 506.10,48.3 506.15,48.5 506.20,47.7 506.25,47.5 506.30,48.0 506.35,47.9 506.40,47.4 506.45,47.7 506.50,48.0 506.55,47.5 506.60,47.5 506.65,49.1 506.70,47.5 506.75,47.6 506.80,47.5 506.85,47.4 506.90,48.5 506.95,48.0 507.00,48.9 507.05,48.6 507.10,48.6 507.15,49.0 507.20,49.5 507.25,49.7 507.30,50.2 507.35,51.0 507.40,52.4 507.45,53.9 507.50,56.5 507.55,59.5 507.60,66.7 507.65,74.4 507.70,79.4 507.75,71.9 507.80,65.4 507.85,59.4 507.90,56.3 507.95,56.6 508.00,58.9 508.05,62.3 508.10,69.6 508.15,82.5 508.20,70.3 508.25,58.6 508.30,53.5 508.35,52.5 508.40,52.1 508.45,54.4 508.50,54.9 508.55,59.1 508.60,70.9 508.65,74.0 508.70,62.6 508.75,55.8 508.80,52.4 508.85,50.8 508.90,49.7 508.95,47.9 509.00,48.3 509.05,48.1 509.10,49.1 509.15,52.6 509.20,58.7 509.25,54.3 509.30,48.3 509.35,48.2 509.40,47.2 509.45,45.4 509.50,46.0 509.55,44.8 509.60,45.5 509.65,46.1 509.70,45.3 509.75,44.8 509.80,45.3 509.85,46.1 509.90,45.5 509.95,46.3 510.00,45.9 510.05,44.8 510.10,44.8 510.15,45.1 510.20,45.4 510.25,47.4 510.30,48.1 510.35,49.6 510.40,47.1 510.45,44.6 510.50,43.3 510.55,43.2 510.60,43.6 510.65,43.5 510.70,44.2 510.75,44.5 510.80,44.5 510.85,44.8 510.90,45.4 510.95,45.5 511.00,49.0 511.05,46.2 511.10,47.0 511.15,46.6 511.20,46.8 511.25,48.2 511.30,47.9 511.35,47.0 511.40,46.9 511.45,47.4 511.50,47.2 511.55,47.0 511.60,47.9 511.65,47.2 511.70,47.9 511.75,47.1 511.80,47.0 511.85,46.4 511.90,45.9 511.95,45.8 512.00,45.8 512.05,44.8 512.10,44.6 512.15,44.1 512.20,44.2 512.25,43.6 512.30,43.8 512.35,44.0 512.40,43.8 512.45,44.4 512.50,45.0 512.55,44.7 512.60,45.0 512.65,46.0 512.70,47.2 512.75,45.9 512.80,46.2 512.85,46.9 512.90,47.9 512.95,47.2 513.00,47.3 513.05,47.9 513.10,48.0 513.15,48.1 513.20,48.5 513.25,49.0 513.30,49.3 513.35,49.1 513.40,49.4 513.45,50.6 513.50,50.3 513.55,50.0 513.60,50.3 513.65,49.4 513.70,50.0 513.75,49.5 513.80,49.4 513.85,49.9 513.90,50.3 513.95,49.2 514.00,49.3 514.05,49.8 514.10,49.9 514.15,49.6 514.20,50.9 514.25,50.4 514.30,42.3 514.35,55.9 514.40,55.5 514.45,51.7 514.50,49.0 514.55,47.6 514.60,46.7 514.65,46.2 514.70,45.3 514.75,45.2 514.80,44.8 514.85,45.2 514.90,44.5 514.95,43.3 515.00,43.3 515.05,43.1 515.10,43.6 515.15,42.8 515.20,42.0 515.25,41.8 515.30,41.8 515.35,42.1 515.40,41.9 515.45,42.3 515.50,43.2 515.55,42.4 515.60,45.9 515.65,44.2 515.70,46.8 515.75,45.6 515.80,46.2 515.85,47.4 515.90,48.7 515.95,51.1 516.00,55.3 516.05,60.8 516.10,68.9 516.15,80.5 516.20,92.3 516.25,97.9 516.30,85.0 516.35,71.3 516.40,64.0 516.45,57.8 516.50,55.4 516.55,53.6 516.60,51.6 516.65,51.3 516.70,49.9 516.75,48.3 516.80,46.9 516.85,45.1 516.90,45.4 516.95,44.9 517.00,43.7 517.05,43.4 517.10,41.8 517.15,42.4 517.20,42.5 517.25,43.9 517.30,44.4 517.35,45.4 517.40,47.0 517.45,51.3 517.50,56.7 517.55,76.9 517.60,42.5 517.65,57.7 517.70,58.6 517.75,63.9 517.80,69.8 517.85,66.0 517.90,57.9 517.95,53.3 518.00,51.5 518.05,48.9 518.10,42.6 518.15,47.4 518.20,47.1 518.25,48.1 518.30,46.8 518.35,46.2 518.40,45.8 518.45,46.1 518.50,45.6 518.55,46.0 518.60,45.8 518.65,45.7 518.70,45.3 518.75,44.8 518.80,45.6 518.85,46.7 518.90,47.9 518.95,52.1 519.00,55.0 519.05,54.3 519.10,51.6 519.15,49.2 519.20,47.5 519.25,47.9 519.30,48.8 519.35,51.0 519.40,57.0 519.45,61.4 519.50,57.5 519.55,57.8 519.60,62.1 519.65,69.2 519.70,58.4 519.75,49.7 519.80,46.2 519.85,44.7 519.90,43.9 519.95,43.2 520.00,43.3 520.05,42.7 520.10,43.5 520.15,42.1 520.20,42.5 520.25,42.1 520.30,42.6 520.35,43.1 520.40,42.3 520.45,42.1 520.50,42.2 520.55,41.9 520.60,42.1 520.65,42.6 520.70,42.2 520.75,42.4 520.80,43.5 520.85,41.8 520.90,41.6 520.95,42.3 521.00,42.4 521.05,42.3 521.10,42.5 521.15,43.3 521.20,40.2 521.25,49.5 521.30,62.3 521.35,70.8 521.40,53.3 521.45,46.4 521.50,44.2 521.55,45.6 521.60,44.6 521.65,43.5 521.70,44.8 521.75,43.9 521.80,46.8 521.85,47.8 521.90,51.1 521.95,43.2 522.00,48.5 522.05,46.0 522.10,44.5 522.15,43.8 522.20,43.0 522.25,43.0 522.30,42.4 522.35,42.6 522.40,42.6 522.45,42.5 522.50,42.7 522.55,42.9 522.60,42.6 522.65,41.8 522.70,43.1 522.75,42.6 522.80,43.7 522.85,44.9 522.90,47.1 522.95,52.2 523.00,59.0 523.05,41.2 523.10,50.0 523.15,46.1 523.20,44.2 523.25,43.7 523.30,43.2 523.35,42.4 523.40,42.4 523.45,43.1 523.50,43.3 523.55,43.3 523.60,43.8 523.65,44.2 523.70,45.0 523.75,45.1 523.80,40.8 523.85,47.6 523.90,49.9 523.95,51.8 524.00,53.6 524.05,53.1 524.10,49.9 524.15,47.5 524.20,45.8 524.25,44.7 524.30,43.9 524.35,44.0 524.40,44.2 524.45,46.1 524.50,45.5 524.55,45.7 524.60,46.1 524.65,48.8 524.70,47.2 524.75,48.1 524.80,49.1 524.85,49.5 524.90,50.1 524.95,49.2 525.00,48.4 525.05,49.2 525.10,50.0 525.15,49.9 525.20,52.2 525.25,55.5 525.30,62.2 525.35,82.5 525.40,89.0 525.45,66.4 525.50,74.4 525.55,42.3 525.60,52.8 525.65,47.4 525.70,45.5 525.75,44.2 525.80,43.9 525.85,44.1 525.90,44.4 525.95,44.9 526.00,46.4 526.05,45.5 526.10,47.5 526.15,48.1 526.20,44.8 526.25,44.1 526.30,43.5 526.35,43.0 526.40,43.3 526.45,42.0 526.50,42.8 526.55,41.8 526.60,41.6 526.65,43.6 526.70,46.0 526.75,44.1 526.80,41.5 526.85,39.7 526.90,38.9 526.95,38.7 527.00,40.3 527.05,38.9 527.10,41.6 527.15,40.5 527.20,41.2 527.25,46.6 527.30,63.3 527.35,55.0 527.40,43.2 527.45,40.6 527.50,39.6 527.55,40.5 527.60,38.8 527.65,39.3 527.70,38.7 527.75,38.7 527.80,39.5 527.85,40.4 527.90,39.8 527.95,39.2 528.00,40.3 528.05,39.4 528.10,39.3 528.15,39.8 528.20,40.2 528.25,40.7 528.30,42.2 528.35,47.9 528.40,57.2 528.45,62.4 528.50,49.1 528.55,43.1 528.60,40.1 528.65,40.7 528.70,38.4 528.75,38.4 528.80,37.9 528.85,38.8 528.90,37.5 528.95,37.4 529.00,37.7 529.05,38.9 529.10,39.9 529.15,39.5 529.20,40.6 529.25,42.7 529.30,45.5 529.35,51.0 529.40,63.3 529.45,84.9 529.50,93.8 529.55,69.4 529.60,54.4 529.65,48.3 529.70,45.6 529.75,44.6 529.80,45.4 529.85,48.3 529.90,54.1 529.95,63.7 530.00,67.3 530.05,58.0 530.10,48.9 530.15,43.3 530.20,40.6 530.25,39.3 530.30,38.0 530.35,38.1 530.40,39.1 530.45,41.7 530.50,44.9 530.55,40.3 530.60,37.8 530.65,36.4 530.70,35.8 530.75,35.0 530.80,36.9 530.85,35.7 530.90,34.9 530.95,35.5 531.00,34.9 531.05,35.9 531.10,36.0 531.15,36.3 531.20,37.1 531.25,38.5 531.30,40.8 531.35,47.7 531.40,66.3 531.45,60.0 531.50,45.2 531.55,41.3 531.60,38.8 531.65,38.0 531.70,38.5 531.75,38.2 531.80,38.6 531.85,37.1 531.90,37.9 531.95,37.5 532.00,37.5 532.05,37.7 532.10,37.7 532.15,37.6 532.20,37.0 532.25,36.8 532.30,36.6 532.35,36.9 532.40,35.8 532.45,35.3 532.50,35.5 532.55,35.1 532.60,34.9 532.65,34.9 532.70,36.5 532.75,35.4 532.80,35.6 532.85,37.9 532.90,37.5 532.95,39.3 533.00,35.0 533.05,50.5 533.10,46.4 533.15,45.9 533.20,48.6 533.25,53.5 533.30,66.1 533.35,86.8 533.40,34.8 533.45,102.0 533.50,81.7 533.55,76.4 533.60,72.8 533.65,61.0 533.70,53.4 533.75,46.1 533.80,42.9 533.85,41.4 533.90,39.1 533.95,38.2 534.00,39.4 534.05,37.8 534.10,36.7 534.15,36.1 534.20,35.6 534.25,35.5 534.30,35.4 534.35,35.4 534.40,36.8 534.45,35.8 534.50,37.2 534.55,38.7 534.60,46.0 534.65,50.8 534.70,42.3 534.75,41.6 534.80,42.9 534.85,41.2 534.90,38.3 534.95,36.7 535.00,35.9 535.05,35.3 535.10,35.7 535.15,35.4 535.20,36.0"/>
<g class="tk" text-anchor="middle"><text x="35.5" y="318">6000</text><text x="85.5" y="318">6050</text><text x="135.5" y="318">6100</text><text x="185.5" y="318">6150</text><text x="235.5" y="318">6200</text><text x="285.5" y="318">6250</text><text x="335.5" y="318">6300</text><text x="385.5" y="318">6350</text><text x="435.5" y="318">6400</text><text x="485.5" y="318">6450</text><text x="535.5" y="318">6500</text></g>
<g class="tk" text-anchor="end"><text x="33.6" y="309.3">2</text><text x="33.6" y="273.2">3</text><text x="33.6" y="237.2">4</text><text x="33.6" y="201.2">5</text><text x="33.6" y="165.1">6</text><text x="33.6" y="129.1">7</text><text x="33.6" y="93.0">8</text><text x="33.6" y="57.0">9</text><text x="33.6" y="20.9">10</text></g>
<text class="s" x="36.4" y="14.9" font-size="10">×</text>
<text class="du" x="46.9" y="13.7" font-size="10.8" textLength="11.9" lengthAdjust="spacingAndGlyphs">10</text>
<text class="s" x="60" y="10.3" font-size="9.5">−</text>
<text class="du" x="65.7" y="8.9" font-size="6.8">7</text>
<rect x="347.5" y="42" width="71" height="263" fill="none" stroke="#f52f33" stroke-width="1.5"/>
<text class="s" x="283.3" y="34.6" font-size="11.8" textLength="210.7" lengthAdjust="spacingAndGlyphs">GMI infrared one channel spectral range</text>
<path d="M283.3 35.6q1.4 -0.3 2.8 0t2.8 0t2.8 0t2.8 0t2.8 0t2.8 0t2.8 0t2.8 0" fill="none" stroke="#f04848" stroke-width="0.9"/>
<text class="s" x="233.8" y="336.9" font-size="13.4" textLength="73.7" lengthAdjust="spacingAndGlyphs">Wavelength/</text>
<text class="d" x="309.2" y="337.2" font-size="14" textLength="21.6" lengthAdjust="spacingAndGlyphs">cm</text>
<text class="s" x="330.6" y="332" font-size="12">−</text>
<text class="du" x="339.4" y="330.8" font-size="8.6">1</text>
<g transform="translate(15.2 247.8) rotate(-90)">
<text class="s" x="0" y="0" font-size="12" textLength="52.1" lengthAdjust="spacingAndGlyphs">Radiance</text>
<text class="du" x="53.6" y="1.2" font-size="15">(</text>
<text class="d" x="59.6" y="0.8" font-size="12.9" textLength="40.5" lengthAdjust="spacingAndGlyphs">w/cm</text>
<text class="du" x="100" y="-4.7" font-size="9.6">2</text>
<text class="d" x="107.5" y="0.8" font-size="12.9" textLength="35.6" lengthAdjust="spacingAndGlyphs">srcm</text>
<text class="s" x="143.4" y="-3.6" font-size="12">−</text>
<text class="du" x="152.3" y="-4.2" font-size="9.6">1</text>
<text class="du" x="157.8" y="1.2" font-size="15">)</text>
</g>
</svg>
</body></html>
